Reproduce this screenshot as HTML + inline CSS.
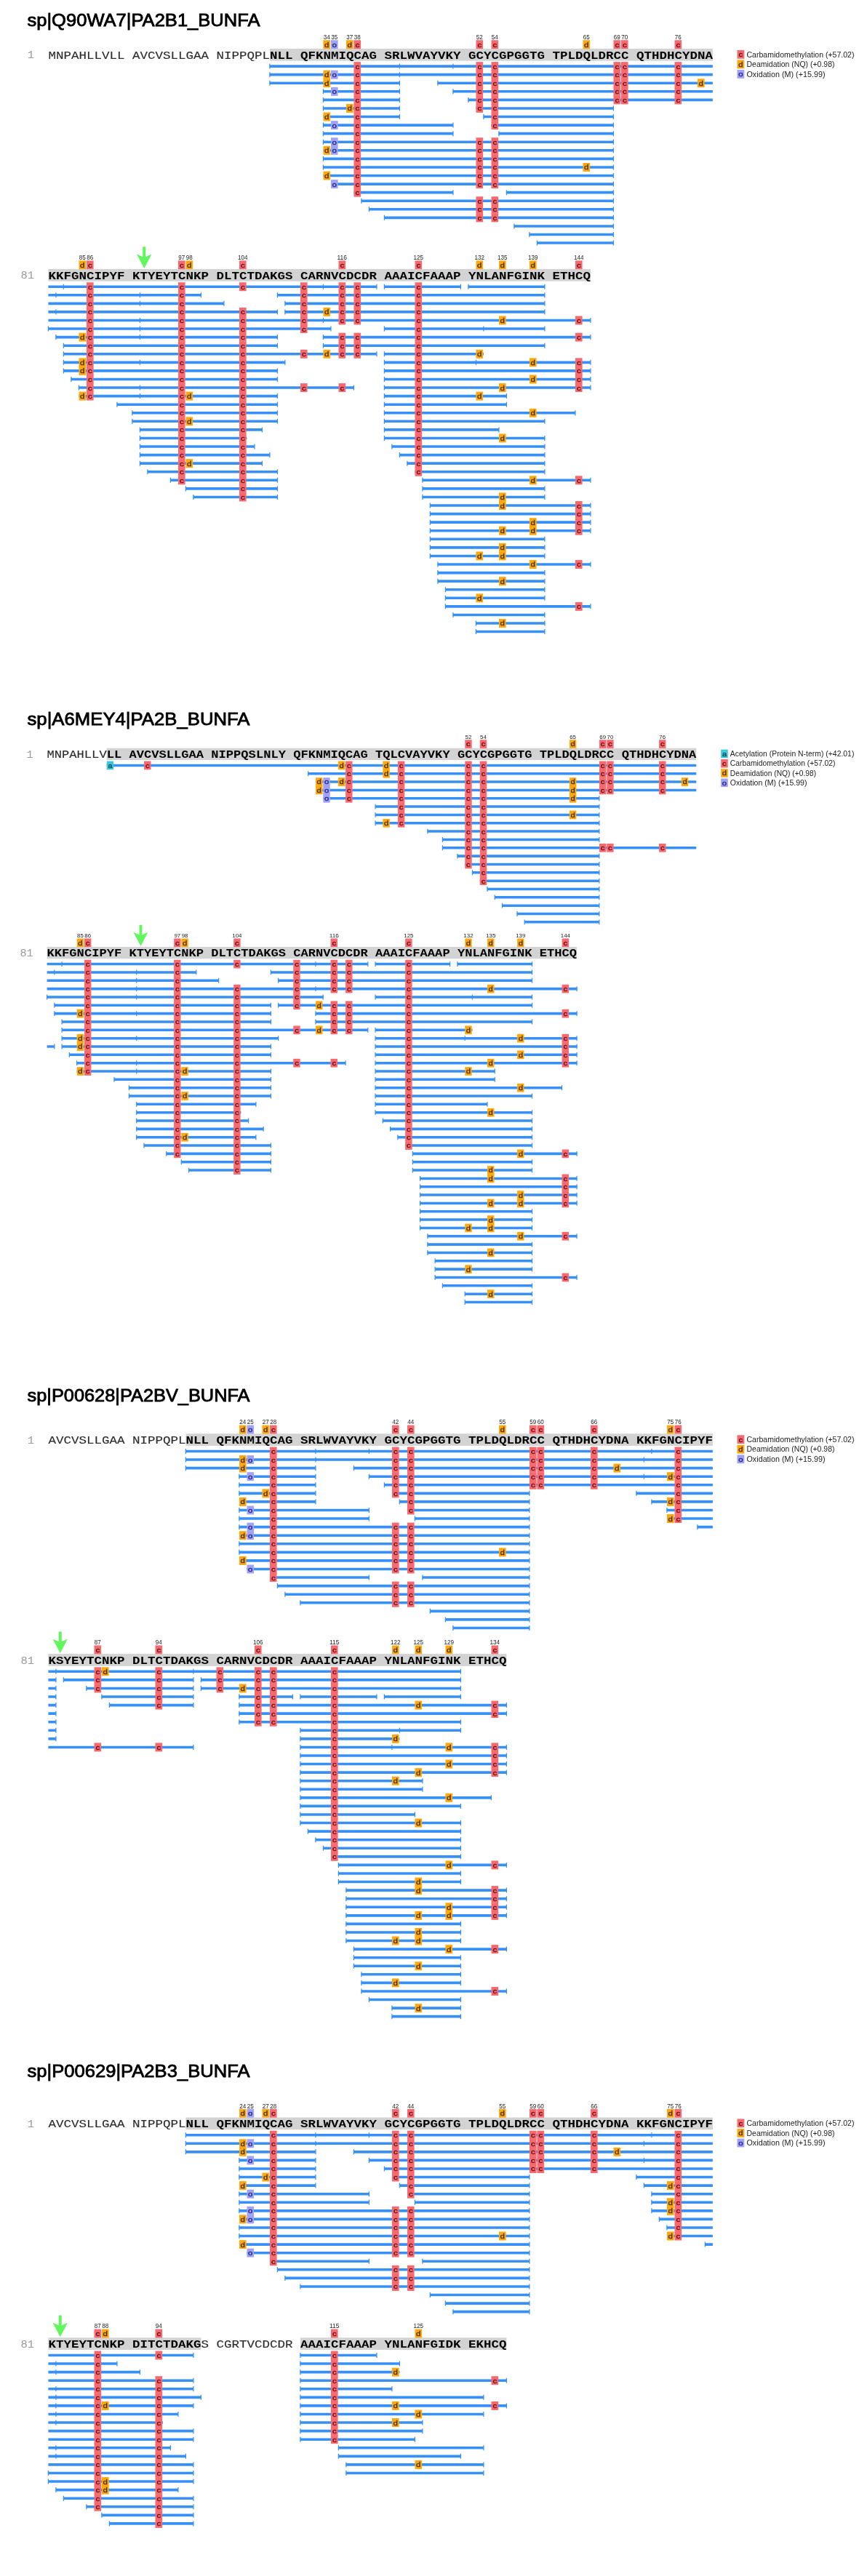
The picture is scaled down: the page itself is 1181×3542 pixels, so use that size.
<!DOCTYPE html>
<html><head><meta charset="utf-8"><title>Peptide coverage</title>
<style>html,body{margin:0;padding:0;background:#fff}svg{display:block;filter:blur(.4px)}text{font-family:"Liberation Sans",sans-serif}.ti{font-size:24.8px;fill:#000;stroke:#000;stroke-width:.85px}.s{font-family:"Liberation Mono",monospace;font-size:14.6px;fill:#2e2e2e;stroke:#2e2e2e;stroke-width:.15px}.sb{font-family:"Liberation Mono",monospace;font-size:14.6px;font-weight:bold;fill:#000}.n{font-family:"Liberation Mono",monospace;font-size:15.5px;fill:#9a9a9a}.m{font-size:9.6px;text-anchor:middle;stroke-width:.3px}.t{font-size:8.2px;text-anchor:middle;fill:#222}.lg{font-size:10.6px;fill:#222}</style></head><body>
<svg width="1181" height="3542" viewBox="0 0 1181 3542">
<rect width="1181" height="3542" fill="#fff"/>
<text x="37.5" y="36" class="ti" textLength="320" lengthAdjust="spacingAndGlyphs">sp|Q90WA7|PA2B1_BUNFA</text>
<g transform="translate(0 76.1)">
<rect x="370.9" y="-9.2" width="609" height="16.7" fill="#d3d3d3"/>
<text x="47" y="4.2" class="n" text-anchor="end">1</text>
<text x="66.4" y="4.4" class="s" textLength="105" lengthAdjust="spacingAndGlyphs">MNPAHLLVLL</text>
<text x="181.9" y="4.4" class="s" textLength="105" lengthAdjust="spacingAndGlyphs">AVCVSLLGAA</text>
<text x="297.4" y="4.4" class="s" textLength="73.5" lengthAdjust="spacingAndGlyphs">NIPPQPL</text>
<text x="370.9" y="4.4" class="sb" textLength="31.5" lengthAdjust="spacingAndGlyphs">NLL</text>
<text x="412.9" y="4.4" class="sb" textLength="105" lengthAdjust="spacingAndGlyphs">QFKNMIQCAG</text>
<text x="528.4" y="4.4" class="sb" textLength="105" lengthAdjust="spacingAndGlyphs">SRLWVAYVKY</text>
<text x="643.9" y="4.4" class="sb" textLength="105" lengthAdjust="spacingAndGlyphs">GCYCGPGGTG</text>
<text x="759.4" y="4.4" class="sb" textLength="105" lengthAdjust="spacingAndGlyphs">TPLDQLDRCC</text>
<text x="874.9" y="4.4" class="sb" textLength="105" lengthAdjust="spacingAndGlyphs">QTHDHCYDNA</text>
<rect x="444.5" y="-20.9" width="9.6" height="11.9" fill="#fda80c"/>
<text x="449.3" y="-11.45" class="m" fill="#4a3000" stroke="#4a3000" textLength="6.4" lengthAdjust="spacingAndGlyphs">d</text>
<text x="449.3" y="-22.2" class="t" textLength="9" lengthAdjust="spacingAndGlyphs">34</text>
<rect x="455" y="-20.9" width="9.6" height="11.9" fill="#a0a2fa"/>
<text x="459.8" y="-11.45" class="m" fill="#23277a" stroke="#23277a" textLength="6.4" lengthAdjust="spacingAndGlyphs">o</text>
<text x="459.8" y="-22.2" class="t" textLength="9" lengthAdjust="spacingAndGlyphs">35</text>
<rect x="476" y="-20.9" width="9.6" height="11.9" fill="#fda80c"/>
<text x="480.8" y="-11.45" class="m" fill="#4a3000" stroke="#4a3000" textLength="6.4" lengthAdjust="spacingAndGlyphs">d</text>
<text x="480.8" y="-22.2" class="t" textLength="9" lengthAdjust="spacingAndGlyphs">37</text>
<rect x="486.5" y="-20.9" width="9.6" height="11.9" fill="#f8696f"/>
<text x="491.3" y="-11.45" class="m" fill="#5c0c10" stroke="#5c0c10" textLength="5.8" lengthAdjust="spacingAndGlyphs">c</text>
<text x="491.3" y="-22.2" class="t" textLength="9" lengthAdjust="spacingAndGlyphs">38</text>
<rect x="654.5" y="-20.9" width="9.6" height="11.9" fill="#f8696f"/>
<text x="659.3" y="-11.45" class="m" fill="#5c0c10" stroke="#5c0c10" textLength="5.8" lengthAdjust="spacingAndGlyphs">c</text>
<text x="659.3" y="-22.2" class="t" textLength="9" lengthAdjust="spacingAndGlyphs">52</text>
<rect x="675.5" y="-20.9" width="9.6" height="11.9" fill="#f8696f"/>
<text x="680.3" y="-11.45" class="m" fill="#5c0c10" stroke="#5c0c10" textLength="5.8" lengthAdjust="spacingAndGlyphs">c</text>
<text x="680.3" y="-22.2" class="t" textLength="9" lengthAdjust="spacingAndGlyphs">54</text>
<rect x="801.5" y="-20.9" width="9.6" height="11.9" fill="#fda80c"/>
<text x="806.3" y="-11.45" class="m" fill="#4a3000" stroke="#4a3000" textLength="6.4" lengthAdjust="spacingAndGlyphs">d</text>
<text x="806.3" y="-22.2" class="t" textLength="9" lengthAdjust="spacingAndGlyphs">65</text>
<rect x="843.5" y="-20.9" width="9.6" height="11.9" fill="#f8696f"/>
<text x="848.3" y="-11.45" class="m" fill="#5c0c10" stroke="#5c0c10" textLength="5.8" lengthAdjust="spacingAndGlyphs">c</text>
<text x="848.3" y="-22.2" class="t" textLength="9" lengthAdjust="spacingAndGlyphs">69</text>
<rect x="854" y="-20.9" width="9.6" height="11.9" fill="#f8696f"/>
<text x="858.8" y="-11.45" class="m" fill="#5c0c10" stroke="#5c0c10" textLength="5.8" lengthAdjust="spacingAndGlyphs">c</text>
<text x="858.8" y="-22.2" class="t" textLength="9" lengthAdjust="spacingAndGlyphs">70</text>
<rect x="927.5" y="-20.9" width="9.6" height="11.9" fill="#f8696f"/>
<text x="932.3" y="-11.45" class="m" fill="#5c0c10" stroke="#5c0c10" textLength="5.8" lengthAdjust="spacingAndGlyphs">c</text>
<text x="932.3" y="-22.2" class="t" textLength="9" lengthAdjust="spacingAndGlyphs">76</text>
<path d="M370.9 15H549.4M549.4 15H622.9M622.9 15H979.9M370.9 26.57H549.4M549.4 26.57H979.9M370.9 38.14H549.4M601.9 38.14H979.9M444.4 49.71H549.4M622.9 49.71H979.9M444.4 61.28H549.4M643.9 61.28H979.9M444.4 72.85H549.4M654.4 72.85H843.4M444.4 84.42H549.4M664.9 84.42H843.4M444.4 95.99H622.9M675.4 95.99H843.4M444.4 107.56H622.9M685.9 107.56H843.4M444.4 119.13H843.4M444.4 130.7H843.4M444.4 142.27H843.4M444.4 153.84H843.4M444.4 165.41H843.4M454.9 176.98H843.4M486.4 188.55H622.9M696.4 188.55H843.4M496.9 200.12H843.4M507.4 211.69H843.4M528.4 223.26H843.4M706.9 234.83H843.4M727.9 246.4H843.4M738.4 257.97H843.4" stroke="#3690f8" stroke-width="3.6" fill="none"/>
<path d="M370.9 11.5v7M549.4 11.5v7M549.4 11.5v7M622.9 11.5v7M622.9 11.5v7M370.9 23.07v7M549.4 23.07v7M549.4 23.07v7M370.9 34.64v7M549.4 34.64v7M601.9 34.64v7M444.4 46.21v7M549.4 46.21v7M622.9 46.21v7M444.4 57.78v7M549.4 57.78v7M643.9 57.78v7M444.4 69.35v7M549.4 69.35v7M843.4 69.35v7M549.4 80.92v7M664.9 80.92v7M843.4 80.92v7M444.4 92.49v7M622.9 92.49v7M843.4 92.49v7M444.4 104.06v7M622.9 104.06v7M685.9 104.06v7M843.4 104.06v7M444.4 115.63v7M843.4 115.63v7M843.4 127.2v7M444.4 138.77v7M843.4 138.77v7M444.4 150.34v7M843.4 150.34v7M843.4 161.91v7M843.4 173.48v7M622.9 185.05v7M696.4 185.05v7M843.4 185.05v7M496.9 196.62v7M843.4 196.62v7M507.4 208.19v7M843.4 208.19v7M528.4 219.76v7M843.4 219.76v7M706.9 231.33v7M843.4 231.33v7M727.9 242.9v7M843.4 242.9v7M738.4 254.47v7M843.4 254.47v7" stroke="#3690f8" stroke-width="1.25" fill="none"/>
<rect x="486.5" y="9.02" width="9.6" height="11.97" fill="#f8696f"/>
<text x="491.3" y="18.5" class="m" fill="#5c0c10" stroke="#5c0c10" textLength="5.8" lengthAdjust="spacingAndGlyphs">c</text>
<rect x="654.5" y="9.02" width="9.6" height="11.97" fill="#f8696f"/>
<text x="659.3" y="18.5" class="m" fill="#5c0c10" stroke="#5c0c10" textLength="5.8" lengthAdjust="spacingAndGlyphs">c</text>
<rect x="675.5" y="9.02" width="9.6" height="11.97" fill="#f8696f"/>
<text x="680.3" y="18.5" class="m" fill="#5c0c10" stroke="#5c0c10" textLength="5.8" lengthAdjust="spacingAndGlyphs">c</text>
<rect x="843.5" y="9.02" width="9.6" height="11.97" fill="#f8696f"/>
<text x="848.3" y="18.5" class="m" fill="#5c0c10" stroke="#5c0c10" textLength="5.8" lengthAdjust="spacingAndGlyphs">c</text>
<rect x="854" y="9.02" width="9.6" height="11.97" fill="#f8696f"/>
<text x="858.8" y="18.5" class="m" fill="#5c0c10" stroke="#5c0c10" textLength="5.8" lengthAdjust="spacingAndGlyphs">c</text>
<rect x="927.5" y="9.02" width="9.6" height="11.97" fill="#f8696f"/>
<text x="932.3" y="18.5" class="m" fill="#5c0c10" stroke="#5c0c10" textLength="5.8" lengthAdjust="spacingAndGlyphs">c</text>
<rect x="444.5" y="20.59" width="9.6" height="11.97" fill="#fda80c"/>
<text x="449.3" y="30.07" class="m" fill="#4a3000" stroke="#4a3000" textLength="6.4" lengthAdjust="spacingAndGlyphs">d</text>
<rect x="455" y="20.59" width="9.6" height="11.97" fill="#a0a2fa"/>
<text x="459.8" y="30.07" class="m" fill="#23277a" stroke="#23277a" textLength="6.4" lengthAdjust="spacingAndGlyphs">o</text>
<rect x="486.5" y="20.59" width="9.6" height="11.97" fill="#f8696f"/>
<text x="491.3" y="30.07" class="m" fill="#5c0c10" stroke="#5c0c10" textLength="5.8" lengthAdjust="spacingAndGlyphs">c</text>
<rect x="654.5" y="20.59" width="9.6" height="11.97" fill="#f8696f"/>
<text x="659.3" y="30.07" class="m" fill="#5c0c10" stroke="#5c0c10" textLength="5.8" lengthAdjust="spacingAndGlyphs">c</text>
<rect x="675.5" y="20.59" width="9.6" height="11.97" fill="#f8696f"/>
<text x="680.3" y="30.07" class="m" fill="#5c0c10" stroke="#5c0c10" textLength="5.8" lengthAdjust="spacingAndGlyphs">c</text>
<rect x="843.5" y="20.59" width="9.6" height="11.97" fill="#f8696f"/>
<text x="848.3" y="30.07" class="m" fill="#5c0c10" stroke="#5c0c10" textLength="5.8" lengthAdjust="spacingAndGlyphs">c</text>
<rect x="854" y="20.59" width="9.6" height="11.97" fill="#f8696f"/>
<text x="858.8" y="30.07" class="m" fill="#5c0c10" stroke="#5c0c10" textLength="5.8" lengthAdjust="spacingAndGlyphs">c</text>
<rect x="927.5" y="20.59" width="9.6" height="11.97" fill="#f8696f"/>
<text x="932.3" y="30.07" class="m" fill="#5c0c10" stroke="#5c0c10" textLength="5.8" lengthAdjust="spacingAndGlyphs">c</text>
<rect x="444.5" y="32.16" width="9.6" height="11.97" fill="#fda80c"/>
<text x="449.3" y="41.64" class="m" fill="#4a3000" stroke="#4a3000" textLength="6.4" lengthAdjust="spacingAndGlyphs">d</text>
<rect x="486.5" y="32.16" width="9.6" height="11.97" fill="#f8696f"/>
<text x="491.3" y="41.64" class="m" fill="#5c0c10" stroke="#5c0c10" textLength="5.8" lengthAdjust="spacingAndGlyphs">c</text>
<rect x="654.5" y="32.16" width="9.6" height="11.97" fill="#f8696f"/>
<text x="659.3" y="41.64" class="m" fill="#5c0c10" stroke="#5c0c10" textLength="5.8" lengthAdjust="spacingAndGlyphs">c</text>
<rect x="675.5" y="32.16" width="9.6" height="11.97" fill="#f8696f"/>
<text x="680.3" y="41.64" class="m" fill="#5c0c10" stroke="#5c0c10" textLength="5.8" lengthAdjust="spacingAndGlyphs">c</text>
<rect x="843.5" y="32.16" width="9.6" height="11.97" fill="#f8696f"/>
<text x="848.3" y="41.64" class="m" fill="#5c0c10" stroke="#5c0c10" textLength="5.8" lengthAdjust="spacingAndGlyphs">c</text>
<rect x="854" y="32.16" width="9.6" height="11.97" fill="#f8696f"/>
<text x="858.8" y="41.64" class="m" fill="#5c0c10" stroke="#5c0c10" textLength="5.8" lengthAdjust="spacingAndGlyphs">c</text>
<rect x="927.5" y="32.16" width="9.6" height="11.97" fill="#f8696f"/>
<text x="932.3" y="41.64" class="m" fill="#5c0c10" stroke="#5c0c10" textLength="5.8" lengthAdjust="spacingAndGlyphs">c</text>
<rect x="959" y="32.16" width="9.6" height="11.97" fill="#fda80c"/>
<text x="963.8" y="41.64" class="m" fill="#4a3000" stroke="#4a3000" textLength="6.4" lengthAdjust="spacingAndGlyphs">d</text>
<rect x="455" y="43.72" width="9.6" height="11.97" fill="#a0a2fa"/>
<text x="459.8" y="53.21" class="m" fill="#23277a" stroke="#23277a" textLength="6.4" lengthAdjust="spacingAndGlyphs">o</text>
<rect x="486.5" y="43.72" width="9.6" height="11.97" fill="#f8696f"/>
<text x="491.3" y="53.21" class="m" fill="#5c0c10" stroke="#5c0c10" textLength="5.8" lengthAdjust="spacingAndGlyphs">c</text>
<rect x="654.5" y="43.72" width="9.6" height="11.97" fill="#f8696f"/>
<text x="659.3" y="53.21" class="m" fill="#5c0c10" stroke="#5c0c10" textLength="5.8" lengthAdjust="spacingAndGlyphs">c</text>
<rect x="675.5" y="43.72" width="9.6" height="11.97" fill="#f8696f"/>
<text x="680.3" y="53.21" class="m" fill="#5c0c10" stroke="#5c0c10" textLength="5.8" lengthAdjust="spacingAndGlyphs">c</text>
<rect x="843.5" y="43.72" width="9.6" height="11.97" fill="#f8696f"/>
<text x="848.3" y="53.21" class="m" fill="#5c0c10" stroke="#5c0c10" textLength="5.8" lengthAdjust="spacingAndGlyphs">c</text>
<rect x="854" y="43.72" width="9.6" height="11.97" fill="#f8696f"/>
<text x="858.8" y="53.21" class="m" fill="#5c0c10" stroke="#5c0c10" textLength="5.8" lengthAdjust="spacingAndGlyphs">c</text>
<rect x="927.5" y="43.72" width="9.6" height="11.97" fill="#f8696f"/>
<text x="932.3" y="53.21" class="m" fill="#5c0c10" stroke="#5c0c10" textLength="5.8" lengthAdjust="spacingAndGlyphs">c</text>
<rect x="486.5" y="55.3" width="9.6" height="11.97" fill="#f8696f"/>
<text x="491.3" y="64.78" class="m" fill="#5c0c10" stroke="#5c0c10" textLength="5.8" lengthAdjust="spacingAndGlyphs">c</text>
<rect x="654.5" y="55.3" width="9.6" height="11.97" fill="#f8696f"/>
<text x="659.3" y="64.78" class="m" fill="#5c0c10" stroke="#5c0c10" textLength="5.8" lengthAdjust="spacingAndGlyphs">c</text>
<rect x="675.5" y="55.3" width="9.6" height="11.97" fill="#f8696f"/>
<text x="680.3" y="64.78" class="m" fill="#5c0c10" stroke="#5c0c10" textLength="5.8" lengthAdjust="spacingAndGlyphs">c</text>
<rect x="843.5" y="55.3" width="9.6" height="11.97" fill="#f8696f"/>
<text x="848.3" y="64.78" class="m" fill="#5c0c10" stroke="#5c0c10" textLength="5.8" lengthAdjust="spacingAndGlyphs">c</text>
<rect x="854" y="55.3" width="9.6" height="11.97" fill="#f8696f"/>
<text x="858.8" y="64.78" class="m" fill="#5c0c10" stroke="#5c0c10" textLength="5.8" lengthAdjust="spacingAndGlyphs">c</text>
<rect x="927.5" y="55.3" width="9.6" height="11.97" fill="#f8696f"/>
<text x="932.3" y="64.78" class="m" fill="#5c0c10" stroke="#5c0c10" textLength="5.8" lengthAdjust="spacingAndGlyphs">c</text>
<rect x="476" y="66.86" width="9.6" height="11.97" fill="#fda80c"/>
<text x="480.8" y="76.35" class="m" fill="#4a3000" stroke="#4a3000" textLength="6.4" lengthAdjust="spacingAndGlyphs">d</text>
<rect x="486.5" y="66.86" width="9.6" height="11.97" fill="#f8696f"/>
<text x="491.3" y="76.35" class="m" fill="#5c0c10" stroke="#5c0c10" textLength="5.8" lengthAdjust="spacingAndGlyphs">c</text>
<rect x="654.5" y="66.86" width="9.6" height="11.97" fill="#f8696f"/>
<text x="659.3" y="76.35" class="m" fill="#5c0c10" stroke="#5c0c10" textLength="5.8" lengthAdjust="spacingAndGlyphs">c</text>
<rect x="675.5" y="66.86" width="9.6" height="11.97" fill="#f8696f"/>
<text x="680.3" y="76.35" class="m" fill="#5c0c10" stroke="#5c0c10" textLength="5.8" lengthAdjust="spacingAndGlyphs">c</text>
<rect x="444.5" y="78.44" width="9.6" height="11.97" fill="#fda80c"/>
<text x="449.3" y="87.92" class="m" fill="#4a3000" stroke="#4a3000" textLength="6.4" lengthAdjust="spacingAndGlyphs">d</text>
<rect x="486.5" y="78.44" width="9.6" height="11.97" fill="#f8696f"/>
<text x="491.3" y="87.92" class="m" fill="#5c0c10" stroke="#5c0c10" textLength="5.8" lengthAdjust="spacingAndGlyphs">c</text>
<rect x="675.5" y="78.44" width="9.6" height="11.97" fill="#f8696f"/>
<text x="680.3" y="87.92" class="m" fill="#5c0c10" stroke="#5c0c10" textLength="5.8" lengthAdjust="spacingAndGlyphs">c</text>
<rect x="455" y="90.01" width="9.6" height="11.97" fill="#a0a2fa"/>
<text x="459.8" y="99.49" class="m" fill="#23277a" stroke="#23277a" textLength="6.4" lengthAdjust="spacingAndGlyphs">o</text>
<rect x="486.5" y="90.01" width="9.6" height="11.97" fill="#f8696f"/>
<text x="491.3" y="99.49" class="m" fill="#5c0c10" stroke="#5c0c10" textLength="5.8" lengthAdjust="spacingAndGlyphs">c</text>
<rect x="675.5" y="90.01" width="9.6" height="11.97" fill="#f8696f"/>
<text x="680.3" y="99.49" class="m" fill="#5c0c10" stroke="#5c0c10" textLength="5.8" lengthAdjust="spacingAndGlyphs">c</text>
<rect x="486.5" y="101.58" width="9.6" height="11.97" fill="#f8696f"/>
<text x="491.3" y="111.06" class="m" fill="#5c0c10" stroke="#5c0c10" textLength="5.8" lengthAdjust="spacingAndGlyphs">c</text>
<rect x="455" y="113.14" width="9.6" height="11.97" fill="#a0a2fa"/>
<text x="459.8" y="122.63" class="m" fill="#23277a" stroke="#23277a" textLength="6.4" lengthAdjust="spacingAndGlyphs">o</text>
<rect x="486.5" y="113.14" width="9.6" height="11.97" fill="#f8696f"/>
<text x="491.3" y="122.63" class="m" fill="#5c0c10" stroke="#5c0c10" textLength="5.8" lengthAdjust="spacingAndGlyphs">c</text>
<rect x="654.5" y="113.14" width="9.6" height="11.97" fill="#f8696f"/>
<text x="659.3" y="122.63" class="m" fill="#5c0c10" stroke="#5c0c10" textLength="5.8" lengthAdjust="spacingAndGlyphs">c</text>
<rect x="675.5" y="113.14" width="9.6" height="11.97" fill="#f8696f"/>
<text x="680.3" y="122.63" class="m" fill="#5c0c10" stroke="#5c0c10" textLength="5.8" lengthAdjust="spacingAndGlyphs">c</text>
<rect x="444.5" y="124.71" width="9.6" height="11.97" fill="#fda80c"/>
<text x="449.3" y="134.2" class="m" fill="#4a3000" stroke="#4a3000" textLength="6.4" lengthAdjust="spacingAndGlyphs">d</text>
<rect x="455" y="124.71" width="9.6" height="11.97" fill="#a0a2fa"/>
<text x="459.8" y="134.2" class="m" fill="#23277a" stroke="#23277a" textLength="6.4" lengthAdjust="spacingAndGlyphs">o</text>
<rect x="486.5" y="124.71" width="9.6" height="11.97" fill="#f8696f"/>
<text x="491.3" y="134.2" class="m" fill="#5c0c10" stroke="#5c0c10" textLength="5.8" lengthAdjust="spacingAndGlyphs">c</text>
<rect x="654.5" y="124.71" width="9.6" height="11.97" fill="#f8696f"/>
<text x="659.3" y="134.2" class="m" fill="#5c0c10" stroke="#5c0c10" textLength="5.8" lengthAdjust="spacingAndGlyphs">c</text>
<rect x="675.5" y="124.71" width="9.6" height="11.97" fill="#f8696f"/>
<text x="680.3" y="134.2" class="m" fill="#5c0c10" stroke="#5c0c10" textLength="5.8" lengthAdjust="spacingAndGlyphs">c</text>
<rect x="486.5" y="136.29" width="9.6" height="11.97" fill="#f8696f"/>
<text x="491.3" y="145.77" class="m" fill="#5c0c10" stroke="#5c0c10" textLength="5.8" lengthAdjust="spacingAndGlyphs">c</text>
<rect x="654.5" y="136.29" width="9.6" height="11.97" fill="#f8696f"/>
<text x="659.3" y="145.77" class="m" fill="#5c0c10" stroke="#5c0c10" textLength="5.8" lengthAdjust="spacingAndGlyphs">c</text>
<rect x="675.5" y="136.29" width="9.6" height="11.97" fill="#f8696f"/>
<text x="680.3" y="145.77" class="m" fill="#5c0c10" stroke="#5c0c10" textLength="5.8" lengthAdjust="spacingAndGlyphs">c</text>
<rect x="486.5" y="147.86" width="9.6" height="11.97" fill="#f8696f"/>
<text x="491.3" y="157.34" class="m" fill="#5c0c10" stroke="#5c0c10" textLength="5.8" lengthAdjust="spacingAndGlyphs">c</text>
<rect x="654.5" y="147.86" width="9.6" height="11.97" fill="#f8696f"/>
<text x="659.3" y="157.34" class="m" fill="#5c0c10" stroke="#5c0c10" textLength="5.8" lengthAdjust="spacingAndGlyphs">c</text>
<rect x="675.5" y="147.86" width="9.6" height="11.97" fill="#f8696f"/>
<text x="680.3" y="157.34" class="m" fill="#5c0c10" stroke="#5c0c10" textLength="5.8" lengthAdjust="spacingAndGlyphs">c</text>
<rect x="801.5" y="147.86" width="9.6" height="11.97" fill="#fda80c"/>
<text x="806.3" y="157.34" class="m" fill="#4a3000" stroke="#4a3000" textLength="6.4" lengthAdjust="spacingAndGlyphs">d</text>
<rect x="444.5" y="159.43" width="9.6" height="11.97" fill="#fda80c"/>
<text x="449.3" y="168.91" class="m" fill="#4a3000" stroke="#4a3000" textLength="6.4" lengthAdjust="spacingAndGlyphs">d</text>
<rect x="486.5" y="159.43" width="9.6" height="11.97" fill="#f8696f"/>
<text x="491.3" y="168.91" class="m" fill="#5c0c10" stroke="#5c0c10" textLength="5.8" lengthAdjust="spacingAndGlyphs">c</text>
<rect x="654.5" y="159.43" width="9.6" height="11.97" fill="#f8696f"/>
<text x="659.3" y="168.91" class="m" fill="#5c0c10" stroke="#5c0c10" textLength="5.8" lengthAdjust="spacingAndGlyphs">c</text>
<rect x="675.5" y="159.43" width="9.6" height="11.97" fill="#f8696f"/>
<text x="680.3" y="168.91" class="m" fill="#5c0c10" stroke="#5c0c10" textLength="5.8" lengthAdjust="spacingAndGlyphs">c</text>
<rect x="455" y="171" width="9.6" height="11.97" fill="#a0a2fa"/>
<text x="459.8" y="180.48" class="m" fill="#23277a" stroke="#23277a" textLength="6.4" lengthAdjust="spacingAndGlyphs">o</text>
<rect x="486.5" y="171" width="9.6" height="11.97" fill="#f8696f"/>
<text x="491.3" y="180.48" class="m" fill="#5c0c10" stroke="#5c0c10" textLength="5.8" lengthAdjust="spacingAndGlyphs">c</text>
<rect x="654.5" y="171" width="9.6" height="11.97" fill="#f8696f"/>
<text x="659.3" y="180.48" class="m" fill="#5c0c10" stroke="#5c0c10" textLength="5.8" lengthAdjust="spacingAndGlyphs">c</text>
<rect x="675.5" y="171" width="9.6" height="11.97" fill="#f8696f"/>
<text x="680.3" y="180.48" class="m" fill="#5c0c10" stroke="#5c0c10" textLength="5.8" lengthAdjust="spacingAndGlyphs">c</text>
<rect x="486.5" y="182.57" width="9.6" height="11.97" fill="#f8696f"/>
<text x="491.3" y="192.05" class="m" fill="#5c0c10" stroke="#5c0c10" textLength="5.8" lengthAdjust="spacingAndGlyphs">c</text>
<rect x="654.5" y="194.14" width="9.6" height="11.97" fill="#f8696f"/>
<text x="659.3" y="203.62" class="m" fill="#5c0c10" stroke="#5c0c10" textLength="5.8" lengthAdjust="spacingAndGlyphs">c</text>
<rect x="675.5" y="194.14" width="9.6" height="11.97" fill="#f8696f"/>
<text x="680.3" y="203.62" class="m" fill="#5c0c10" stroke="#5c0c10" textLength="5.8" lengthAdjust="spacingAndGlyphs">c</text>
<rect x="654.5" y="205.71" width="9.6" height="11.97" fill="#f8696f"/>
<text x="659.3" y="215.19" class="m" fill="#5c0c10" stroke="#5c0c10" textLength="5.8" lengthAdjust="spacingAndGlyphs">c</text>
<rect x="675.5" y="205.71" width="9.6" height="11.97" fill="#f8696f"/>
<text x="680.3" y="215.19" class="m" fill="#5c0c10" stroke="#5c0c10" textLength="5.8" lengthAdjust="spacingAndGlyphs">c</text>
<rect x="654.5" y="217.28" width="9.6" height="11.97" fill="#f8696f"/>
<text x="659.3" y="226.76" class="m" fill="#5c0c10" stroke="#5c0c10" textLength="5.8" lengthAdjust="spacingAndGlyphs">c</text>
<rect x="675.5" y="217.28" width="9.6" height="11.97" fill="#f8696f"/>
<text x="680.3" y="226.76" class="m" fill="#5c0c10" stroke="#5c0c10" textLength="5.8" lengthAdjust="spacingAndGlyphs">c</text>
<rect x="1013.5" y="-7.2" width="9.8" height="11.8" fill="#f8696f"/>
<text x="1018.4" y="2.2" class="m" fill="#5c0c10" stroke="#5c0c10" textLength="5.8" lengthAdjust="spacingAndGlyphs">c</text>
<text x="1026.5" y="2.4" class="lg" textLength="148" lengthAdjust="spacingAndGlyphs">Carbamidomethylation (+57.02)</text>
<rect x="1013.5" y="6.35" width="9.8" height="11.8" fill="#fda80c"/>
<text x="1018.4" y="15.75" class="m" fill="#4a3000" stroke="#4a3000" textLength="6.4" lengthAdjust="spacingAndGlyphs">d</text>
<text x="1026.5" y="15.95" class="lg" textLength="121" lengthAdjust="spacingAndGlyphs">Deamidation (NQ) (+0.98)</text>
<rect x="1013.5" y="19.9" width="9.8" height="11.8" fill="#a0a2fa"/>
<text x="1018.4" y="29.3" class="m" fill="#23277a" stroke="#23277a" textLength="6.4" lengthAdjust="spacingAndGlyphs">o</text>
<text x="1026.5" y="29.5" class="lg" textLength="108" lengthAdjust="spacingAndGlyphs">Oxidation (M) (+15.99)</text>
</g>
<g transform="translate(0 379.2)">
<rect x="66.4" y="-9.2" width="745.5" height="16.7" fill="#d3d3d3"/>
<text x="47" y="4.2" class="n" text-anchor="end">81</text>
<text x="66.4" y="4.4" class="sb" textLength="105" lengthAdjust="spacingAndGlyphs">KKFGNCIPYF</text>
<text x="181.9" y="4.4" class="sb" textLength="105" lengthAdjust="spacingAndGlyphs">KTYEYTCNKP</text>
<text x="297.4" y="4.4" class="sb" textLength="105" lengthAdjust="spacingAndGlyphs">DLTCTDAKGS</text>
<text x="412.9" y="4.4" class="sb" textLength="105" lengthAdjust="spacingAndGlyphs">CARNVCDCDR</text>
<text x="528.4" y="4.4" class="sb" textLength="105" lengthAdjust="spacingAndGlyphs">AAAICFAAAP</text>
<text x="643.9" y="4.4" class="sb" textLength="105" lengthAdjust="spacingAndGlyphs">YNLANFGINK</text>
<text x="759.4" y="4.4" class="sb" textLength="52.5" lengthAdjust="spacingAndGlyphs">ETHCQ</text>
<rect x="108.5" y="-20.9" width="9.6" height="11.9" fill="#fda80c"/>
<text x="113.3" y="-11.45" class="m" fill="#4a3000" stroke="#4a3000" textLength="6.4" lengthAdjust="spacingAndGlyphs">d</text>
<text x="113.3" y="-22.2" class="t" textLength="9" lengthAdjust="spacingAndGlyphs">85</text>
<rect x="119" y="-20.9" width="9.6" height="11.9" fill="#f8696f"/>
<text x="123.8" y="-11.45" class="m" fill="#5c0c10" stroke="#5c0c10" textLength="5.8" lengthAdjust="spacingAndGlyphs">c</text>
<text x="123.8" y="-22.2" class="t" textLength="9" lengthAdjust="spacingAndGlyphs">86</text>
<rect x="245" y="-20.9" width="9.6" height="11.9" fill="#f8696f"/>
<text x="249.8" y="-11.45" class="m" fill="#5c0c10" stroke="#5c0c10" textLength="5.8" lengthAdjust="spacingAndGlyphs">c</text>
<text x="249.8" y="-22.2" class="t" textLength="9" lengthAdjust="spacingAndGlyphs">97</text>
<rect x="255.5" y="-20.9" width="9.6" height="11.9" fill="#fda80c"/>
<text x="260.3" y="-11.45" class="m" fill="#4a3000" stroke="#4a3000" textLength="6.4" lengthAdjust="spacingAndGlyphs">d</text>
<text x="260.3" y="-22.2" class="t" textLength="9" lengthAdjust="spacingAndGlyphs">98</text>
<rect x="329" y="-20.9" width="9.6" height="11.9" fill="#f8696f"/>
<text x="333.8" y="-11.45" class="m" fill="#5c0c10" stroke="#5c0c10" textLength="5.8" lengthAdjust="spacingAndGlyphs">c</text>
<text x="333.8" y="-22.2" class="t" textLength="13.5" lengthAdjust="spacingAndGlyphs">104</text>
<rect x="465.5" y="-20.9" width="9.6" height="11.9" fill="#f8696f"/>
<text x="470.3" y="-11.45" class="m" fill="#5c0c10" stroke="#5c0c10" textLength="5.8" lengthAdjust="spacingAndGlyphs">c</text>
<text x="470.3" y="-22.2" class="t" textLength="13.5" lengthAdjust="spacingAndGlyphs">116</text>
<rect x="570.5" y="-20.9" width="9.6" height="11.9" fill="#f8696f"/>
<text x="575.3" y="-11.45" class="m" fill="#5c0c10" stroke="#5c0c10" textLength="5.8" lengthAdjust="spacingAndGlyphs">c</text>
<text x="575.3" y="-22.2" class="t" textLength="13.5" lengthAdjust="spacingAndGlyphs">125</text>
<rect x="654.5" y="-20.9" width="9.6" height="11.9" fill="#fda80c"/>
<text x="659.3" y="-11.45" class="m" fill="#4a3000" stroke="#4a3000" textLength="6.4" lengthAdjust="spacingAndGlyphs">d</text>
<text x="659.3" y="-22.2" class="t" textLength="13.5" lengthAdjust="spacingAndGlyphs">132</text>
<rect x="686" y="-20.9" width="9.6" height="11.9" fill="#fda80c"/>
<text x="690.8" y="-11.45" class="m" fill="#4a3000" stroke="#4a3000" textLength="6.4" lengthAdjust="spacingAndGlyphs">d</text>
<text x="690.8" y="-22.2" class="t" textLength="13.5" lengthAdjust="spacingAndGlyphs">135</text>
<rect x="728" y="-20.9" width="9.6" height="11.9" fill="#fda80c"/>
<text x="732.8" y="-11.45" class="m" fill="#4a3000" stroke="#4a3000" textLength="6.4" lengthAdjust="spacingAndGlyphs">d</text>
<text x="732.8" y="-22.2" class="t" textLength="13.5" lengthAdjust="spacingAndGlyphs">139</text>
<rect x="791" y="-20.9" width="9.6" height="11.9" fill="#f8696f"/>
<text x="795.8" y="-11.45" class="m" fill="#5c0c10" stroke="#5c0c10" textLength="5.8" lengthAdjust="spacingAndGlyphs">c</text>
<text x="795.8" y="-22.2" class="t" textLength="13.5" lengthAdjust="spacingAndGlyphs">144</text>
<path d="M198.25 -10.3l-10.2 -19.4l8.2 3.7v-13.9h4v13.9l8.2 -3.7z" fill="#5ff75c"/>
<path d="M66.4 15H87.4M87.4 15H444.4M444.4 15H517.9M528.4 15H633.4M643.9 15H748.9M66.4 26.57H76.9M76.9 26.57H192.4M192.4 26.57H276.4M381.4 26.57H748.9M66.4 38.14H192.4M192.4 38.14H307.9M391.9 38.14H748.9M66.4 49.71H76.9M76.9 49.71H381.4M391.9 49.71H748.9M66.4 61.28H192.4M192.4 61.28H444.4M444.4 61.28H811.9M66.4 72.85H192.4M192.4 72.85H454.9M528.4 72.85H664.9M664.9 72.85H748.9M76.9 84.42H192.4M192.4 84.42H381.4M444.4 84.42H811.9M87.4 95.99H381.4M444.4 95.99H748.9M87.4 107.56H517.9M528.4 107.56H664.9M87.4 119.13H192.4M192.4 119.13H391.9M528.4 119.13H654.4M654.4 119.13H811.9M87.4 130.7H381.4M528.4 130.7H811.9M97.9 142.27H381.4M528.4 142.27H811.9M108.4 153.84H192.4M192.4 153.84H486.4M528.4 153.84H811.9M108.4 165.41H192.4M192.4 165.41H381.4M528.4 165.41H696.4M160.9 176.98H381.4M528.4 176.98H696.4M181.9 188.55H381.4M528.4 188.55H790.9M181.9 200.12H381.4M528.4 200.12H748.9M192.4 211.69H360.4M528.4 211.69H685.9M192.4 223.26H339.4M528.4 223.26H748.9M192.4 234.83H349.9M538.9 234.83H748.9M192.4 246.4H370.9M549.4 246.4H748.9M192.4 257.97H360.4M559.9 257.97H748.9M202.9 269.54H381.4M570.4 269.54H748.9M234.4 281.11H381.4M580.9 281.11H811.9M255.4 292.68H381.4M580.9 292.68H748.9M265.9 304.25H381.4M580.9 304.25H748.9M591.4 315.82H811.9M591.4 327.39H811.9M591.4 338.96H811.9M591.4 350.53H811.9M591.4 362.1H748.9M591.4 373.67H748.9M591.4 385.24H748.9M601.9 396.81H811.9M601.9 408.38H748.9M601.9 419.95H748.9M612.4 431.52H748.9M612.4 443.09H748.9M612.4 454.66H811.9M622.9 466.23H748.9M654.4 477.8H748.9M654.4 489.37H748.9" stroke="#3690f8" stroke-width="3.6" fill="none"/>
<path d="M87.4 11.5v7M87.4 11.5v7M444.4 11.5v7M444.4 11.5v7M517.9 11.5v7M528.4 11.5v7M633.4 11.5v7M643.9 11.5v7M748.9 11.5v7M76.9 23.07v7M76.9 23.07v7M192.4 23.07v7M192.4 23.07v7M276.4 23.07v7M381.4 23.07v7M748.9 23.07v7M192.4 34.64v7M192.4 34.64v7M307.9 34.64v7M391.9 34.64v7M748.9 34.64v7M76.9 46.21v7M76.9 46.21v7M381.4 46.21v7M391.9 46.21v7M748.9 46.21v7M192.4 57.78v7M192.4 57.78v7M444.4 57.78v7M444.4 57.78v7M811.9 57.78v7M66.4 69.35v7M192.4 69.35v7M192.4 69.35v7M454.9 69.35v7M528.4 69.35v7M664.9 69.35v7M664.9 69.35v7M748.9 69.35v7M76.9 80.92v7M192.4 80.92v7M192.4 80.92v7M381.4 80.92v7M444.4 80.92v7M811.9 80.92v7M87.4 92.49v7M381.4 92.49v7M444.4 92.49v7M748.9 92.49v7M87.4 104.06v7M517.9 104.06v7M528.4 104.06v7M87.4 115.63v7M192.4 115.63v7M192.4 115.63v7M391.9 115.63v7M528.4 115.63v7M654.4 115.63v7M654.4 115.63v7M811.9 115.63v7M87.4 127.2v7M381.4 127.2v7M528.4 127.2v7M811.9 127.2v7M97.9 138.77v7M381.4 138.77v7M528.4 138.77v7M811.9 138.77v7M108.4 150.34v7M192.4 150.34v7M192.4 150.34v7M486.4 150.34v7M528.4 150.34v7M811.9 150.34v7M192.4 161.91v7M192.4 161.91v7M381.4 161.91v7M528.4 161.91v7M696.4 161.91v7M160.9 173.48v7M381.4 173.48v7M528.4 173.48v7M696.4 173.48v7M181.9 185.05v7M381.4 185.05v7M528.4 185.05v7M790.9 185.05v7M181.9 196.62v7M381.4 196.62v7M528.4 196.62v7M748.9 196.62v7M192.4 208.19v7M360.4 208.19v7M528.4 208.19v7M685.9 208.19v7M192.4 219.76v7M528.4 219.76v7M748.9 219.76v7M192.4 231.33v7M349.9 231.33v7M538.9 231.33v7M748.9 231.33v7M192.4 242.9v7M370.9 242.9v7M549.4 242.9v7M748.9 242.9v7M192.4 254.47v7M360.4 254.47v7M559.9 254.47v7M748.9 254.47v7M202.9 266.04v7M381.4 266.04v7M748.9 266.04v7M234.4 277.61v7M381.4 277.61v7M580.9 277.61v7M811.9 277.61v7M255.4 289.18v7M381.4 289.18v7M580.9 289.18v7M748.9 289.18v7M265.9 300.75v7M381.4 300.75v7M580.9 300.75v7M748.9 300.75v7M591.4 312.32v7M811.9 312.32v7M591.4 323.89v7M811.9 323.89v7M591.4 335.46v7M811.9 335.46v7M591.4 347.03v7M811.9 347.03v7M591.4 358.6v7M748.9 358.6v7M591.4 370.17v7M748.9 370.17v7M591.4 381.74v7M748.9 381.74v7M601.9 393.31v7M811.9 393.31v7M601.9 404.88v7M748.9 404.88v7M601.9 416.45v7M748.9 416.45v7M612.4 428.02v7M748.9 428.02v7M612.4 439.59v7M748.9 439.59v7M612.4 451.16v7M811.9 451.16v7M622.9 462.73v7M748.9 462.73v7M654.4 474.3v7M748.9 474.3v7M654.4 485.87v7M748.9 485.87v7" stroke="#3690f8" stroke-width="1.25" fill="none"/>
<rect x="119" y="9.02" width="9.6" height="11.97" fill="#f8696f"/>
<text x="123.8" y="18.5" class="m" fill="#5c0c10" stroke="#5c0c10" textLength="5.8" lengthAdjust="spacingAndGlyphs">c</text>
<rect x="245" y="9.02" width="9.6" height="11.97" fill="#f8696f"/>
<text x="249.8" y="18.5" class="m" fill="#5c0c10" stroke="#5c0c10" textLength="5.8" lengthAdjust="spacingAndGlyphs">c</text>
<rect x="329" y="9.02" width="9.6" height="11.97" fill="#f8696f"/>
<text x="333.8" y="18.5" class="m" fill="#5c0c10" stroke="#5c0c10" textLength="5.8" lengthAdjust="spacingAndGlyphs">c</text>
<rect x="413" y="9.02" width="9.6" height="11.97" fill="#f8696f"/>
<text x="417.8" y="18.5" class="m" fill="#5c0c10" stroke="#5c0c10" textLength="5.8" lengthAdjust="spacingAndGlyphs">c</text>
<rect x="465.5" y="9.02" width="9.6" height="11.97" fill="#f8696f"/>
<text x="470.3" y="18.5" class="m" fill="#5c0c10" stroke="#5c0c10" textLength="5.8" lengthAdjust="spacingAndGlyphs">c</text>
<rect x="486.5" y="9.02" width="9.6" height="11.97" fill="#f8696f"/>
<text x="491.3" y="18.5" class="m" fill="#5c0c10" stroke="#5c0c10" textLength="5.8" lengthAdjust="spacingAndGlyphs">c</text>
<rect x="570.5" y="9.02" width="9.6" height="11.97" fill="#f8696f"/>
<text x="575.3" y="18.5" class="m" fill="#5c0c10" stroke="#5c0c10" textLength="5.8" lengthAdjust="spacingAndGlyphs">c</text>
<rect x="119" y="20.59" width="9.6" height="11.97" fill="#f8696f"/>
<text x="123.8" y="30.07" class="m" fill="#5c0c10" stroke="#5c0c10" textLength="5.8" lengthAdjust="spacingAndGlyphs">c</text>
<rect x="245" y="20.59" width="9.6" height="11.97" fill="#f8696f"/>
<text x="249.8" y="30.07" class="m" fill="#5c0c10" stroke="#5c0c10" textLength="5.8" lengthAdjust="spacingAndGlyphs">c</text>
<rect x="413" y="20.59" width="9.6" height="11.97" fill="#f8696f"/>
<text x="417.8" y="30.07" class="m" fill="#5c0c10" stroke="#5c0c10" textLength="5.8" lengthAdjust="spacingAndGlyphs">c</text>
<rect x="465.5" y="20.59" width="9.6" height="11.97" fill="#f8696f"/>
<text x="470.3" y="30.07" class="m" fill="#5c0c10" stroke="#5c0c10" textLength="5.8" lengthAdjust="spacingAndGlyphs">c</text>
<rect x="486.5" y="20.59" width="9.6" height="11.97" fill="#f8696f"/>
<text x="491.3" y="30.07" class="m" fill="#5c0c10" stroke="#5c0c10" textLength="5.8" lengthAdjust="spacingAndGlyphs">c</text>
<rect x="570.5" y="20.59" width="9.6" height="11.97" fill="#f8696f"/>
<text x="575.3" y="30.07" class="m" fill="#5c0c10" stroke="#5c0c10" textLength="5.8" lengthAdjust="spacingAndGlyphs">c</text>
<rect x="119" y="32.16" width="9.6" height="11.97" fill="#f8696f"/>
<text x="123.8" y="41.64" class="m" fill="#5c0c10" stroke="#5c0c10" textLength="5.8" lengthAdjust="spacingAndGlyphs">c</text>
<rect x="245" y="32.16" width="9.6" height="11.97" fill="#f8696f"/>
<text x="249.8" y="41.64" class="m" fill="#5c0c10" stroke="#5c0c10" textLength="5.8" lengthAdjust="spacingAndGlyphs">c</text>
<rect x="413" y="32.16" width="9.6" height="11.97" fill="#f8696f"/>
<text x="417.8" y="41.64" class="m" fill="#5c0c10" stroke="#5c0c10" textLength="5.8" lengthAdjust="spacingAndGlyphs">c</text>
<rect x="465.5" y="32.16" width="9.6" height="11.97" fill="#f8696f"/>
<text x="470.3" y="41.64" class="m" fill="#5c0c10" stroke="#5c0c10" textLength="5.8" lengthAdjust="spacingAndGlyphs">c</text>
<rect x="486.5" y="32.16" width="9.6" height="11.97" fill="#f8696f"/>
<text x="491.3" y="41.64" class="m" fill="#5c0c10" stroke="#5c0c10" textLength="5.8" lengthAdjust="spacingAndGlyphs">c</text>
<rect x="570.5" y="32.16" width="9.6" height="11.97" fill="#f8696f"/>
<text x="575.3" y="41.64" class="m" fill="#5c0c10" stroke="#5c0c10" textLength="5.8" lengthAdjust="spacingAndGlyphs">c</text>
<rect x="119" y="43.72" width="9.6" height="11.97" fill="#f8696f"/>
<text x="123.8" y="53.21" class="m" fill="#5c0c10" stroke="#5c0c10" textLength="5.8" lengthAdjust="spacingAndGlyphs">c</text>
<rect x="245" y="43.72" width="9.6" height="11.97" fill="#f8696f"/>
<text x="249.8" y="53.21" class="m" fill="#5c0c10" stroke="#5c0c10" textLength="5.8" lengthAdjust="spacingAndGlyphs">c</text>
<rect x="329" y="43.72" width="9.6" height="11.97" fill="#f8696f"/>
<text x="333.8" y="53.21" class="m" fill="#5c0c10" stroke="#5c0c10" textLength="5.8" lengthAdjust="spacingAndGlyphs">c</text>
<rect x="413" y="43.72" width="9.6" height="11.97" fill="#f8696f"/>
<text x="417.8" y="53.21" class="m" fill="#5c0c10" stroke="#5c0c10" textLength="5.8" lengthAdjust="spacingAndGlyphs">c</text>
<rect x="444.5" y="43.72" width="9.6" height="11.97" fill="#fda80c"/>
<text x="449.3" y="53.21" class="m" fill="#4a3000" stroke="#4a3000" textLength="6.4" lengthAdjust="spacingAndGlyphs">d</text>
<rect x="465.5" y="43.72" width="9.6" height="11.97" fill="#f8696f"/>
<text x="470.3" y="53.21" class="m" fill="#5c0c10" stroke="#5c0c10" textLength="5.8" lengthAdjust="spacingAndGlyphs">c</text>
<rect x="486.5" y="43.72" width="9.6" height="11.97" fill="#f8696f"/>
<text x="491.3" y="53.21" class="m" fill="#5c0c10" stroke="#5c0c10" textLength="5.8" lengthAdjust="spacingAndGlyphs">c</text>
<rect x="570.5" y="43.72" width="9.6" height="11.97" fill="#f8696f"/>
<text x="575.3" y="53.21" class="m" fill="#5c0c10" stroke="#5c0c10" textLength="5.8" lengthAdjust="spacingAndGlyphs">c</text>
<rect x="119" y="55.3" width="9.6" height="11.97" fill="#f8696f"/>
<text x="123.8" y="64.78" class="m" fill="#5c0c10" stroke="#5c0c10" textLength="5.8" lengthAdjust="spacingAndGlyphs">c</text>
<rect x="245" y="55.3" width="9.6" height="11.97" fill="#f8696f"/>
<text x="249.8" y="64.78" class="m" fill="#5c0c10" stroke="#5c0c10" textLength="5.8" lengthAdjust="spacingAndGlyphs">c</text>
<rect x="329" y="55.3" width="9.6" height="11.97" fill="#f8696f"/>
<text x="333.8" y="64.78" class="m" fill="#5c0c10" stroke="#5c0c10" textLength="5.8" lengthAdjust="spacingAndGlyphs">c</text>
<rect x="413" y="55.3" width="9.6" height="11.97" fill="#f8696f"/>
<text x="417.8" y="64.78" class="m" fill="#5c0c10" stroke="#5c0c10" textLength="5.8" lengthAdjust="spacingAndGlyphs">c</text>
<rect x="465.5" y="55.3" width="9.6" height="11.97" fill="#f8696f"/>
<text x="470.3" y="64.78" class="m" fill="#5c0c10" stroke="#5c0c10" textLength="5.8" lengthAdjust="spacingAndGlyphs">c</text>
<rect x="486.5" y="55.3" width="9.6" height="11.97" fill="#f8696f"/>
<text x="491.3" y="64.78" class="m" fill="#5c0c10" stroke="#5c0c10" textLength="5.8" lengthAdjust="spacingAndGlyphs">c</text>
<rect x="570.5" y="55.3" width="9.6" height="11.97" fill="#f8696f"/>
<text x="575.3" y="64.78" class="m" fill="#5c0c10" stroke="#5c0c10" textLength="5.8" lengthAdjust="spacingAndGlyphs">c</text>
<rect x="686" y="55.3" width="9.6" height="11.97" fill="#fda80c"/>
<text x="690.8" y="64.78" class="m" fill="#4a3000" stroke="#4a3000" textLength="6.4" lengthAdjust="spacingAndGlyphs">d</text>
<rect x="791" y="55.3" width="9.6" height="11.97" fill="#f8696f"/>
<text x="795.8" y="64.78" class="m" fill="#5c0c10" stroke="#5c0c10" textLength="5.8" lengthAdjust="spacingAndGlyphs">c</text>
<rect x="119" y="66.86" width="9.6" height="11.97" fill="#f8696f"/>
<text x="123.8" y="76.35" class="m" fill="#5c0c10" stroke="#5c0c10" textLength="5.8" lengthAdjust="spacingAndGlyphs">c</text>
<rect x="245" y="66.86" width="9.6" height="11.97" fill="#f8696f"/>
<text x="249.8" y="76.35" class="m" fill="#5c0c10" stroke="#5c0c10" textLength="5.8" lengthAdjust="spacingAndGlyphs">c</text>
<rect x="329" y="66.86" width="9.6" height="11.97" fill="#f8696f"/>
<text x="333.8" y="76.35" class="m" fill="#5c0c10" stroke="#5c0c10" textLength="5.8" lengthAdjust="spacingAndGlyphs">c</text>
<rect x="413" y="66.86" width="9.6" height="11.97" fill="#f8696f"/>
<text x="417.8" y="76.35" class="m" fill="#5c0c10" stroke="#5c0c10" textLength="5.8" lengthAdjust="spacingAndGlyphs">c</text>
<rect x="570.5" y="66.86" width="9.6" height="11.97" fill="#f8696f"/>
<text x="575.3" y="76.35" class="m" fill="#5c0c10" stroke="#5c0c10" textLength="5.8" lengthAdjust="spacingAndGlyphs">c</text>
<rect x="108.5" y="78.44" width="9.6" height="11.97" fill="#fda80c"/>
<text x="113.3" y="87.92" class="m" fill="#4a3000" stroke="#4a3000" textLength="6.4" lengthAdjust="spacingAndGlyphs">d</text>
<rect x="119" y="78.44" width="9.6" height="11.97" fill="#f8696f"/>
<text x="123.8" y="87.92" class="m" fill="#5c0c10" stroke="#5c0c10" textLength="5.8" lengthAdjust="spacingAndGlyphs">c</text>
<rect x="245" y="78.44" width="9.6" height="11.97" fill="#f8696f"/>
<text x="249.8" y="87.92" class="m" fill="#5c0c10" stroke="#5c0c10" textLength="5.8" lengthAdjust="spacingAndGlyphs">c</text>
<rect x="329" y="78.44" width="9.6" height="11.97" fill="#f8696f"/>
<text x="333.8" y="87.92" class="m" fill="#5c0c10" stroke="#5c0c10" textLength="5.8" lengthAdjust="spacingAndGlyphs">c</text>
<rect x="465.5" y="78.44" width="9.6" height="11.97" fill="#f8696f"/>
<text x="470.3" y="87.92" class="m" fill="#5c0c10" stroke="#5c0c10" textLength="5.8" lengthAdjust="spacingAndGlyphs">c</text>
<rect x="486.5" y="78.44" width="9.6" height="11.97" fill="#f8696f"/>
<text x="491.3" y="87.92" class="m" fill="#5c0c10" stroke="#5c0c10" textLength="5.8" lengthAdjust="spacingAndGlyphs">c</text>
<rect x="570.5" y="78.44" width="9.6" height="11.97" fill="#f8696f"/>
<text x="575.3" y="87.92" class="m" fill="#5c0c10" stroke="#5c0c10" textLength="5.8" lengthAdjust="spacingAndGlyphs">c</text>
<rect x="791" y="78.44" width="9.6" height="11.97" fill="#f8696f"/>
<text x="795.8" y="87.92" class="m" fill="#5c0c10" stroke="#5c0c10" textLength="5.8" lengthAdjust="spacingAndGlyphs">c</text>
<rect x="119" y="90.01" width="9.6" height="11.97" fill="#f8696f"/>
<text x="123.8" y="99.49" class="m" fill="#5c0c10" stroke="#5c0c10" textLength="5.8" lengthAdjust="spacingAndGlyphs">c</text>
<rect x="245" y="90.01" width="9.6" height="11.97" fill="#f8696f"/>
<text x="249.8" y="99.49" class="m" fill="#5c0c10" stroke="#5c0c10" textLength="5.8" lengthAdjust="spacingAndGlyphs">c</text>
<rect x="329" y="90.01" width="9.6" height="11.97" fill="#f8696f"/>
<text x="333.8" y="99.49" class="m" fill="#5c0c10" stroke="#5c0c10" textLength="5.8" lengthAdjust="spacingAndGlyphs">c</text>
<rect x="465.5" y="90.01" width="9.6" height="11.97" fill="#f8696f"/>
<text x="470.3" y="99.49" class="m" fill="#5c0c10" stroke="#5c0c10" textLength="5.8" lengthAdjust="spacingAndGlyphs">c</text>
<rect x="486.5" y="90.01" width="9.6" height="11.97" fill="#f8696f"/>
<text x="491.3" y="99.49" class="m" fill="#5c0c10" stroke="#5c0c10" textLength="5.8" lengthAdjust="spacingAndGlyphs">c</text>
<rect x="570.5" y="90.01" width="9.6" height="11.97" fill="#f8696f"/>
<text x="575.3" y="99.49" class="m" fill="#5c0c10" stroke="#5c0c10" textLength="5.8" lengthAdjust="spacingAndGlyphs">c</text>
<rect x="119" y="101.58" width="9.6" height="11.97" fill="#f8696f"/>
<text x="123.8" y="111.06" class="m" fill="#5c0c10" stroke="#5c0c10" textLength="5.8" lengthAdjust="spacingAndGlyphs">c</text>
<rect x="245" y="101.58" width="9.6" height="11.97" fill="#f8696f"/>
<text x="249.8" y="111.06" class="m" fill="#5c0c10" stroke="#5c0c10" textLength="5.8" lengthAdjust="spacingAndGlyphs">c</text>
<rect x="329" y="101.58" width="9.6" height="11.97" fill="#f8696f"/>
<text x="333.8" y="111.06" class="m" fill="#5c0c10" stroke="#5c0c10" textLength="5.8" lengthAdjust="spacingAndGlyphs">c</text>
<rect x="413" y="101.58" width="9.6" height="11.97" fill="#f8696f"/>
<text x="417.8" y="111.06" class="m" fill="#5c0c10" stroke="#5c0c10" textLength="5.8" lengthAdjust="spacingAndGlyphs">c</text>
<rect x="444.5" y="101.58" width="9.6" height="11.97" fill="#fda80c"/>
<text x="449.3" y="111.06" class="m" fill="#4a3000" stroke="#4a3000" textLength="6.4" lengthAdjust="spacingAndGlyphs">d</text>
<rect x="465.5" y="101.58" width="9.6" height="11.97" fill="#f8696f"/>
<text x="470.3" y="111.06" class="m" fill="#5c0c10" stroke="#5c0c10" textLength="5.8" lengthAdjust="spacingAndGlyphs">c</text>
<rect x="486.5" y="101.58" width="9.6" height="11.97" fill="#f8696f"/>
<text x="491.3" y="111.06" class="m" fill="#5c0c10" stroke="#5c0c10" textLength="5.8" lengthAdjust="spacingAndGlyphs">c</text>
<rect x="570.5" y="101.58" width="9.6" height="11.97" fill="#f8696f"/>
<text x="575.3" y="111.06" class="m" fill="#5c0c10" stroke="#5c0c10" textLength="5.8" lengthAdjust="spacingAndGlyphs">c</text>
<rect x="654.5" y="101.58" width="9.6" height="11.97" fill="#fda80c"/>
<text x="659.3" y="111.06" class="m" fill="#4a3000" stroke="#4a3000" textLength="6.4" lengthAdjust="spacingAndGlyphs">d</text>
<rect x="108.5" y="113.14" width="9.6" height="11.97" fill="#fda80c"/>
<text x="113.3" y="122.63" class="m" fill="#4a3000" stroke="#4a3000" textLength="6.4" lengthAdjust="spacingAndGlyphs">d</text>
<rect x="119" y="113.14" width="9.6" height="11.97" fill="#f8696f"/>
<text x="123.8" y="122.63" class="m" fill="#5c0c10" stroke="#5c0c10" textLength="5.8" lengthAdjust="spacingAndGlyphs">c</text>
<rect x="245" y="113.14" width="9.6" height="11.97" fill="#f8696f"/>
<text x="249.8" y="122.63" class="m" fill="#5c0c10" stroke="#5c0c10" textLength="5.8" lengthAdjust="spacingAndGlyphs">c</text>
<rect x="329" y="113.14" width="9.6" height="11.97" fill="#f8696f"/>
<text x="333.8" y="122.63" class="m" fill="#5c0c10" stroke="#5c0c10" textLength="5.8" lengthAdjust="spacingAndGlyphs">c</text>
<rect x="570.5" y="113.14" width="9.6" height="11.97" fill="#f8696f"/>
<text x="575.3" y="122.63" class="m" fill="#5c0c10" stroke="#5c0c10" textLength="5.8" lengthAdjust="spacingAndGlyphs">c</text>
<rect x="728" y="113.14" width="9.6" height="11.97" fill="#fda80c"/>
<text x="732.8" y="122.63" class="m" fill="#4a3000" stroke="#4a3000" textLength="6.4" lengthAdjust="spacingAndGlyphs">d</text>
<rect x="791" y="113.14" width="9.6" height="11.97" fill="#f8696f"/>
<text x="795.8" y="122.63" class="m" fill="#5c0c10" stroke="#5c0c10" textLength="5.8" lengthAdjust="spacingAndGlyphs">c</text>
<rect x="108.5" y="124.71" width="9.6" height="11.97" fill="#fda80c"/>
<text x="113.3" y="134.2" class="m" fill="#4a3000" stroke="#4a3000" textLength="6.4" lengthAdjust="spacingAndGlyphs">d</text>
<rect x="119" y="124.71" width="9.6" height="11.97" fill="#f8696f"/>
<text x="123.8" y="134.2" class="m" fill="#5c0c10" stroke="#5c0c10" textLength="5.8" lengthAdjust="spacingAndGlyphs">c</text>
<rect x="245" y="124.71" width="9.6" height="11.97" fill="#f8696f"/>
<text x="249.8" y="134.2" class="m" fill="#5c0c10" stroke="#5c0c10" textLength="5.8" lengthAdjust="spacingAndGlyphs">c</text>
<rect x="329" y="124.71" width="9.6" height="11.97" fill="#f8696f"/>
<text x="333.8" y="134.2" class="m" fill="#5c0c10" stroke="#5c0c10" textLength="5.8" lengthAdjust="spacingAndGlyphs">c</text>
<rect x="570.5" y="124.71" width="9.6" height="11.97" fill="#f8696f"/>
<text x="575.3" y="134.2" class="m" fill="#5c0c10" stroke="#5c0c10" textLength="5.8" lengthAdjust="spacingAndGlyphs">c</text>
<rect x="791" y="124.71" width="9.6" height="11.97" fill="#f8696f"/>
<text x="795.8" y="134.2" class="m" fill="#5c0c10" stroke="#5c0c10" textLength="5.8" lengthAdjust="spacingAndGlyphs">c</text>
<rect x="119" y="136.29" width="9.6" height="11.97" fill="#f8696f"/>
<text x="123.8" y="145.77" class="m" fill="#5c0c10" stroke="#5c0c10" textLength="5.8" lengthAdjust="spacingAndGlyphs">c</text>
<rect x="245" y="136.29" width="9.6" height="11.97" fill="#f8696f"/>
<text x="249.8" y="145.77" class="m" fill="#5c0c10" stroke="#5c0c10" textLength="5.8" lengthAdjust="spacingAndGlyphs">c</text>
<rect x="329" y="136.29" width="9.6" height="11.97" fill="#f8696f"/>
<text x="333.8" y="145.77" class="m" fill="#5c0c10" stroke="#5c0c10" textLength="5.8" lengthAdjust="spacingAndGlyphs">c</text>
<rect x="570.5" y="136.29" width="9.6" height="11.97" fill="#f8696f"/>
<text x="575.3" y="145.77" class="m" fill="#5c0c10" stroke="#5c0c10" textLength="5.8" lengthAdjust="spacingAndGlyphs">c</text>
<rect x="728" y="136.29" width="9.6" height="11.97" fill="#fda80c"/>
<text x="732.8" y="145.77" class="m" fill="#4a3000" stroke="#4a3000" textLength="6.4" lengthAdjust="spacingAndGlyphs">d</text>
<rect x="791" y="136.29" width="9.6" height="11.97" fill="#f8696f"/>
<text x="795.8" y="145.77" class="m" fill="#5c0c10" stroke="#5c0c10" textLength="5.8" lengthAdjust="spacingAndGlyphs">c</text>
<rect x="119" y="147.86" width="9.6" height="11.97" fill="#f8696f"/>
<text x="123.8" y="157.34" class="m" fill="#5c0c10" stroke="#5c0c10" textLength="5.8" lengthAdjust="spacingAndGlyphs">c</text>
<rect x="245" y="147.86" width="9.6" height="11.97" fill="#f8696f"/>
<text x="249.8" y="157.34" class="m" fill="#5c0c10" stroke="#5c0c10" textLength="5.8" lengthAdjust="spacingAndGlyphs">c</text>
<rect x="329" y="147.86" width="9.6" height="11.97" fill="#f8696f"/>
<text x="333.8" y="157.34" class="m" fill="#5c0c10" stroke="#5c0c10" textLength="5.8" lengthAdjust="spacingAndGlyphs">c</text>
<rect x="413" y="147.86" width="9.6" height="11.97" fill="#f8696f"/>
<text x="417.8" y="157.34" class="m" fill="#5c0c10" stroke="#5c0c10" textLength="5.8" lengthAdjust="spacingAndGlyphs">c</text>
<rect x="465.5" y="147.86" width="9.6" height="11.97" fill="#f8696f"/>
<text x="470.3" y="157.34" class="m" fill="#5c0c10" stroke="#5c0c10" textLength="5.8" lengthAdjust="spacingAndGlyphs">c</text>
<rect x="570.5" y="147.86" width="9.6" height="11.97" fill="#f8696f"/>
<text x="575.3" y="157.34" class="m" fill="#5c0c10" stroke="#5c0c10" textLength="5.8" lengthAdjust="spacingAndGlyphs">c</text>
<rect x="686" y="147.86" width="9.6" height="11.97" fill="#fda80c"/>
<text x="690.8" y="157.34" class="m" fill="#4a3000" stroke="#4a3000" textLength="6.4" lengthAdjust="spacingAndGlyphs">d</text>
<rect x="791" y="147.86" width="9.6" height="11.97" fill="#f8696f"/>
<text x="795.8" y="157.34" class="m" fill="#5c0c10" stroke="#5c0c10" textLength="5.8" lengthAdjust="spacingAndGlyphs">c</text>
<rect x="108.5" y="159.43" width="9.6" height="11.97" fill="#fda80c"/>
<text x="113.3" y="168.91" class="m" fill="#4a3000" stroke="#4a3000" textLength="6.4" lengthAdjust="spacingAndGlyphs">d</text>
<rect x="119" y="159.43" width="9.6" height="11.97" fill="#f8696f"/>
<text x="123.8" y="168.91" class="m" fill="#5c0c10" stroke="#5c0c10" textLength="5.8" lengthAdjust="spacingAndGlyphs">c</text>
<rect x="245" y="159.43" width="9.6" height="11.97" fill="#f8696f"/>
<text x="249.8" y="168.91" class="m" fill="#5c0c10" stroke="#5c0c10" textLength="5.8" lengthAdjust="spacingAndGlyphs">c</text>
<rect x="255.5" y="159.43" width="9.6" height="11.97" fill="#fda80c"/>
<text x="260.3" y="168.91" class="m" fill="#4a3000" stroke="#4a3000" textLength="6.4" lengthAdjust="spacingAndGlyphs">d</text>
<rect x="329" y="159.43" width="9.6" height="11.97" fill="#f8696f"/>
<text x="333.8" y="168.91" class="m" fill="#5c0c10" stroke="#5c0c10" textLength="5.8" lengthAdjust="spacingAndGlyphs">c</text>
<rect x="570.5" y="159.43" width="9.6" height="11.97" fill="#f8696f"/>
<text x="575.3" y="168.91" class="m" fill="#5c0c10" stroke="#5c0c10" textLength="5.8" lengthAdjust="spacingAndGlyphs">c</text>
<rect x="654.5" y="159.43" width="9.6" height="11.97" fill="#fda80c"/>
<text x="659.3" y="168.91" class="m" fill="#4a3000" stroke="#4a3000" textLength="6.4" lengthAdjust="spacingAndGlyphs">d</text>
<rect x="245" y="171" width="9.6" height="11.97" fill="#f8696f"/>
<text x="249.8" y="180.48" class="m" fill="#5c0c10" stroke="#5c0c10" textLength="5.8" lengthAdjust="spacingAndGlyphs">c</text>
<rect x="329" y="171" width="9.6" height="11.97" fill="#f8696f"/>
<text x="333.8" y="180.48" class="m" fill="#5c0c10" stroke="#5c0c10" textLength="5.8" lengthAdjust="spacingAndGlyphs">c</text>
<rect x="570.5" y="171" width="9.6" height="11.97" fill="#f8696f"/>
<text x="575.3" y="180.48" class="m" fill="#5c0c10" stroke="#5c0c10" textLength="5.8" lengthAdjust="spacingAndGlyphs">c</text>
<rect x="245" y="182.57" width="9.6" height="11.97" fill="#f8696f"/>
<text x="249.8" y="192.05" class="m" fill="#5c0c10" stroke="#5c0c10" textLength="5.8" lengthAdjust="spacingAndGlyphs">c</text>
<rect x="329" y="182.57" width="9.6" height="11.97" fill="#f8696f"/>
<text x="333.8" y="192.05" class="m" fill="#5c0c10" stroke="#5c0c10" textLength="5.8" lengthAdjust="spacingAndGlyphs">c</text>
<rect x="570.5" y="182.57" width="9.6" height="11.97" fill="#f8696f"/>
<text x="575.3" y="192.05" class="m" fill="#5c0c10" stroke="#5c0c10" textLength="5.8" lengthAdjust="spacingAndGlyphs">c</text>
<rect x="728" y="182.57" width="9.6" height="11.97" fill="#fda80c"/>
<text x="732.8" y="192.05" class="m" fill="#4a3000" stroke="#4a3000" textLength="6.4" lengthAdjust="spacingAndGlyphs">d</text>
<rect x="245" y="194.14" width="9.6" height="11.97" fill="#f8696f"/>
<text x="249.8" y="203.62" class="m" fill="#5c0c10" stroke="#5c0c10" textLength="5.8" lengthAdjust="spacingAndGlyphs">c</text>
<rect x="255.5" y="194.14" width="9.6" height="11.97" fill="#fda80c"/>
<text x="260.3" y="203.62" class="m" fill="#4a3000" stroke="#4a3000" textLength="6.4" lengthAdjust="spacingAndGlyphs">d</text>
<rect x="329" y="194.14" width="9.6" height="11.97" fill="#f8696f"/>
<text x="333.8" y="203.62" class="m" fill="#5c0c10" stroke="#5c0c10" textLength="5.8" lengthAdjust="spacingAndGlyphs">c</text>
<rect x="570.5" y="194.14" width="9.6" height="11.97" fill="#f8696f"/>
<text x="575.3" y="203.62" class="m" fill="#5c0c10" stroke="#5c0c10" textLength="5.8" lengthAdjust="spacingAndGlyphs">c</text>
<rect x="245" y="205.71" width="9.6" height="11.97" fill="#f8696f"/>
<text x="249.8" y="215.19" class="m" fill="#5c0c10" stroke="#5c0c10" textLength="5.8" lengthAdjust="spacingAndGlyphs">c</text>
<rect x="329" y="205.71" width="9.6" height="11.97" fill="#f8696f"/>
<text x="333.8" y="215.19" class="m" fill="#5c0c10" stroke="#5c0c10" textLength="5.8" lengthAdjust="spacingAndGlyphs">c</text>
<rect x="570.5" y="205.71" width="9.6" height="11.97" fill="#f8696f"/>
<text x="575.3" y="215.19" class="m" fill="#5c0c10" stroke="#5c0c10" textLength="5.8" lengthAdjust="spacingAndGlyphs">c</text>
<rect x="245" y="217.28" width="9.6" height="11.97" fill="#f8696f"/>
<text x="249.8" y="226.76" class="m" fill="#5c0c10" stroke="#5c0c10" textLength="5.8" lengthAdjust="spacingAndGlyphs">c</text>
<rect x="329" y="217.28" width="9.6" height="11.97" fill="#f8696f"/>
<text x="333.8" y="226.76" class="m" fill="#5c0c10" stroke="#5c0c10" textLength="5.8" lengthAdjust="spacingAndGlyphs">c</text>
<rect x="570.5" y="217.28" width="9.6" height="11.97" fill="#f8696f"/>
<text x="575.3" y="226.76" class="m" fill="#5c0c10" stroke="#5c0c10" textLength="5.8" lengthAdjust="spacingAndGlyphs">c</text>
<rect x="686" y="217.28" width="9.6" height="11.97" fill="#fda80c"/>
<text x="690.8" y="226.76" class="m" fill="#4a3000" stroke="#4a3000" textLength="6.4" lengthAdjust="spacingAndGlyphs">d</text>
<rect x="245" y="228.85" width="9.6" height="11.97" fill="#f8696f"/>
<text x="249.8" y="238.33" class="m" fill="#5c0c10" stroke="#5c0c10" textLength="5.8" lengthAdjust="spacingAndGlyphs">c</text>
<rect x="329" y="228.85" width="9.6" height="11.97" fill="#f8696f"/>
<text x="333.8" y="238.33" class="m" fill="#5c0c10" stroke="#5c0c10" textLength="5.8" lengthAdjust="spacingAndGlyphs">c</text>
<rect x="570.5" y="228.85" width="9.6" height="11.97" fill="#f8696f"/>
<text x="575.3" y="238.33" class="m" fill="#5c0c10" stroke="#5c0c10" textLength="5.8" lengthAdjust="spacingAndGlyphs">c</text>
<rect x="245" y="240.42" width="9.6" height="11.97" fill="#f8696f"/>
<text x="249.8" y="249.9" class="m" fill="#5c0c10" stroke="#5c0c10" textLength="5.8" lengthAdjust="spacingAndGlyphs">c</text>
<rect x="329" y="240.42" width="9.6" height="11.97" fill="#f8696f"/>
<text x="333.8" y="249.9" class="m" fill="#5c0c10" stroke="#5c0c10" textLength="5.8" lengthAdjust="spacingAndGlyphs">c</text>
<rect x="570.5" y="240.42" width="9.6" height="11.97" fill="#f8696f"/>
<text x="575.3" y="249.9" class="m" fill="#5c0c10" stroke="#5c0c10" textLength="5.8" lengthAdjust="spacingAndGlyphs">c</text>
<rect x="245" y="251.99" width="9.6" height="11.97" fill="#f8696f"/>
<text x="249.8" y="261.47" class="m" fill="#5c0c10" stroke="#5c0c10" textLength="5.8" lengthAdjust="spacingAndGlyphs">c</text>
<rect x="255.5" y="251.99" width="9.6" height="11.97" fill="#fda80c"/>
<text x="260.3" y="261.47" class="m" fill="#4a3000" stroke="#4a3000" textLength="6.4" lengthAdjust="spacingAndGlyphs">d</text>
<rect x="329" y="251.99" width="9.6" height="11.97" fill="#f8696f"/>
<text x="333.8" y="261.47" class="m" fill="#5c0c10" stroke="#5c0c10" textLength="5.8" lengthAdjust="spacingAndGlyphs">c</text>
<rect x="570.5" y="251.99" width="9.6" height="11.97" fill="#f8696f"/>
<text x="575.3" y="261.47" class="m" fill="#5c0c10" stroke="#5c0c10" textLength="5.8" lengthAdjust="spacingAndGlyphs">c</text>
<rect x="245" y="263.56" width="9.6" height="11.97" fill="#f8696f"/>
<text x="249.8" y="273.04" class="m" fill="#5c0c10" stroke="#5c0c10" textLength="5.8" lengthAdjust="spacingAndGlyphs">c</text>
<rect x="329" y="263.56" width="9.6" height="11.97" fill="#f8696f"/>
<text x="333.8" y="273.04" class="m" fill="#5c0c10" stroke="#5c0c10" textLength="5.8" lengthAdjust="spacingAndGlyphs">c</text>
<rect x="570.5" y="263.56" width="9.6" height="11.97" fill="#f8696f"/>
<text x="575.3" y="273.04" class="m" fill="#5c0c10" stroke="#5c0c10" textLength="5.8" lengthAdjust="spacingAndGlyphs">c</text>
<rect x="245" y="275.12" width="9.6" height="11.97" fill="#f8696f"/>
<text x="249.8" y="284.61" class="m" fill="#5c0c10" stroke="#5c0c10" textLength="5.8" lengthAdjust="spacingAndGlyphs">c</text>
<rect x="329" y="275.12" width="9.6" height="11.97" fill="#f8696f"/>
<text x="333.8" y="284.61" class="m" fill="#5c0c10" stroke="#5c0c10" textLength="5.8" lengthAdjust="spacingAndGlyphs">c</text>
<rect x="728" y="275.12" width="9.6" height="11.97" fill="#fda80c"/>
<text x="732.8" y="284.61" class="m" fill="#4a3000" stroke="#4a3000" textLength="6.4" lengthAdjust="spacingAndGlyphs">d</text>
<rect x="791" y="275.12" width="9.6" height="11.97" fill="#f8696f"/>
<text x="795.8" y="284.61" class="m" fill="#5c0c10" stroke="#5c0c10" textLength="5.8" lengthAdjust="spacingAndGlyphs">c</text>
<rect x="329" y="286.69" width="9.6" height="11.97" fill="#f8696f"/>
<text x="333.8" y="296.18" class="m" fill="#5c0c10" stroke="#5c0c10" textLength="5.8" lengthAdjust="spacingAndGlyphs">c</text>
<rect x="329" y="298.26" width="9.6" height="11.97" fill="#f8696f"/>
<text x="333.8" y="307.75" class="m" fill="#5c0c10" stroke="#5c0c10" textLength="5.8" lengthAdjust="spacingAndGlyphs">c</text>
<rect x="686" y="298.26" width="9.6" height="11.97" fill="#fda80c"/>
<text x="690.8" y="307.75" class="m" fill="#4a3000" stroke="#4a3000" textLength="6.4" lengthAdjust="spacingAndGlyphs">d</text>
<rect x="686" y="309.83" width="9.6" height="11.97" fill="#fda80c"/>
<text x="690.8" y="319.32" class="m" fill="#4a3000" stroke="#4a3000" textLength="6.4" lengthAdjust="spacingAndGlyphs">d</text>
<rect x="791" y="309.83" width="9.6" height="11.97" fill="#f8696f"/>
<text x="795.8" y="319.32" class="m" fill="#5c0c10" stroke="#5c0c10" textLength="5.8" lengthAdjust="spacingAndGlyphs">c</text>
<rect x="791" y="321.4" width="9.6" height="11.97" fill="#f8696f"/>
<text x="795.8" y="330.89" class="m" fill="#5c0c10" stroke="#5c0c10" textLength="5.8" lengthAdjust="spacingAndGlyphs">c</text>
<rect x="728" y="332.98" width="9.6" height="11.97" fill="#fda80c"/>
<text x="732.8" y="342.46" class="m" fill="#4a3000" stroke="#4a3000" textLength="6.4" lengthAdjust="spacingAndGlyphs">d</text>
<rect x="791" y="332.98" width="9.6" height="11.97" fill="#f8696f"/>
<text x="795.8" y="342.46" class="m" fill="#5c0c10" stroke="#5c0c10" textLength="5.8" lengthAdjust="spacingAndGlyphs">c</text>
<rect x="686" y="344.55" width="9.6" height="11.97" fill="#fda80c"/>
<text x="690.8" y="354.03" class="m" fill="#4a3000" stroke="#4a3000" textLength="6.4" lengthAdjust="spacingAndGlyphs">d</text>
<rect x="728" y="344.55" width="9.6" height="11.97" fill="#fda80c"/>
<text x="732.8" y="354.03" class="m" fill="#4a3000" stroke="#4a3000" textLength="6.4" lengthAdjust="spacingAndGlyphs">d</text>
<rect x="791" y="344.55" width="9.6" height="11.97" fill="#f8696f"/>
<text x="795.8" y="354.03" class="m" fill="#5c0c10" stroke="#5c0c10" textLength="5.8" lengthAdjust="spacingAndGlyphs">c</text>
<rect x="686" y="367.69" width="9.6" height="11.97" fill="#fda80c"/>
<text x="690.8" y="377.17" class="m" fill="#4a3000" stroke="#4a3000" textLength="6.4" lengthAdjust="spacingAndGlyphs">d</text>
<rect x="654.5" y="379.25" width="9.6" height="11.97" fill="#fda80c"/>
<text x="659.3" y="388.74" class="m" fill="#4a3000" stroke="#4a3000" textLength="6.4" lengthAdjust="spacingAndGlyphs">d</text>
<rect x="686" y="379.25" width="9.6" height="11.97" fill="#fda80c"/>
<text x="690.8" y="388.74" class="m" fill="#4a3000" stroke="#4a3000" textLength="6.4" lengthAdjust="spacingAndGlyphs">d</text>
<rect x="728" y="390.82" width="9.6" height="11.97" fill="#fda80c"/>
<text x="732.8" y="400.31" class="m" fill="#4a3000" stroke="#4a3000" textLength="6.4" lengthAdjust="spacingAndGlyphs">d</text>
<rect x="791" y="390.82" width="9.6" height="11.97" fill="#f8696f"/>
<text x="795.8" y="400.31" class="m" fill="#5c0c10" stroke="#5c0c10" textLength="5.8" lengthAdjust="spacingAndGlyphs">c</text>
<rect x="686" y="413.96" width="9.6" height="11.97" fill="#fda80c"/>
<text x="690.8" y="423.45" class="m" fill="#4a3000" stroke="#4a3000" textLength="6.4" lengthAdjust="spacingAndGlyphs">d</text>
<rect x="654.5" y="437.11" width="9.6" height="11.97" fill="#fda80c"/>
<text x="659.3" y="446.59" class="m" fill="#4a3000" stroke="#4a3000" textLength="6.4" lengthAdjust="spacingAndGlyphs">d</text>
<rect x="791" y="448.68" width="9.6" height="11.97" fill="#f8696f"/>
<text x="795.8" y="458.16" class="m" fill="#5c0c10" stroke="#5c0c10" textLength="5.8" lengthAdjust="spacingAndGlyphs">c</text>
<rect x="686" y="471.81" width="9.6" height="11.97" fill="#fda80c"/>
<text x="690.8" y="481.3" class="m" fill="#4a3000" stroke="#4a3000" textLength="6.4" lengthAdjust="spacingAndGlyphs">d</text>
</g>
<text x="37.5" y="996.7" class="ti" textLength="306" lengthAdjust="spacingAndGlyphs">sp|A6MEY4|PA2B_BUNFA</text>
<g transform="translate(-0.3 1037.7) scale(0.9772 0.98)">
<rect x="150.4" y="-9.2" width="829.5" height="16.7" fill="#d3d3d3"/>
<text x="47" y="4.2" class="n" text-anchor="end">1</text>
<text x="66.4" y="4.4" class="s" textLength="84" lengthAdjust="spacingAndGlyphs">MNPAHLLV</text>
<text x="150.4" y="4.4" class="sb" textLength="21" lengthAdjust="spacingAndGlyphs">LL</text>
<text x="181.9" y="4.4" class="sb" textLength="105" lengthAdjust="spacingAndGlyphs">AVCVSLLGAA</text>
<text x="297.4" y="4.4" class="sb" textLength="105" lengthAdjust="spacingAndGlyphs">NIPPQSLNLY</text>
<text x="412.9" y="4.4" class="sb" textLength="105" lengthAdjust="spacingAndGlyphs">QFKNMIQCAG</text>
<text x="528.4" y="4.4" class="sb" textLength="105" lengthAdjust="spacingAndGlyphs">TQLCVAYVKY</text>
<text x="643.9" y="4.4" class="sb" textLength="105" lengthAdjust="spacingAndGlyphs">GCYCGPGGTG</text>
<text x="759.4" y="4.4" class="sb" textLength="105" lengthAdjust="spacingAndGlyphs">TPLDQLDRCC</text>
<text x="874.9" y="4.4" class="sb" textLength="105" lengthAdjust="spacingAndGlyphs">QTHDHCYDNA</text>
<rect x="654.5" y="-20.9" width="9.6" height="11.9" fill="#f8696f"/>
<text x="659.3" y="-11.45" class="m" fill="#5c0c10" stroke="#5c0c10" textLength="5.8" lengthAdjust="spacingAndGlyphs">c</text>
<text x="659.3" y="-22.2" class="t" textLength="9" lengthAdjust="spacingAndGlyphs">52</text>
<rect x="675.5" y="-20.9" width="9.6" height="11.9" fill="#f8696f"/>
<text x="680.3" y="-11.45" class="m" fill="#5c0c10" stroke="#5c0c10" textLength="5.8" lengthAdjust="spacingAndGlyphs">c</text>
<text x="680.3" y="-22.2" class="t" textLength="9" lengthAdjust="spacingAndGlyphs">54</text>
<rect x="801.5" y="-20.9" width="9.6" height="11.9" fill="#fda80c"/>
<text x="806.3" y="-11.45" class="m" fill="#4a3000" stroke="#4a3000" textLength="6.4" lengthAdjust="spacingAndGlyphs">d</text>
<text x="806.3" y="-22.2" class="t" textLength="9" lengthAdjust="spacingAndGlyphs">65</text>
<rect x="843.5" y="-20.9" width="9.6" height="11.9" fill="#f8696f"/>
<text x="848.3" y="-11.45" class="m" fill="#5c0c10" stroke="#5c0c10" textLength="5.8" lengthAdjust="spacingAndGlyphs">c</text>
<text x="848.3" y="-22.2" class="t" textLength="9" lengthAdjust="spacingAndGlyphs">69</text>
<rect x="854" y="-20.9" width="9.6" height="11.9" fill="#f8696f"/>
<text x="858.8" y="-11.45" class="m" fill="#5c0c10" stroke="#5c0c10" textLength="5.8" lengthAdjust="spacingAndGlyphs">c</text>
<text x="858.8" y="-22.2" class="t" textLength="9" lengthAdjust="spacingAndGlyphs">70</text>
<rect x="927.5" y="-20.9" width="9.6" height="11.9" fill="#f8696f"/>
<text x="932.3" y="-11.45" class="m" fill="#5c0c10" stroke="#5c0c10" textLength="5.8" lengthAdjust="spacingAndGlyphs">c</text>
<text x="932.3" y="-22.2" class="t" textLength="9" lengthAdjust="spacingAndGlyphs">76</text>
<path d="M150.4 15H979.9M433.9 26.57H979.9M444.4 38.14H979.9M444.4 49.71H979.9M454.9 61.28H843.4M528.4 72.85H843.4M528.4 84.42H843.4M528.4 95.99H843.4M601.9 107.56H843.4M622.9 119.13H843.4M622.9 130.7H979.9M643.9 142.27H843.4M654.4 153.84H843.4M664.9 165.41H843.4M675.4 176.98H843.4M685.9 188.55H843.4M696.4 200.12H843.4M706.9 211.69H843.4M727.9 223.26H843.4M738.4 234.83H843.4" stroke="#3690f8" stroke-width="3.6" fill="none"/>
<path d="M433.9 23.07v7M843.4 57.78v7M528.4 69.35v7M843.4 69.35v7M528.4 80.92v7M843.4 80.92v7M528.4 92.49v7M843.4 92.49v7M601.9 104.06v7M843.4 104.06v7M622.9 115.63v7M843.4 115.63v7M622.9 127.2v7M643.9 138.77v7M843.4 138.77v7M843.4 150.34v7M664.9 161.91v7M843.4 161.91v7M843.4 173.48v7M685.9 185.05v7M843.4 185.05v7M696.4 196.62v7M843.4 196.62v7M706.9 208.19v7M843.4 208.19v7M727.9 219.76v7M843.4 219.76v7M738.4 231.33v7M843.4 231.33v7" stroke="#3690f8" stroke-width="1.25" fill="none"/>
<rect x="150.5" y="9.02" width="9.6" height="11.97" fill="#3cc8da"/>
<text x="155.3" y="18.5" class="m" fill="#0a4452" stroke="#0a4452" textLength="6.2" lengthAdjust="spacingAndGlyphs">a</text>
<rect x="203" y="9.02" width="9.6" height="11.97" fill="#f8696f"/>
<text x="207.8" y="18.5" class="m" fill="#5c0c10" stroke="#5c0c10" textLength="5.8" lengthAdjust="spacingAndGlyphs">c</text>
<rect x="476" y="9.02" width="9.6" height="11.97" fill="#fda80c"/>
<text x="480.8" y="18.5" class="m" fill="#4a3000" stroke="#4a3000" textLength="6.4" lengthAdjust="spacingAndGlyphs">d</text>
<rect x="486.5" y="9.02" width="9.6" height="11.97" fill="#f8696f"/>
<text x="491.3" y="18.5" class="m" fill="#5c0c10" stroke="#5c0c10" textLength="5.8" lengthAdjust="spacingAndGlyphs">c</text>
<rect x="539" y="9.02" width="9.6" height="11.97" fill="#fda80c"/>
<text x="543.8" y="18.5" class="m" fill="#4a3000" stroke="#4a3000" textLength="6.4" lengthAdjust="spacingAndGlyphs">d</text>
<rect x="560" y="9.02" width="9.6" height="11.97" fill="#f8696f"/>
<text x="564.8" y="18.5" class="m" fill="#5c0c10" stroke="#5c0c10" textLength="5.8" lengthAdjust="spacingAndGlyphs">c</text>
<rect x="654.5" y="9.02" width="9.6" height="11.97" fill="#f8696f"/>
<text x="659.3" y="18.5" class="m" fill="#5c0c10" stroke="#5c0c10" textLength="5.8" lengthAdjust="spacingAndGlyphs">c</text>
<rect x="675.5" y="9.02" width="9.6" height="11.97" fill="#f8696f"/>
<text x="680.3" y="18.5" class="m" fill="#5c0c10" stroke="#5c0c10" textLength="5.8" lengthAdjust="spacingAndGlyphs">c</text>
<rect x="843.5" y="9.02" width="9.6" height="11.97" fill="#f8696f"/>
<text x="848.3" y="18.5" class="m" fill="#5c0c10" stroke="#5c0c10" textLength="5.8" lengthAdjust="spacingAndGlyphs">c</text>
<rect x="854" y="9.02" width="9.6" height="11.97" fill="#f8696f"/>
<text x="858.8" y="18.5" class="m" fill="#5c0c10" stroke="#5c0c10" textLength="5.8" lengthAdjust="spacingAndGlyphs">c</text>
<rect x="927.5" y="9.02" width="9.6" height="11.97" fill="#f8696f"/>
<text x="932.3" y="18.5" class="m" fill="#5c0c10" stroke="#5c0c10" textLength="5.8" lengthAdjust="spacingAndGlyphs">c</text>
<rect x="486.5" y="20.59" width="9.6" height="11.97" fill="#f8696f"/>
<text x="491.3" y="30.07" class="m" fill="#5c0c10" stroke="#5c0c10" textLength="5.8" lengthAdjust="spacingAndGlyphs">c</text>
<rect x="539" y="20.59" width="9.6" height="11.97" fill="#fda80c"/>
<text x="543.8" y="30.07" class="m" fill="#4a3000" stroke="#4a3000" textLength="6.4" lengthAdjust="spacingAndGlyphs">d</text>
<rect x="560" y="20.59" width="9.6" height="11.97" fill="#f8696f"/>
<text x="564.8" y="30.07" class="m" fill="#5c0c10" stroke="#5c0c10" textLength="5.8" lengthAdjust="spacingAndGlyphs">c</text>
<rect x="654.5" y="20.59" width="9.6" height="11.97" fill="#f8696f"/>
<text x="659.3" y="30.07" class="m" fill="#5c0c10" stroke="#5c0c10" textLength="5.8" lengthAdjust="spacingAndGlyphs">c</text>
<rect x="675.5" y="20.59" width="9.6" height="11.97" fill="#f8696f"/>
<text x="680.3" y="30.07" class="m" fill="#5c0c10" stroke="#5c0c10" textLength="5.8" lengthAdjust="spacingAndGlyphs">c</text>
<rect x="843.5" y="20.59" width="9.6" height="11.97" fill="#f8696f"/>
<text x="848.3" y="30.07" class="m" fill="#5c0c10" stroke="#5c0c10" textLength="5.8" lengthAdjust="spacingAndGlyphs">c</text>
<rect x="854" y="20.59" width="9.6" height="11.97" fill="#f8696f"/>
<text x="858.8" y="30.07" class="m" fill="#5c0c10" stroke="#5c0c10" textLength="5.8" lengthAdjust="spacingAndGlyphs">c</text>
<rect x="927.5" y="20.59" width="9.6" height="11.97" fill="#f8696f"/>
<text x="932.3" y="30.07" class="m" fill="#5c0c10" stroke="#5c0c10" textLength="5.8" lengthAdjust="spacingAndGlyphs">c</text>
<rect x="444.5" y="32.16" width="9.6" height="11.97" fill="#fda80c"/>
<text x="449.3" y="41.64" class="m" fill="#4a3000" stroke="#4a3000" textLength="6.4" lengthAdjust="spacingAndGlyphs">d</text>
<rect x="455" y="32.16" width="9.6" height="11.97" fill="#a0a2fa"/>
<text x="459.8" y="41.64" class="m" fill="#23277a" stroke="#23277a" textLength="6.4" lengthAdjust="spacingAndGlyphs">o</text>
<rect x="476" y="32.16" width="9.6" height="11.97" fill="#fda80c"/>
<text x="480.8" y="41.64" class="m" fill="#4a3000" stroke="#4a3000" textLength="6.4" lengthAdjust="spacingAndGlyphs">d</text>
<rect x="486.5" y="32.16" width="9.6" height="11.97" fill="#f8696f"/>
<text x="491.3" y="41.64" class="m" fill="#5c0c10" stroke="#5c0c10" textLength="5.8" lengthAdjust="spacingAndGlyphs">c</text>
<rect x="560" y="32.16" width="9.6" height="11.97" fill="#f8696f"/>
<text x="564.8" y="41.64" class="m" fill="#5c0c10" stroke="#5c0c10" textLength="5.8" lengthAdjust="spacingAndGlyphs">c</text>
<rect x="654.5" y="32.16" width="9.6" height="11.97" fill="#f8696f"/>
<text x="659.3" y="41.64" class="m" fill="#5c0c10" stroke="#5c0c10" textLength="5.8" lengthAdjust="spacingAndGlyphs">c</text>
<rect x="675.5" y="32.16" width="9.6" height="11.97" fill="#f8696f"/>
<text x="680.3" y="41.64" class="m" fill="#5c0c10" stroke="#5c0c10" textLength="5.8" lengthAdjust="spacingAndGlyphs">c</text>
<rect x="801.5" y="32.16" width="9.6" height="11.97" fill="#fda80c"/>
<text x="806.3" y="41.64" class="m" fill="#4a3000" stroke="#4a3000" textLength="6.4" lengthAdjust="spacingAndGlyphs">d</text>
<rect x="843.5" y="32.16" width="9.6" height="11.97" fill="#f8696f"/>
<text x="848.3" y="41.64" class="m" fill="#5c0c10" stroke="#5c0c10" textLength="5.8" lengthAdjust="spacingAndGlyphs">c</text>
<rect x="854" y="32.16" width="9.6" height="11.97" fill="#f8696f"/>
<text x="858.8" y="41.64" class="m" fill="#5c0c10" stroke="#5c0c10" textLength="5.8" lengthAdjust="spacingAndGlyphs">c</text>
<rect x="927.5" y="32.16" width="9.6" height="11.97" fill="#f8696f"/>
<text x="932.3" y="41.64" class="m" fill="#5c0c10" stroke="#5c0c10" textLength="5.8" lengthAdjust="spacingAndGlyphs">c</text>
<rect x="959" y="32.16" width="9.6" height="11.97" fill="#fda80c"/>
<text x="963.8" y="41.64" class="m" fill="#4a3000" stroke="#4a3000" textLength="6.4" lengthAdjust="spacingAndGlyphs">d</text>
<rect x="444.5" y="43.72" width="9.6" height="11.97" fill="#fda80c"/>
<text x="449.3" y="53.21" class="m" fill="#4a3000" stroke="#4a3000" textLength="6.4" lengthAdjust="spacingAndGlyphs">d</text>
<rect x="455" y="43.72" width="9.6" height="11.97" fill="#a0a2fa"/>
<text x="459.8" y="53.21" class="m" fill="#23277a" stroke="#23277a" textLength="6.4" lengthAdjust="spacingAndGlyphs">o</text>
<rect x="486.5" y="43.72" width="9.6" height="11.97" fill="#f8696f"/>
<text x="491.3" y="53.21" class="m" fill="#5c0c10" stroke="#5c0c10" textLength="5.8" lengthAdjust="spacingAndGlyphs">c</text>
<rect x="560" y="43.72" width="9.6" height="11.97" fill="#f8696f"/>
<text x="564.8" y="53.21" class="m" fill="#5c0c10" stroke="#5c0c10" textLength="5.8" lengthAdjust="spacingAndGlyphs">c</text>
<rect x="654.5" y="43.72" width="9.6" height="11.97" fill="#f8696f"/>
<text x="659.3" y="53.21" class="m" fill="#5c0c10" stroke="#5c0c10" textLength="5.8" lengthAdjust="spacingAndGlyphs">c</text>
<rect x="675.5" y="43.72" width="9.6" height="11.97" fill="#f8696f"/>
<text x="680.3" y="53.21" class="m" fill="#5c0c10" stroke="#5c0c10" textLength="5.8" lengthAdjust="spacingAndGlyphs">c</text>
<rect x="801.5" y="43.72" width="9.6" height="11.97" fill="#fda80c"/>
<text x="806.3" y="53.21" class="m" fill="#4a3000" stroke="#4a3000" textLength="6.4" lengthAdjust="spacingAndGlyphs">d</text>
<rect x="843.5" y="43.72" width="9.6" height="11.97" fill="#f8696f"/>
<text x="848.3" y="53.21" class="m" fill="#5c0c10" stroke="#5c0c10" textLength="5.8" lengthAdjust="spacingAndGlyphs">c</text>
<rect x="854" y="43.72" width="9.6" height="11.97" fill="#f8696f"/>
<text x="858.8" y="53.21" class="m" fill="#5c0c10" stroke="#5c0c10" textLength="5.8" lengthAdjust="spacingAndGlyphs">c</text>
<rect x="927.5" y="43.72" width="9.6" height="11.97" fill="#f8696f"/>
<text x="932.3" y="53.21" class="m" fill="#5c0c10" stroke="#5c0c10" textLength="5.8" lengthAdjust="spacingAndGlyphs">c</text>
<rect x="455" y="55.3" width="9.6" height="11.97" fill="#a0a2fa"/>
<text x="459.8" y="64.78" class="m" fill="#23277a" stroke="#23277a" textLength="6.4" lengthAdjust="spacingAndGlyphs">o</text>
<rect x="486.5" y="55.3" width="9.6" height="11.97" fill="#f8696f"/>
<text x="491.3" y="64.78" class="m" fill="#5c0c10" stroke="#5c0c10" textLength="5.8" lengthAdjust="spacingAndGlyphs">c</text>
<rect x="560" y="55.3" width="9.6" height="11.97" fill="#f8696f"/>
<text x="564.8" y="64.78" class="m" fill="#5c0c10" stroke="#5c0c10" textLength="5.8" lengthAdjust="spacingAndGlyphs">c</text>
<rect x="654.5" y="55.3" width="9.6" height="11.97" fill="#f8696f"/>
<text x="659.3" y="64.78" class="m" fill="#5c0c10" stroke="#5c0c10" textLength="5.8" lengthAdjust="spacingAndGlyphs">c</text>
<rect x="675.5" y="55.3" width="9.6" height="11.97" fill="#f8696f"/>
<text x="680.3" y="64.78" class="m" fill="#5c0c10" stroke="#5c0c10" textLength="5.8" lengthAdjust="spacingAndGlyphs">c</text>
<rect x="801.5" y="55.3" width="9.6" height="11.97" fill="#fda80c"/>
<text x="806.3" y="64.78" class="m" fill="#4a3000" stroke="#4a3000" textLength="6.4" lengthAdjust="spacingAndGlyphs">d</text>
<rect x="560" y="66.86" width="9.6" height="11.97" fill="#f8696f"/>
<text x="564.8" y="76.35" class="m" fill="#5c0c10" stroke="#5c0c10" textLength="5.8" lengthAdjust="spacingAndGlyphs">c</text>
<rect x="654.5" y="66.86" width="9.6" height="11.97" fill="#f8696f"/>
<text x="659.3" y="76.35" class="m" fill="#5c0c10" stroke="#5c0c10" textLength="5.8" lengthAdjust="spacingAndGlyphs">c</text>
<rect x="675.5" y="66.86" width="9.6" height="11.97" fill="#f8696f"/>
<text x="680.3" y="76.35" class="m" fill="#5c0c10" stroke="#5c0c10" textLength="5.8" lengthAdjust="spacingAndGlyphs">c</text>
<rect x="560" y="78.44" width="9.6" height="11.97" fill="#f8696f"/>
<text x="564.8" y="87.92" class="m" fill="#5c0c10" stroke="#5c0c10" textLength="5.8" lengthAdjust="spacingAndGlyphs">c</text>
<rect x="654.5" y="78.44" width="9.6" height="11.97" fill="#f8696f"/>
<text x="659.3" y="87.92" class="m" fill="#5c0c10" stroke="#5c0c10" textLength="5.8" lengthAdjust="spacingAndGlyphs">c</text>
<rect x="675.5" y="78.44" width="9.6" height="11.97" fill="#f8696f"/>
<text x="680.3" y="87.92" class="m" fill="#5c0c10" stroke="#5c0c10" textLength="5.8" lengthAdjust="spacingAndGlyphs">c</text>
<rect x="801.5" y="78.44" width="9.6" height="11.97" fill="#fda80c"/>
<text x="806.3" y="87.92" class="m" fill="#4a3000" stroke="#4a3000" textLength="6.4" lengthAdjust="spacingAndGlyphs">d</text>
<rect x="539" y="90.01" width="9.6" height="11.97" fill="#fda80c"/>
<text x="543.8" y="99.49" class="m" fill="#4a3000" stroke="#4a3000" textLength="6.4" lengthAdjust="spacingAndGlyphs">d</text>
<rect x="560" y="90.01" width="9.6" height="11.97" fill="#f8696f"/>
<text x="564.8" y="99.49" class="m" fill="#5c0c10" stroke="#5c0c10" textLength="5.8" lengthAdjust="spacingAndGlyphs">c</text>
<rect x="654.5" y="90.01" width="9.6" height="11.97" fill="#f8696f"/>
<text x="659.3" y="99.49" class="m" fill="#5c0c10" stroke="#5c0c10" textLength="5.8" lengthAdjust="spacingAndGlyphs">c</text>
<rect x="675.5" y="90.01" width="9.6" height="11.97" fill="#f8696f"/>
<text x="680.3" y="99.49" class="m" fill="#5c0c10" stroke="#5c0c10" textLength="5.8" lengthAdjust="spacingAndGlyphs">c</text>
<rect x="654.5" y="101.58" width="9.6" height="11.97" fill="#f8696f"/>
<text x="659.3" y="111.06" class="m" fill="#5c0c10" stroke="#5c0c10" textLength="5.8" lengthAdjust="spacingAndGlyphs">c</text>
<rect x="675.5" y="101.58" width="9.6" height="11.97" fill="#f8696f"/>
<text x="680.3" y="111.06" class="m" fill="#5c0c10" stroke="#5c0c10" textLength="5.8" lengthAdjust="spacingAndGlyphs">c</text>
<rect x="654.5" y="113.14" width="9.6" height="11.97" fill="#f8696f"/>
<text x="659.3" y="122.63" class="m" fill="#5c0c10" stroke="#5c0c10" textLength="5.8" lengthAdjust="spacingAndGlyphs">c</text>
<rect x="675.5" y="113.14" width="9.6" height="11.97" fill="#f8696f"/>
<text x="680.3" y="122.63" class="m" fill="#5c0c10" stroke="#5c0c10" textLength="5.8" lengthAdjust="spacingAndGlyphs">c</text>
<rect x="654.5" y="124.71" width="9.6" height="11.97" fill="#f8696f"/>
<text x="659.3" y="134.2" class="m" fill="#5c0c10" stroke="#5c0c10" textLength="5.8" lengthAdjust="spacingAndGlyphs">c</text>
<rect x="675.5" y="124.71" width="9.6" height="11.97" fill="#f8696f"/>
<text x="680.3" y="134.2" class="m" fill="#5c0c10" stroke="#5c0c10" textLength="5.8" lengthAdjust="spacingAndGlyphs">c</text>
<rect x="843.5" y="124.71" width="9.6" height="11.97" fill="#f8696f"/>
<text x="848.3" y="134.2" class="m" fill="#5c0c10" stroke="#5c0c10" textLength="5.8" lengthAdjust="spacingAndGlyphs">c</text>
<rect x="854" y="124.71" width="9.6" height="11.97" fill="#f8696f"/>
<text x="858.8" y="134.2" class="m" fill="#5c0c10" stroke="#5c0c10" textLength="5.8" lengthAdjust="spacingAndGlyphs">c</text>
<rect x="927.5" y="124.71" width="9.6" height="11.97" fill="#f8696f"/>
<text x="932.3" y="134.2" class="m" fill="#5c0c10" stroke="#5c0c10" textLength="5.8" lengthAdjust="spacingAndGlyphs">c</text>
<rect x="654.5" y="136.29" width="9.6" height="11.97" fill="#f8696f"/>
<text x="659.3" y="145.77" class="m" fill="#5c0c10" stroke="#5c0c10" textLength="5.8" lengthAdjust="spacingAndGlyphs">c</text>
<rect x="675.5" y="136.29" width="9.6" height="11.97" fill="#f8696f"/>
<text x="680.3" y="145.77" class="m" fill="#5c0c10" stroke="#5c0c10" textLength="5.8" lengthAdjust="spacingAndGlyphs">c</text>
<rect x="654.5" y="147.86" width="9.6" height="11.97" fill="#f8696f"/>
<text x="659.3" y="157.34" class="m" fill="#5c0c10" stroke="#5c0c10" textLength="5.8" lengthAdjust="spacingAndGlyphs">c</text>
<rect x="675.5" y="147.86" width="9.6" height="11.97" fill="#f8696f"/>
<text x="680.3" y="157.34" class="m" fill="#5c0c10" stroke="#5c0c10" textLength="5.8" lengthAdjust="spacingAndGlyphs">c</text>
<rect x="675.5" y="159.43" width="9.6" height="11.97" fill="#f8696f"/>
<text x="680.3" y="168.91" class="m" fill="#5c0c10" stroke="#5c0c10" textLength="5.8" lengthAdjust="spacingAndGlyphs">c</text>
<rect x="675.5" y="171" width="9.6" height="11.97" fill="#f8696f"/>
<text x="680.3" y="180.48" class="m" fill="#5c0c10" stroke="#5c0c10" textLength="5.8" lengthAdjust="spacingAndGlyphs">c</text>
<rect x="1014.6" y="-7.2" width="9.8" height="11.8" fill="#3cc8da"/>
<text x="1019.5" y="2.2" class="m" fill="#0a4452" stroke="#0a4452" textLength="6.2" lengthAdjust="spacingAndGlyphs">a</text>
<text x="1027.6" y="2.4" class="lg" textLength="174.5" lengthAdjust="spacingAndGlyphs">Acetylation (Protein N-term) (+42.01)</text>
<rect x="1014.6" y="6.35" width="9.8" height="11.8" fill="#f8696f"/>
<text x="1019.5" y="15.75" class="m" fill="#5c0c10" stroke="#5c0c10" textLength="5.8" lengthAdjust="spacingAndGlyphs">c</text>
<text x="1027.6" y="15.95" class="lg" textLength="148" lengthAdjust="spacingAndGlyphs">Carbamidomethylation (+57.02)</text>
<rect x="1014.6" y="19.9" width="9.8" height="11.8" fill="#fda80c"/>
<text x="1019.5" y="29.3" class="m" fill="#4a3000" stroke="#4a3000" textLength="6.4" lengthAdjust="spacingAndGlyphs">d</text>
<text x="1027.6" y="29.5" class="lg" textLength="121" lengthAdjust="spacingAndGlyphs">Deamidation (NQ) (+0.98)</text>
<rect x="1014.6" y="33.45" width="9.8" height="11.8" fill="#a0a2fa"/>
<text x="1019.5" y="42.85" class="m" fill="#23277a" stroke="#23277a" textLength="6.4" lengthAdjust="spacingAndGlyphs">o</text>
<text x="1027.6" y="43.05" class="lg" textLength="108" lengthAdjust="spacingAndGlyphs">Oxidation (M) (+15.99)</text>
</g>
<g transform="translate(-0.3 1310.9) scale(0.9772 0.98)">
<rect x="66.4" y="-9.2" width="745.5" height="16.7" fill="#d3d3d3"/>
<text x="47" y="4.2" class="n" text-anchor="end">81</text>
<text x="66.4" y="4.4" class="sb" textLength="105" lengthAdjust="spacingAndGlyphs">KKFGNCIPYF</text>
<text x="181.9" y="4.4" class="sb" textLength="105" lengthAdjust="spacingAndGlyphs">KTYEYTCNKP</text>
<text x="297.4" y="4.4" class="sb" textLength="105" lengthAdjust="spacingAndGlyphs">DLTCTDAKGS</text>
<text x="412.9" y="4.4" class="sb" textLength="105" lengthAdjust="spacingAndGlyphs">CARNVCDCDR</text>
<text x="528.4" y="4.4" class="sb" textLength="105" lengthAdjust="spacingAndGlyphs">AAAICFAAAP</text>
<text x="643.9" y="4.4" class="sb" textLength="105" lengthAdjust="spacingAndGlyphs">YNLANFGINK</text>
<text x="759.4" y="4.4" class="sb" textLength="52.5" lengthAdjust="spacingAndGlyphs">ETHCQ</text>
<rect x="108.5" y="-20.9" width="9.6" height="11.9" fill="#fda80c"/>
<text x="113.3" y="-11.45" class="m" fill="#4a3000" stroke="#4a3000" textLength="6.4" lengthAdjust="spacingAndGlyphs">d</text>
<text x="113.3" y="-22.2" class="t" textLength="9" lengthAdjust="spacingAndGlyphs">85</text>
<rect x="119" y="-20.9" width="9.6" height="11.9" fill="#f8696f"/>
<text x="123.8" y="-11.45" class="m" fill="#5c0c10" stroke="#5c0c10" textLength="5.8" lengthAdjust="spacingAndGlyphs">c</text>
<text x="123.8" y="-22.2" class="t" textLength="9" lengthAdjust="spacingAndGlyphs">86</text>
<rect x="245" y="-20.9" width="9.6" height="11.9" fill="#f8696f"/>
<text x="249.8" y="-11.45" class="m" fill="#5c0c10" stroke="#5c0c10" textLength="5.8" lengthAdjust="spacingAndGlyphs">c</text>
<text x="249.8" y="-22.2" class="t" textLength="9" lengthAdjust="spacingAndGlyphs">97</text>
<rect x="255.5" y="-20.9" width="9.6" height="11.9" fill="#fda80c"/>
<text x="260.3" y="-11.45" class="m" fill="#4a3000" stroke="#4a3000" textLength="6.4" lengthAdjust="spacingAndGlyphs">d</text>
<text x="260.3" y="-22.2" class="t" textLength="9" lengthAdjust="spacingAndGlyphs">98</text>
<rect x="329" y="-20.9" width="9.6" height="11.9" fill="#f8696f"/>
<text x="333.8" y="-11.45" class="m" fill="#5c0c10" stroke="#5c0c10" textLength="5.8" lengthAdjust="spacingAndGlyphs">c</text>
<text x="333.8" y="-22.2" class="t" textLength="13.5" lengthAdjust="spacingAndGlyphs">104</text>
<rect x="465.5" y="-20.9" width="9.6" height="11.9" fill="#f8696f"/>
<text x="470.3" y="-11.45" class="m" fill="#5c0c10" stroke="#5c0c10" textLength="5.8" lengthAdjust="spacingAndGlyphs">c</text>
<text x="470.3" y="-22.2" class="t" textLength="13.5" lengthAdjust="spacingAndGlyphs">116</text>
<rect x="570.5" y="-20.9" width="9.6" height="11.9" fill="#f8696f"/>
<text x="575.3" y="-11.45" class="m" fill="#5c0c10" stroke="#5c0c10" textLength="5.8" lengthAdjust="spacingAndGlyphs">c</text>
<text x="575.3" y="-22.2" class="t" textLength="13.5" lengthAdjust="spacingAndGlyphs">125</text>
<rect x="654.5" y="-20.9" width="9.6" height="11.9" fill="#fda80c"/>
<text x="659.3" y="-11.45" class="m" fill="#4a3000" stroke="#4a3000" textLength="6.4" lengthAdjust="spacingAndGlyphs">d</text>
<text x="659.3" y="-22.2" class="t" textLength="13.5" lengthAdjust="spacingAndGlyphs">132</text>
<rect x="686" y="-20.9" width="9.6" height="11.9" fill="#fda80c"/>
<text x="690.8" y="-11.45" class="m" fill="#4a3000" stroke="#4a3000" textLength="6.4" lengthAdjust="spacingAndGlyphs">d</text>
<text x="690.8" y="-22.2" class="t" textLength="13.5" lengthAdjust="spacingAndGlyphs">135</text>
<rect x="728" y="-20.9" width="9.6" height="11.9" fill="#fda80c"/>
<text x="732.8" y="-11.45" class="m" fill="#4a3000" stroke="#4a3000" textLength="6.4" lengthAdjust="spacingAndGlyphs">d</text>
<text x="732.8" y="-22.2" class="t" textLength="13.5" lengthAdjust="spacingAndGlyphs">139</text>
<rect x="791" y="-20.9" width="9.6" height="11.9" fill="#f8696f"/>
<text x="795.8" y="-11.45" class="m" fill="#5c0c10" stroke="#5c0c10" textLength="5.8" lengthAdjust="spacingAndGlyphs">c</text>
<text x="795.8" y="-22.2" class="t" textLength="13.5" lengthAdjust="spacingAndGlyphs">144</text>
<path d="M198.25 -10.3l-10.2 -19.4l8.2 3.7v-13.9h4v13.9l8.2 -3.7z" fill="#5ff75c"/>
<path d="M66.4 15H87.4M87.4 15H444.4M444.4 15H517.9M528.4 15H633.4M643.9 15H748.9M66.4 26.57H76.9M76.9 26.57H192.4M192.4 26.57H276.4M381.4 26.57H748.9M66.4 38.14H192.4M192.4 38.14H307.9M391.9 38.14H748.9M66.4 49.71H192.4M192.4 49.71H444.4M444.4 49.71H811.9M66.4 61.28H192.4M192.4 61.28H454.9M528.4 61.28H664.9M664.9 61.28H748.9M76.9 72.85H381.4M391.9 72.85H748.9M76.9 84.42H192.4M192.4 84.42H381.4M444.4 84.42H811.9M87.4 95.99H381.4M444.4 95.99H748.9M87.4 107.56H517.9M528.4 107.56H664.9M87.4 119.13H192.4M192.4 119.13H391.9M528.4 119.13H654.4M654.4 119.13H811.9M66.4 130.7H76.9M87.4 130.7H381.4M528.4 130.7H811.9M97.9 142.27H381.4M528.4 142.27H811.9M108.4 153.84H192.4M192.4 153.84H486.4M528.4 153.84H811.9M108.4 165.41H192.4M192.4 165.41H381.4M528.4 165.41H696.4M160.9 176.98H381.4M528.4 176.98H696.4M181.9 188.55H381.4M528.4 188.55H790.9M181.9 200.12H381.4M528.4 200.12H748.9M192.4 211.69H360.4M528.4 211.69H685.9M192.4 223.26H339.4M528.4 223.26H748.9M192.4 234.83H349.9M538.9 234.83H748.9M192.4 246.4H370.9M549.4 246.4H748.9M192.4 257.97H360.4M559.9 257.97H748.9M202.9 269.54H381.4M570.4 269.54H748.9M234.4 281.11H381.4M580.9 281.11H811.9M255.4 292.68H381.4M580.9 292.68H748.9M265.9 304.25H381.4M580.9 304.25H748.9M591.4 315.82H811.9M591.4 327.39H811.9M591.4 338.96H811.9M591.4 350.53H811.9M591.4 362.1H748.9M591.4 373.67H748.9M591.4 385.24H748.9M601.9 396.81H811.9M601.9 408.38H748.9M601.9 419.95H748.9M612.4 431.52H748.9M612.4 443.09H748.9M612.4 454.66H811.9M622.9 466.23H748.9M654.4 477.8H748.9M654.4 489.37H748.9" stroke="#3690f8" stroke-width="3.6" fill="none"/>
<path d="M87.4 11.5v7M87.4 11.5v7M444.4 11.5v7M444.4 11.5v7M517.9 11.5v7M528.4 11.5v7M633.4 11.5v7M643.9 11.5v7M748.9 11.5v7M76.9 23.07v7M76.9 23.07v7M192.4 23.07v7M192.4 23.07v7M276.4 23.07v7M381.4 23.07v7M748.9 23.07v7M192.4 34.64v7M192.4 34.64v7M307.9 34.64v7M391.9 34.64v7M748.9 34.64v7M192.4 46.21v7M192.4 46.21v7M444.4 46.21v7M444.4 46.21v7M811.9 46.21v7M66.4 57.78v7M192.4 57.78v7M192.4 57.78v7M454.9 57.78v7M528.4 57.78v7M664.9 57.78v7M664.9 57.78v7M748.9 57.78v7M76.9 69.35v7M381.4 69.35v7M391.9 69.35v7M748.9 69.35v7M76.9 80.92v7M192.4 80.92v7M192.4 80.92v7M381.4 80.92v7M444.4 80.92v7M811.9 80.92v7M87.4 92.49v7M381.4 92.49v7M444.4 92.49v7M748.9 92.49v7M87.4 104.06v7M517.9 104.06v7M528.4 104.06v7M87.4 115.63v7M192.4 115.63v7M192.4 115.63v7M391.9 115.63v7M528.4 115.63v7M654.4 115.63v7M654.4 115.63v7M811.9 115.63v7M76.9 127.2v7M87.4 127.2v7M381.4 127.2v7M528.4 127.2v7M811.9 127.2v7M97.9 138.77v7M381.4 138.77v7M528.4 138.77v7M811.9 138.77v7M108.4 150.34v7M192.4 150.34v7M192.4 150.34v7M486.4 150.34v7M528.4 150.34v7M811.9 150.34v7M192.4 161.91v7M192.4 161.91v7M381.4 161.91v7M528.4 161.91v7M696.4 161.91v7M160.9 173.48v7M381.4 173.48v7M528.4 173.48v7M696.4 173.48v7M181.9 185.05v7M381.4 185.05v7M528.4 185.05v7M790.9 185.05v7M181.9 196.62v7M381.4 196.62v7M528.4 196.62v7M748.9 196.62v7M192.4 208.19v7M360.4 208.19v7M528.4 208.19v7M685.9 208.19v7M192.4 219.76v7M528.4 219.76v7M748.9 219.76v7M192.4 231.33v7M349.9 231.33v7M538.9 231.33v7M748.9 231.33v7M192.4 242.9v7M370.9 242.9v7M549.4 242.9v7M748.9 242.9v7M192.4 254.47v7M360.4 254.47v7M559.9 254.47v7M748.9 254.47v7M202.9 266.04v7M381.4 266.04v7M748.9 266.04v7M234.4 277.61v7M381.4 277.61v7M580.9 277.61v7M811.9 277.61v7M255.4 289.18v7M381.4 289.18v7M580.9 289.18v7M748.9 289.18v7M265.9 300.75v7M381.4 300.75v7M580.9 300.75v7M748.9 300.75v7M591.4 312.32v7M811.9 312.32v7M591.4 323.89v7M811.9 323.89v7M591.4 335.46v7M811.9 335.46v7M591.4 347.03v7M811.9 347.03v7M591.4 358.6v7M748.9 358.6v7M591.4 370.17v7M748.9 370.17v7M591.4 381.74v7M748.9 381.74v7M601.9 393.31v7M811.9 393.31v7M601.9 404.88v7M748.9 404.88v7M601.9 416.45v7M748.9 416.45v7M612.4 428.02v7M748.9 428.02v7M612.4 439.59v7M748.9 439.59v7M612.4 451.16v7M811.9 451.16v7M622.9 462.73v7M748.9 462.73v7M654.4 474.3v7M748.9 474.3v7M654.4 485.87v7M748.9 485.87v7" stroke="#3690f8" stroke-width="1.25" fill="none"/>
<rect x="119" y="9.02" width="9.6" height="11.97" fill="#f8696f"/>
<text x="123.8" y="18.5" class="m" fill="#5c0c10" stroke="#5c0c10" textLength="5.8" lengthAdjust="spacingAndGlyphs">c</text>
<rect x="245" y="9.02" width="9.6" height="11.97" fill="#f8696f"/>
<text x="249.8" y="18.5" class="m" fill="#5c0c10" stroke="#5c0c10" textLength="5.8" lengthAdjust="spacingAndGlyphs">c</text>
<rect x="329" y="9.02" width="9.6" height="11.97" fill="#f8696f"/>
<text x="333.8" y="18.5" class="m" fill="#5c0c10" stroke="#5c0c10" textLength="5.8" lengthAdjust="spacingAndGlyphs">c</text>
<rect x="413" y="9.02" width="9.6" height="11.97" fill="#f8696f"/>
<text x="417.8" y="18.5" class="m" fill="#5c0c10" stroke="#5c0c10" textLength="5.8" lengthAdjust="spacingAndGlyphs">c</text>
<rect x="465.5" y="9.02" width="9.6" height="11.97" fill="#f8696f"/>
<text x="470.3" y="18.5" class="m" fill="#5c0c10" stroke="#5c0c10" textLength="5.8" lengthAdjust="spacingAndGlyphs">c</text>
<rect x="486.5" y="9.02" width="9.6" height="11.97" fill="#f8696f"/>
<text x="491.3" y="18.5" class="m" fill="#5c0c10" stroke="#5c0c10" textLength="5.8" lengthAdjust="spacingAndGlyphs">c</text>
<rect x="570.5" y="9.02" width="9.6" height="11.97" fill="#f8696f"/>
<text x="575.3" y="18.5" class="m" fill="#5c0c10" stroke="#5c0c10" textLength="5.8" lengthAdjust="spacingAndGlyphs">c</text>
<rect x="119" y="20.59" width="9.6" height="11.97" fill="#f8696f"/>
<text x="123.8" y="30.07" class="m" fill="#5c0c10" stroke="#5c0c10" textLength="5.8" lengthAdjust="spacingAndGlyphs">c</text>
<rect x="245" y="20.59" width="9.6" height="11.97" fill="#f8696f"/>
<text x="249.8" y="30.07" class="m" fill="#5c0c10" stroke="#5c0c10" textLength="5.8" lengthAdjust="spacingAndGlyphs">c</text>
<rect x="413" y="20.59" width="9.6" height="11.97" fill="#f8696f"/>
<text x="417.8" y="30.07" class="m" fill="#5c0c10" stroke="#5c0c10" textLength="5.8" lengthAdjust="spacingAndGlyphs">c</text>
<rect x="465.5" y="20.59" width="9.6" height="11.97" fill="#f8696f"/>
<text x="470.3" y="30.07" class="m" fill="#5c0c10" stroke="#5c0c10" textLength="5.8" lengthAdjust="spacingAndGlyphs">c</text>
<rect x="486.5" y="20.59" width="9.6" height="11.97" fill="#f8696f"/>
<text x="491.3" y="30.07" class="m" fill="#5c0c10" stroke="#5c0c10" textLength="5.8" lengthAdjust="spacingAndGlyphs">c</text>
<rect x="570.5" y="20.59" width="9.6" height="11.97" fill="#f8696f"/>
<text x="575.3" y="30.07" class="m" fill="#5c0c10" stroke="#5c0c10" textLength="5.8" lengthAdjust="spacingAndGlyphs">c</text>
<rect x="119" y="32.16" width="9.6" height="11.97" fill="#f8696f"/>
<text x="123.8" y="41.64" class="m" fill="#5c0c10" stroke="#5c0c10" textLength="5.8" lengthAdjust="spacingAndGlyphs">c</text>
<rect x="245" y="32.16" width="9.6" height="11.97" fill="#f8696f"/>
<text x="249.8" y="41.64" class="m" fill="#5c0c10" stroke="#5c0c10" textLength="5.8" lengthAdjust="spacingAndGlyphs">c</text>
<rect x="413" y="32.16" width="9.6" height="11.97" fill="#f8696f"/>
<text x="417.8" y="41.64" class="m" fill="#5c0c10" stroke="#5c0c10" textLength="5.8" lengthAdjust="spacingAndGlyphs">c</text>
<rect x="465.5" y="32.16" width="9.6" height="11.97" fill="#f8696f"/>
<text x="470.3" y="41.64" class="m" fill="#5c0c10" stroke="#5c0c10" textLength="5.8" lengthAdjust="spacingAndGlyphs">c</text>
<rect x="486.5" y="32.16" width="9.6" height="11.97" fill="#f8696f"/>
<text x="491.3" y="41.64" class="m" fill="#5c0c10" stroke="#5c0c10" textLength="5.8" lengthAdjust="spacingAndGlyphs">c</text>
<rect x="570.5" y="32.16" width="9.6" height="11.97" fill="#f8696f"/>
<text x="575.3" y="41.64" class="m" fill="#5c0c10" stroke="#5c0c10" textLength="5.8" lengthAdjust="spacingAndGlyphs">c</text>
<rect x="119" y="43.72" width="9.6" height="11.97" fill="#f8696f"/>
<text x="123.8" y="53.21" class="m" fill="#5c0c10" stroke="#5c0c10" textLength="5.8" lengthAdjust="spacingAndGlyphs">c</text>
<rect x="245" y="43.72" width="9.6" height="11.97" fill="#f8696f"/>
<text x="249.8" y="53.21" class="m" fill="#5c0c10" stroke="#5c0c10" textLength="5.8" lengthAdjust="spacingAndGlyphs">c</text>
<rect x="329" y="43.72" width="9.6" height="11.97" fill="#f8696f"/>
<text x="333.8" y="53.21" class="m" fill="#5c0c10" stroke="#5c0c10" textLength="5.8" lengthAdjust="spacingAndGlyphs">c</text>
<rect x="413" y="43.72" width="9.6" height="11.97" fill="#f8696f"/>
<text x="417.8" y="53.21" class="m" fill="#5c0c10" stroke="#5c0c10" textLength="5.8" lengthAdjust="spacingAndGlyphs">c</text>
<rect x="465.5" y="43.72" width="9.6" height="11.97" fill="#f8696f"/>
<text x="470.3" y="53.21" class="m" fill="#5c0c10" stroke="#5c0c10" textLength="5.8" lengthAdjust="spacingAndGlyphs">c</text>
<rect x="486.5" y="43.72" width="9.6" height="11.97" fill="#f8696f"/>
<text x="491.3" y="53.21" class="m" fill="#5c0c10" stroke="#5c0c10" textLength="5.8" lengthAdjust="spacingAndGlyphs">c</text>
<rect x="570.5" y="43.72" width="9.6" height="11.97" fill="#f8696f"/>
<text x="575.3" y="53.21" class="m" fill="#5c0c10" stroke="#5c0c10" textLength="5.8" lengthAdjust="spacingAndGlyphs">c</text>
<rect x="686" y="43.72" width="9.6" height="11.97" fill="#fda80c"/>
<text x="690.8" y="53.21" class="m" fill="#4a3000" stroke="#4a3000" textLength="6.4" lengthAdjust="spacingAndGlyphs">d</text>
<rect x="791" y="43.72" width="9.6" height="11.97" fill="#f8696f"/>
<text x="795.8" y="53.21" class="m" fill="#5c0c10" stroke="#5c0c10" textLength="5.8" lengthAdjust="spacingAndGlyphs">c</text>
<rect x="119" y="55.3" width="9.6" height="11.97" fill="#f8696f"/>
<text x="123.8" y="64.78" class="m" fill="#5c0c10" stroke="#5c0c10" textLength="5.8" lengthAdjust="spacingAndGlyphs">c</text>
<rect x="245" y="55.3" width="9.6" height="11.97" fill="#f8696f"/>
<text x="249.8" y="64.78" class="m" fill="#5c0c10" stroke="#5c0c10" textLength="5.8" lengthAdjust="spacingAndGlyphs">c</text>
<rect x="329" y="55.3" width="9.6" height="11.97" fill="#f8696f"/>
<text x="333.8" y="64.78" class="m" fill="#5c0c10" stroke="#5c0c10" textLength="5.8" lengthAdjust="spacingAndGlyphs">c</text>
<rect x="413" y="55.3" width="9.6" height="11.97" fill="#f8696f"/>
<text x="417.8" y="64.78" class="m" fill="#5c0c10" stroke="#5c0c10" textLength="5.8" lengthAdjust="spacingAndGlyphs">c</text>
<rect x="570.5" y="55.3" width="9.6" height="11.97" fill="#f8696f"/>
<text x="575.3" y="64.78" class="m" fill="#5c0c10" stroke="#5c0c10" textLength="5.8" lengthAdjust="spacingAndGlyphs">c</text>
<rect x="119" y="66.86" width="9.6" height="11.97" fill="#f8696f"/>
<text x="123.8" y="76.35" class="m" fill="#5c0c10" stroke="#5c0c10" textLength="5.8" lengthAdjust="spacingAndGlyphs">c</text>
<rect x="245" y="66.86" width="9.6" height="11.97" fill="#f8696f"/>
<text x="249.8" y="76.35" class="m" fill="#5c0c10" stroke="#5c0c10" textLength="5.8" lengthAdjust="spacingAndGlyphs">c</text>
<rect x="329" y="66.86" width="9.6" height="11.97" fill="#f8696f"/>
<text x="333.8" y="76.35" class="m" fill="#5c0c10" stroke="#5c0c10" textLength="5.8" lengthAdjust="spacingAndGlyphs">c</text>
<rect x="413" y="66.86" width="9.6" height="11.97" fill="#f8696f"/>
<text x="417.8" y="76.35" class="m" fill="#5c0c10" stroke="#5c0c10" textLength="5.8" lengthAdjust="spacingAndGlyphs">c</text>
<rect x="444.5" y="66.86" width="9.6" height="11.97" fill="#fda80c"/>
<text x="449.3" y="76.35" class="m" fill="#4a3000" stroke="#4a3000" textLength="6.4" lengthAdjust="spacingAndGlyphs">d</text>
<rect x="465.5" y="66.86" width="9.6" height="11.97" fill="#f8696f"/>
<text x="470.3" y="76.35" class="m" fill="#5c0c10" stroke="#5c0c10" textLength="5.8" lengthAdjust="spacingAndGlyphs">c</text>
<rect x="486.5" y="66.86" width="9.6" height="11.97" fill="#f8696f"/>
<text x="491.3" y="76.35" class="m" fill="#5c0c10" stroke="#5c0c10" textLength="5.8" lengthAdjust="spacingAndGlyphs">c</text>
<rect x="570.5" y="66.86" width="9.6" height="11.97" fill="#f8696f"/>
<text x="575.3" y="76.35" class="m" fill="#5c0c10" stroke="#5c0c10" textLength="5.8" lengthAdjust="spacingAndGlyphs">c</text>
<rect x="108.5" y="78.44" width="9.6" height="11.97" fill="#fda80c"/>
<text x="113.3" y="87.92" class="m" fill="#4a3000" stroke="#4a3000" textLength="6.4" lengthAdjust="spacingAndGlyphs">d</text>
<rect x="119" y="78.44" width="9.6" height="11.97" fill="#f8696f"/>
<text x="123.8" y="87.92" class="m" fill="#5c0c10" stroke="#5c0c10" textLength="5.8" lengthAdjust="spacingAndGlyphs">c</text>
<rect x="245" y="78.44" width="9.6" height="11.97" fill="#f8696f"/>
<text x="249.8" y="87.92" class="m" fill="#5c0c10" stroke="#5c0c10" textLength="5.8" lengthAdjust="spacingAndGlyphs">c</text>
<rect x="329" y="78.44" width="9.6" height="11.97" fill="#f8696f"/>
<text x="333.8" y="87.92" class="m" fill="#5c0c10" stroke="#5c0c10" textLength="5.8" lengthAdjust="spacingAndGlyphs">c</text>
<rect x="465.5" y="78.44" width="9.6" height="11.97" fill="#f8696f"/>
<text x="470.3" y="87.92" class="m" fill="#5c0c10" stroke="#5c0c10" textLength="5.8" lengthAdjust="spacingAndGlyphs">c</text>
<rect x="486.5" y="78.44" width="9.6" height="11.97" fill="#f8696f"/>
<text x="491.3" y="87.92" class="m" fill="#5c0c10" stroke="#5c0c10" textLength="5.8" lengthAdjust="spacingAndGlyphs">c</text>
<rect x="570.5" y="78.44" width="9.6" height="11.97" fill="#f8696f"/>
<text x="575.3" y="87.92" class="m" fill="#5c0c10" stroke="#5c0c10" textLength="5.8" lengthAdjust="spacingAndGlyphs">c</text>
<rect x="791" y="78.44" width="9.6" height="11.97" fill="#f8696f"/>
<text x="795.8" y="87.92" class="m" fill="#5c0c10" stroke="#5c0c10" textLength="5.8" lengthAdjust="spacingAndGlyphs">c</text>
<rect x="119" y="90.01" width="9.6" height="11.97" fill="#f8696f"/>
<text x="123.8" y="99.49" class="m" fill="#5c0c10" stroke="#5c0c10" textLength="5.8" lengthAdjust="spacingAndGlyphs">c</text>
<rect x="245" y="90.01" width="9.6" height="11.97" fill="#f8696f"/>
<text x="249.8" y="99.49" class="m" fill="#5c0c10" stroke="#5c0c10" textLength="5.8" lengthAdjust="spacingAndGlyphs">c</text>
<rect x="329" y="90.01" width="9.6" height="11.97" fill="#f8696f"/>
<text x="333.8" y="99.49" class="m" fill="#5c0c10" stroke="#5c0c10" textLength="5.8" lengthAdjust="spacingAndGlyphs">c</text>
<rect x="465.5" y="90.01" width="9.6" height="11.97" fill="#f8696f"/>
<text x="470.3" y="99.49" class="m" fill="#5c0c10" stroke="#5c0c10" textLength="5.8" lengthAdjust="spacingAndGlyphs">c</text>
<rect x="486.5" y="90.01" width="9.6" height="11.97" fill="#f8696f"/>
<text x="491.3" y="99.49" class="m" fill="#5c0c10" stroke="#5c0c10" textLength="5.8" lengthAdjust="spacingAndGlyphs">c</text>
<rect x="570.5" y="90.01" width="9.6" height="11.97" fill="#f8696f"/>
<text x="575.3" y="99.49" class="m" fill="#5c0c10" stroke="#5c0c10" textLength="5.8" lengthAdjust="spacingAndGlyphs">c</text>
<rect x="119" y="101.58" width="9.6" height="11.97" fill="#f8696f"/>
<text x="123.8" y="111.06" class="m" fill="#5c0c10" stroke="#5c0c10" textLength="5.8" lengthAdjust="spacingAndGlyphs">c</text>
<rect x="245" y="101.58" width="9.6" height="11.97" fill="#f8696f"/>
<text x="249.8" y="111.06" class="m" fill="#5c0c10" stroke="#5c0c10" textLength="5.8" lengthAdjust="spacingAndGlyphs">c</text>
<rect x="329" y="101.58" width="9.6" height="11.97" fill="#f8696f"/>
<text x="333.8" y="111.06" class="m" fill="#5c0c10" stroke="#5c0c10" textLength="5.8" lengthAdjust="spacingAndGlyphs">c</text>
<rect x="413" y="101.58" width="9.6" height="11.97" fill="#f8696f"/>
<text x="417.8" y="111.06" class="m" fill="#5c0c10" stroke="#5c0c10" textLength="5.8" lengthAdjust="spacingAndGlyphs">c</text>
<rect x="444.5" y="101.58" width="9.6" height="11.97" fill="#fda80c"/>
<text x="449.3" y="111.06" class="m" fill="#4a3000" stroke="#4a3000" textLength="6.4" lengthAdjust="spacingAndGlyphs">d</text>
<rect x="465.5" y="101.58" width="9.6" height="11.97" fill="#f8696f"/>
<text x="470.3" y="111.06" class="m" fill="#5c0c10" stroke="#5c0c10" textLength="5.8" lengthAdjust="spacingAndGlyphs">c</text>
<rect x="486.5" y="101.58" width="9.6" height="11.97" fill="#f8696f"/>
<text x="491.3" y="111.06" class="m" fill="#5c0c10" stroke="#5c0c10" textLength="5.8" lengthAdjust="spacingAndGlyphs">c</text>
<rect x="570.5" y="101.58" width="9.6" height="11.97" fill="#f8696f"/>
<text x="575.3" y="111.06" class="m" fill="#5c0c10" stroke="#5c0c10" textLength="5.8" lengthAdjust="spacingAndGlyphs">c</text>
<rect x="654.5" y="101.58" width="9.6" height="11.97" fill="#fda80c"/>
<text x="659.3" y="111.06" class="m" fill="#4a3000" stroke="#4a3000" textLength="6.4" lengthAdjust="spacingAndGlyphs">d</text>
<rect x="108.5" y="113.14" width="9.6" height="11.97" fill="#fda80c"/>
<text x="113.3" y="122.63" class="m" fill="#4a3000" stroke="#4a3000" textLength="6.4" lengthAdjust="spacingAndGlyphs">d</text>
<rect x="119" y="113.14" width="9.6" height="11.97" fill="#f8696f"/>
<text x="123.8" y="122.63" class="m" fill="#5c0c10" stroke="#5c0c10" textLength="5.8" lengthAdjust="spacingAndGlyphs">c</text>
<rect x="245" y="113.14" width="9.6" height="11.97" fill="#f8696f"/>
<text x="249.8" y="122.63" class="m" fill="#5c0c10" stroke="#5c0c10" textLength="5.8" lengthAdjust="spacingAndGlyphs">c</text>
<rect x="329" y="113.14" width="9.6" height="11.97" fill="#f8696f"/>
<text x="333.8" y="122.63" class="m" fill="#5c0c10" stroke="#5c0c10" textLength="5.8" lengthAdjust="spacingAndGlyphs">c</text>
<rect x="570.5" y="113.14" width="9.6" height="11.97" fill="#f8696f"/>
<text x="575.3" y="122.63" class="m" fill="#5c0c10" stroke="#5c0c10" textLength="5.8" lengthAdjust="spacingAndGlyphs">c</text>
<rect x="728" y="113.14" width="9.6" height="11.97" fill="#fda80c"/>
<text x="732.8" y="122.63" class="m" fill="#4a3000" stroke="#4a3000" textLength="6.4" lengthAdjust="spacingAndGlyphs">d</text>
<rect x="791" y="113.14" width="9.6" height="11.97" fill="#f8696f"/>
<text x="795.8" y="122.63" class="m" fill="#5c0c10" stroke="#5c0c10" textLength="5.8" lengthAdjust="spacingAndGlyphs">c</text>
<rect x="108.5" y="124.71" width="9.6" height="11.97" fill="#fda80c"/>
<text x="113.3" y="134.2" class="m" fill="#4a3000" stroke="#4a3000" textLength="6.4" lengthAdjust="spacingAndGlyphs">d</text>
<rect x="119" y="124.71" width="9.6" height="11.97" fill="#f8696f"/>
<text x="123.8" y="134.2" class="m" fill="#5c0c10" stroke="#5c0c10" textLength="5.8" lengthAdjust="spacingAndGlyphs">c</text>
<rect x="245" y="124.71" width="9.6" height="11.97" fill="#f8696f"/>
<text x="249.8" y="134.2" class="m" fill="#5c0c10" stroke="#5c0c10" textLength="5.8" lengthAdjust="spacingAndGlyphs">c</text>
<rect x="329" y="124.71" width="9.6" height="11.97" fill="#f8696f"/>
<text x="333.8" y="134.2" class="m" fill="#5c0c10" stroke="#5c0c10" textLength="5.8" lengthAdjust="spacingAndGlyphs">c</text>
<rect x="570.5" y="124.71" width="9.6" height="11.97" fill="#f8696f"/>
<text x="575.3" y="134.2" class="m" fill="#5c0c10" stroke="#5c0c10" textLength="5.8" lengthAdjust="spacingAndGlyphs">c</text>
<rect x="791" y="124.71" width="9.6" height="11.97" fill="#f8696f"/>
<text x="795.8" y="134.2" class="m" fill="#5c0c10" stroke="#5c0c10" textLength="5.8" lengthAdjust="spacingAndGlyphs">c</text>
<rect x="119" y="136.29" width="9.6" height="11.97" fill="#f8696f"/>
<text x="123.8" y="145.77" class="m" fill="#5c0c10" stroke="#5c0c10" textLength="5.8" lengthAdjust="spacingAndGlyphs">c</text>
<rect x="245" y="136.29" width="9.6" height="11.97" fill="#f8696f"/>
<text x="249.8" y="145.77" class="m" fill="#5c0c10" stroke="#5c0c10" textLength="5.8" lengthAdjust="spacingAndGlyphs">c</text>
<rect x="329" y="136.29" width="9.6" height="11.97" fill="#f8696f"/>
<text x="333.8" y="145.77" class="m" fill="#5c0c10" stroke="#5c0c10" textLength="5.8" lengthAdjust="spacingAndGlyphs">c</text>
<rect x="570.5" y="136.29" width="9.6" height="11.97" fill="#f8696f"/>
<text x="575.3" y="145.77" class="m" fill="#5c0c10" stroke="#5c0c10" textLength="5.8" lengthAdjust="spacingAndGlyphs">c</text>
<rect x="728" y="136.29" width="9.6" height="11.97" fill="#fda80c"/>
<text x="732.8" y="145.77" class="m" fill="#4a3000" stroke="#4a3000" textLength="6.4" lengthAdjust="spacingAndGlyphs">d</text>
<rect x="791" y="136.29" width="9.6" height="11.97" fill="#f8696f"/>
<text x="795.8" y="145.77" class="m" fill="#5c0c10" stroke="#5c0c10" textLength="5.8" lengthAdjust="spacingAndGlyphs">c</text>
<rect x="119" y="147.86" width="9.6" height="11.97" fill="#f8696f"/>
<text x="123.8" y="157.34" class="m" fill="#5c0c10" stroke="#5c0c10" textLength="5.8" lengthAdjust="spacingAndGlyphs">c</text>
<rect x="245" y="147.86" width="9.6" height="11.97" fill="#f8696f"/>
<text x="249.8" y="157.34" class="m" fill="#5c0c10" stroke="#5c0c10" textLength="5.8" lengthAdjust="spacingAndGlyphs">c</text>
<rect x="329" y="147.86" width="9.6" height="11.97" fill="#f8696f"/>
<text x="333.8" y="157.34" class="m" fill="#5c0c10" stroke="#5c0c10" textLength="5.8" lengthAdjust="spacingAndGlyphs">c</text>
<rect x="413" y="147.86" width="9.6" height="11.97" fill="#f8696f"/>
<text x="417.8" y="157.34" class="m" fill="#5c0c10" stroke="#5c0c10" textLength="5.8" lengthAdjust="spacingAndGlyphs">c</text>
<rect x="465.5" y="147.86" width="9.6" height="11.97" fill="#f8696f"/>
<text x="470.3" y="157.34" class="m" fill="#5c0c10" stroke="#5c0c10" textLength="5.8" lengthAdjust="spacingAndGlyphs">c</text>
<rect x="570.5" y="147.86" width="9.6" height="11.97" fill="#f8696f"/>
<text x="575.3" y="157.34" class="m" fill="#5c0c10" stroke="#5c0c10" textLength="5.8" lengthAdjust="spacingAndGlyphs">c</text>
<rect x="686" y="147.86" width="9.6" height="11.97" fill="#fda80c"/>
<text x="690.8" y="157.34" class="m" fill="#4a3000" stroke="#4a3000" textLength="6.4" lengthAdjust="spacingAndGlyphs">d</text>
<rect x="791" y="147.86" width="9.6" height="11.97" fill="#f8696f"/>
<text x="795.8" y="157.34" class="m" fill="#5c0c10" stroke="#5c0c10" textLength="5.8" lengthAdjust="spacingAndGlyphs">c</text>
<rect x="108.5" y="159.43" width="9.6" height="11.97" fill="#fda80c"/>
<text x="113.3" y="168.91" class="m" fill="#4a3000" stroke="#4a3000" textLength="6.4" lengthAdjust="spacingAndGlyphs">d</text>
<rect x="119" y="159.43" width="9.6" height="11.97" fill="#f8696f"/>
<text x="123.8" y="168.91" class="m" fill="#5c0c10" stroke="#5c0c10" textLength="5.8" lengthAdjust="spacingAndGlyphs">c</text>
<rect x="245" y="159.43" width="9.6" height="11.97" fill="#f8696f"/>
<text x="249.8" y="168.91" class="m" fill="#5c0c10" stroke="#5c0c10" textLength="5.8" lengthAdjust="spacingAndGlyphs">c</text>
<rect x="255.5" y="159.43" width="9.6" height="11.97" fill="#fda80c"/>
<text x="260.3" y="168.91" class="m" fill="#4a3000" stroke="#4a3000" textLength="6.4" lengthAdjust="spacingAndGlyphs">d</text>
<rect x="329" y="159.43" width="9.6" height="11.97" fill="#f8696f"/>
<text x="333.8" y="168.91" class="m" fill="#5c0c10" stroke="#5c0c10" textLength="5.8" lengthAdjust="spacingAndGlyphs">c</text>
<rect x="570.5" y="159.43" width="9.6" height="11.97" fill="#f8696f"/>
<text x="575.3" y="168.91" class="m" fill="#5c0c10" stroke="#5c0c10" textLength="5.8" lengthAdjust="spacingAndGlyphs">c</text>
<rect x="654.5" y="159.43" width="9.6" height="11.97" fill="#fda80c"/>
<text x="659.3" y="168.91" class="m" fill="#4a3000" stroke="#4a3000" textLength="6.4" lengthAdjust="spacingAndGlyphs">d</text>
<rect x="245" y="171" width="9.6" height="11.97" fill="#f8696f"/>
<text x="249.8" y="180.48" class="m" fill="#5c0c10" stroke="#5c0c10" textLength="5.8" lengthAdjust="spacingAndGlyphs">c</text>
<rect x="329" y="171" width="9.6" height="11.97" fill="#f8696f"/>
<text x="333.8" y="180.48" class="m" fill="#5c0c10" stroke="#5c0c10" textLength="5.8" lengthAdjust="spacingAndGlyphs">c</text>
<rect x="570.5" y="171" width="9.6" height="11.97" fill="#f8696f"/>
<text x="575.3" y="180.48" class="m" fill="#5c0c10" stroke="#5c0c10" textLength="5.8" lengthAdjust="spacingAndGlyphs">c</text>
<rect x="245" y="182.57" width="9.6" height="11.97" fill="#f8696f"/>
<text x="249.8" y="192.05" class="m" fill="#5c0c10" stroke="#5c0c10" textLength="5.8" lengthAdjust="spacingAndGlyphs">c</text>
<rect x="329" y="182.57" width="9.6" height="11.97" fill="#f8696f"/>
<text x="333.8" y="192.05" class="m" fill="#5c0c10" stroke="#5c0c10" textLength="5.8" lengthAdjust="spacingAndGlyphs">c</text>
<rect x="570.5" y="182.57" width="9.6" height="11.97" fill="#f8696f"/>
<text x="575.3" y="192.05" class="m" fill="#5c0c10" stroke="#5c0c10" textLength="5.8" lengthAdjust="spacingAndGlyphs">c</text>
<rect x="728" y="182.57" width="9.6" height="11.97" fill="#fda80c"/>
<text x="732.8" y="192.05" class="m" fill="#4a3000" stroke="#4a3000" textLength="6.4" lengthAdjust="spacingAndGlyphs">d</text>
<rect x="245" y="194.14" width="9.6" height="11.97" fill="#f8696f"/>
<text x="249.8" y="203.62" class="m" fill="#5c0c10" stroke="#5c0c10" textLength="5.8" lengthAdjust="spacingAndGlyphs">c</text>
<rect x="255.5" y="194.14" width="9.6" height="11.97" fill="#fda80c"/>
<text x="260.3" y="203.62" class="m" fill="#4a3000" stroke="#4a3000" textLength="6.4" lengthAdjust="spacingAndGlyphs">d</text>
<rect x="329" y="194.14" width="9.6" height="11.97" fill="#f8696f"/>
<text x="333.8" y="203.62" class="m" fill="#5c0c10" stroke="#5c0c10" textLength="5.8" lengthAdjust="spacingAndGlyphs">c</text>
<rect x="570.5" y="194.14" width="9.6" height="11.97" fill="#f8696f"/>
<text x="575.3" y="203.62" class="m" fill="#5c0c10" stroke="#5c0c10" textLength="5.8" lengthAdjust="spacingAndGlyphs">c</text>
<rect x="245" y="205.71" width="9.6" height="11.97" fill="#f8696f"/>
<text x="249.8" y="215.19" class="m" fill="#5c0c10" stroke="#5c0c10" textLength="5.8" lengthAdjust="spacingAndGlyphs">c</text>
<rect x="329" y="205.71" width="9.6" height="11.97" fill="#f8696f"/>
<text x="333.8" y="215.19" class="m" fill="#5c0c10" stroke="#5c0c10" textLength="5.8" lengthAdjust="spacingAndGlyphs">c</text>
<rect x="570.5" y="205.71" width="9.6" height="11.97" fill="#f8696f"/>
<text x="575.3" y="215.19" class="m" fill="#5c0c10" stroke="#5c0c10" textLength="5.8" lengthAdjust="spacingAndGlyphs">c</text>
<rect x="245" y="217.28" width="9.6" height="11.97" fill="#f8696f"/>
<text x="249.8" y="226.76" class="m" fill="#5c0c10" stroke="#5c0c10" textLength="5.8" lengthAdjust="spacingAndGlyphs">c</text>
<rect x="329" y="217.28" width="9.6" height="11.97" fill="#f8696f"/>
<text x="333.8" y="226.76" class="m" fill="#5c0c10" stroke="#5c0c10" textLength="5.8" lengthAdjust="spacingAndGlyphs">c</text>
<rect x="570.5" y="217.28" width="9.6" height="11.97" fill="#f8696f"/>
<text x="575.3" y="226.76" class="m" fill="#5c0c10" stroke="#5c0c10" textLength="5.8" lengthAdjust="spacingAndGlyphs">c</text>
<rect x="686" y="217.28" width="9.6" height="11.97" fill="#fda80c"/>
<text x="690.8" y="226.76" class="m" fill="#4a3000" stroke="#4a3000" textLength="6.4" lengthAdjust="spacingAndGlyphs">d</text>
<rect x="245" y="228.85" width="9.6" height="11.97" fill="#f8696f"/>
<text x="249.8" y="238.33" class="m" fill="#5c0c10" stroke="#5c0c10" textLength="5.8" lengthAdjust="spacingAndGlyphs">c</text>
<rect x="329" y="228.85" width="9.6" height="11.97" fill="#f8696f"/>
<text x="333.8" y="238.33" class="m" fill="#5c0c10" stroke="#5c0c10" textLength="5.8" lengthAdjust="spacingAndGlyphs">c</text>
<rect x="570.5" y="228.85" width="9.6" height="11.97" fill="#f8696f"/>
<text x="575.3" y="238.33" class="m" fill="#5c0c10" stroke="#5c0c10" textLength="5.8" lengthAdjust="spacingAndGlyphs">c</text>
<rect x="245" y="240.42" width="9.6" height="11.97" fill="#f8696f"/>
<text x="249.8" y="249.9" class="m" fill="#5c0c10" stroke="#5c0c10" textLength="5.8" lengthAdjust="spacingAndGlyphs">c</text>
<rect x="329" y="240.42" width="9.6" height="11.97" fill="#f8696f"/>
<text x="333.8" y="249.9" class="m" fill="#5c0c10" stroke="#5c0c10" textLength="5.8" lengthAdjust="spacingAndGlyphs">c</text>
<rect x="570.5" y="240.42" width="9.6" height="11.97" fill="#f8696f"/>
<text x="575.3" y="249.9" class="m" fill="#5c0c10" stroke="#5c0c10" textLength="5.8" lengthAdjust="spacingAndGlyphs">c</text>
<rect x="245" y="251.99" width="9.6" height="11.97" fill="#f8696f"/>
<text x="249.8" y="261.47" class="m" fill="#5c0c10" stroke="#5c0c10" textLength="5.8" lengthAdjust="spacingAndGlyphs">c</text>
<rect x="255.5" y="251.99" width="9.6" height="11.97" fill="#fda80c"/>
<text x="260.3" y="261.47" class="m" fill="#4a3000" stroke="#4a3000" textLength="6.4" lengthAdjust="spacingAndGlyphs">d</text>
<rect x="329" y="251.99" width="9.6" height="11.97" fill="#f8696f"/>
<text x="333.8" y="261.47" class="m" fill="#5c0c10" stroke="#5c0c10" textLength="5.8" lengthAdjust="spacingAndGlyphs">c</text>
<rect x="570.5" y="251.99" width="9.6" height="11.97" fill="#f8696f"/>
<text x="575.3" y="261.47" class="m" fill="#5c0c10" stroke="#5c0c10" textLength="5.8" lengthAdjust="spacingAndGlyphs">c</text>
<rect x="245" y="263.56" width="9.6" height="11.97" fill="#f8696f"/>
<text x="249.8" y="273.04" class="m" fill="#5c0c10" stroke="#5c0c10" textLength="5.8" lengthAdjust="spacingAndGlyphs">c</text>
<rect x="329" y="263.56" width="9.6" height="11.97" fill="#f8696f"/>
<text x="333.8" y="273.04" class="m" fill="#5c0c10" stroke="#5c0c10" textLength="5.8" lengthAdjust="spacingAndGlyphs">c</text>
<rect x="570.5" y="263.56" width="9.6" height="11.97" fill="#f8696f"/>
<text x="575.3" y="273.04" class="m" fill="#5c0c10" stroke="#5c0c10" textLength="5.8" lengthAdjust="spacingAndGlyphs">c</text>
<rect x="245" y="275.12" width="9.6" height="11.97" fill="#f8696f"/>
<text x="249.8" y="284.61" class="m" fill="#5c0c10" stroke="#5c0c10" textLength="5.8" lengthAdjust="spacingAndGlyphs">c</text>
<rect x="329" y="275.12" width="9.6" height="11.97" fill="#f8696f"/>
<text x="333.8" y="284.61" class="m" fill="#5c0c10" stroke="#5c0c10" textLength="5.8" lengthAdjust="spacingAndGlyphs">c</text>
<rect x="728" y="275.12" width="9.6" height="11.97" fill="#fda80c"/>
<text x="732.8" y="284.61" class="m" fill="#4a3000" stroke="#4a3000" textLength="6.4" lengthAdjust="spacingAndGlyphs">d</text>
<rect x="791" y="275.12" width="9.6" height="11.97" fill="#f8696f"/>
<text x="795.8" y="284.61" class="m" fill="#5c0c10" stroke="#5c0c10" textLength="5.8" lengthAdjust="spacingAndGlyphs">c</text>
<rect x="329" y="286.69" width="9.6" height="11.97" fill="#f8696f"/>
<text x="333.8" y="296.18" class="m" fill="#5c0c10" stroke="#5c0c10" textLength="5.8" lengthAdjust="spacingAndGlyphs">c</text>
<rect x="329" y="298.26" width="9.6" height="11.97" fill="#f8696f"/>
<text x="333.8" y="307.75" class="m" fill="#5c0c10" stroke="#5c0c10" textLength="5.8" lengthAdjust="spacingAndGlyphs">c</text>
<rect x="686" y="298.26" width="9.6" height="11.97" fill="#fda80c"/>
<text x="690.8" y="307.75" class="m" fill="#4a3000" stroke="#4a3000" textLength="6.4" lengthAdjust="spacingAndGlyphs">d</text>
<rect x="686" y="309.83" width="9.6" height="11.97" fill="#fda80c"/>
<text x="690.8" y="319.32" class="m" fill="#4a3000" stroke="#4a3000" textLength="6.4" lengthAdjust="spacingAndGlyphs">d</text>
<rect x="791" y="309.83" width="9.6" height="11.97" fill="#f8696f"/>
<text x="795.8" y="319.32" class="m" fill="#5c0c10" stroke="#5c0c10" textLength="5.8" lengthAdjust="spacingAndGlyphs">c</text>
<rect x="791" y="321.4" width="9.6" height="11.97" fill="#f8696f"/>
<text x="795.8" y="330.89" class="m" fill="#5c0c10" stroke="#5c0c10" textLength="5.8" lengthAdjust="spacingAndGlyphs">c</text>
<rect x="728" y="332.98" width="9.6" height="11.97" fill="#fda80c"/>
<text x="732.8" y="342.46" class="m" fill="#4a3000" stroke="#4a3000" textLength="6.4" lengthAdjust="spacingAndGlyphs">d</text>
<rect x="791" y="332.98" width="9.6" height="11.97" fill="#f8696f"/>
<text x="795.8" y="342.46" class="m" fill="#5c0c10" stroke="#5c0c10" textLength="5.8" lengthAdjust="spacingAndGlyphs">c</text>
<rect x="686" y="344.55" width="9.6" height="11.97" fill="#fda80c"/>
<text x="690.8" y="354.03" class="m" fill="#4a3000" stroke="#4a3000" textLength="6.4" lengthAdjust="spacingAndGlyphs">d</text>
<rect x="728" y="344.55" width="9.6" height="11.97" fill="#fda80c"/>
<text x="732.8" y="354.03" class="m" fill="#4a3000" stroke="#4a3000" textLength="6.4" lengthAdjust="spacingAndGlyphs">d</text>
<rect x="791" y="344.55" width="9.6" height="11.97" fill="#f8696f"/>
<text x="795.8" y="354.03" class="m" fill="#5c0c10" stroke="#5c0c10" textLength="5.8" lengthAdjust="spacingAndGlyphs">c</text>
<rect x="686" y="367.69" width="9.6" height="11.97" fill="#fda80c"/>
<text x="690.8" y="377.17" class="m" fill="#4a3000" stroke="#4a3000" textLength="6.4" lengthAdjust="spacingAndGlyphs">d</text>
<rect x="654.5" y="379.25" width="9.6" height="11.97" fill="#fda80c"/>
<text x="659.3" y="388.74" class="m" fill="#4a3000" stroke="#4a3000" textLength="6.4" lengthAdjust="spacingAndGlyphs">d</text>
<rect x="686" y="379.25" width="9.6" height="11.97" fill="#fda80c"/>
<text x="690.8" y="388.74" class="m" fill="#4a3000" stroke="#4a3000" textLength="6.4" lengthAdjust="spacingAndGlyphs">d</text>
<rect x="728" y="390.82" width="9.6" height="11.97" fill="#fda80c"/>
<text x="732.8" y="400.31" class="m" fill="#4a3000" stroke="#4a3000" textLength="6.4" lengthAdjust="spacingAndGlyphs">d</text>
<rect x="791" y="390.82" width="9.6" height="11.97" fill="#f8696f"/>
<text x="795.8" y="400.31" class="m" fill="#5c0c10" stroke="#5c0c10" textLength="5.8" lengthAdjust="spacingAndGlyphs">c</text>
<rect x="686" y="413.96" width="9.6" height="11.97" fill="#fda80c"/>
<text x="690.8" y="423.45" class="m" fill="#4a3000" stroke="#4a3000" textLength="6.4" lengthAdjust="spacingAndGlyphs">d</text>
<rect x="654.5" y="437.11" width="9.6" height="11.97" fill="#fda80c"/>
<text x="659.3" y="446.59" class="m" fill="#4a3000" stroke="#4a3000" textLength="6.4" lengthAdjust="spacingAndGlyphs">d</text>
<rect x="791" y="448.68" width="9.6" height="11.97" fill="#f8696f"/>
<text x="795.8" y="458.16" class="m" fill="#5c0c10" stroke="#5c0c10" textLength="5.8" lengthAdjust="spacingAndGlyphs">c</text>
<rect x="686" y="471.81" width="9.6" height="11.97" fill="#fda80c"/>
<text x="690.8" y="481.3" class="m" fill="#4a3000" stroke="#4a3000" textLength="6.4" lengthAdjust="spacingAndGlyphs">d</text>
</g>
<text x="37.5" y="1926.7" class="ti" textLength="306" lengthAdjust="spacingAndGlyphs">sp|P00628|PA2BV_BUNFA</text>
<g transform="translate(0 1980.5)">
<rect x="255.4" y="-9.2" width="724.5" height="16.7" fill="#d3d3d3"/>
<text x="47" y="4.2" class="n" text-anchor="end">1</text>
<text x="66.4" y="4.4" class="s" textLength="105" lengthAdjust="spacingAndGlyphs">AVCVSLLGAA</text>
<text x="181.9" y="4.4" class="s" textLength="73.5" lengthAdjust="spacingAndGlyphs">NIPPQPL</text>
<text x="255.4" y="4.4" class="sb" textLength="31.5" lengthAdjust="spacingAndGlyphs">NLL</text>
<text x="297.4" y="4.4" class="sb" textLength="105" lengthAdjust="spacingAndGlyphs">QFKNMIQCAG</text>
<text x="412.9" y="4.4" class="sb" textLength="105" lengthAdjust="spacingAndGlyphs">SRLWVAYVKY</text>
<text x="528.4" y="4.4" class="sb" textLength="105" lengthAdjust="spacingAndGlyphs">GCYCGPGGTG</text>
<text x="643.9" y="4.4" class="sb" textLength="105" lengthAdjust="spacingAndGlyphs">TPLDQLDRCC</text>
<text x="759.4" y="4.4" class="sb" textLength="105" lengthAdjust="spacingAndGlyphs">QTHDHCYDNA</text>
<text x="874.9" y="4.4" class="sb" textLength="105" lengthAdjust="spacingAndGlyphs">KKFGNCIPYF</text>
<rect x="329" y="-20.9" width="9.6" height="11.9" fill="#fda80c"/>
<text x="333.8" y="-11.45" class="m" fill="#4a3000" stroke="#4a3000" textLength="6.4" lengthAdjust="spacingAndGlyphs">d</text>
<text x="333.8" y="-22.2" class="t" textLength="9" lengthAdjust="spacingAndGlyphs">24</text>
<rect x="339.5" y="-20.9" width="9.6" height="11.9" fill="#a0a2fa"/>
<text x="344.3" y="-11.45" class="m" fill="#23277a" stroke="#23277a" textLength="6.4" lengthAdjust="spacingAndGlyphs">o</text>
<text x="344.3" y="-22.2" class="t" textLength="9" lengthAdjust="spacingAndGlyphs">25</text>
<rect x="360.5" y="-20.9" width="9.6" height="11.9" fill="#fda80c"/>
<text x="365.3" y="-11.45" class="m" fill="#4a3000" stroke="#4a3000" textLength="6.4" lengthAdjust="spacingAndGlyphs">d</text>
<text x="365.3" y="-22.2" class="t" textLength="9" lengthAdjust="spacingAndGlyphs">27</text>
<rect x="371" y="-20.9" width="9.6" height="11.9" fill="#f8696f"/>
<text x="375.8" y="-11.45" class="m" fill="#5c0c10" stroke="#5c0c10" textLength="5.8" lengthAdjust="spacingAndGlyphs">c</text>
<text x="375.8" y="-22.2" class="t" textLength="9" lengthAdjust="spacingAndGlyphs">28</text>
<rect x="539" y="-20.9" width="9.6" height="11.9" fill="#f8696f"/>
<text x="543.8" y="-11.45" class="m" fill="#5c0c10" stroke="#5c0c10" textLength="5.8" lengthAdjust="spacingAndGlyphs">c</text>
<text x="543.8" y="-22.2" class="t" textLength="9" lengthAdjust="spacingAndGlyphs">42</text>
<rect x="560" y="-20.9" width="9.6" height="11.9" fill="#f8696f"/>
<text x="564.8" y="-11.45" class="m" fill="#5c0c10" stroke="#5c0c10" textLength="5.8" lengthAdjust="spacingAndGlyphs">c</text>
<text x="564.8" y="-22.2" class="t" textLength="9" lengthAdjust="spacingAndGlyphs">44</text>
<rect x="686" y="-20.9" width="9.6" height="11.9" fill="#fda80c"/>
<text x="690.8" y="-11.45" class="m" fill="#4a3000" stroke="#4a3000" textLength="6.4" lengthAdjust="spacingAndGlyphs">d</text>
<text x="690.8" y="-22.2" class="t" textLength="9" lengthAdjust="spacingAndGlyphs">55</text>
<rect x="728" y="-20.9" width="9.6" height="11.9" fill="#f8696f"/>
<text x="732.8" y="-11.45" class="m" fill="#5c0c10" stroke="#5c0c10" textLength="5.8" lengthAdjust="spacingAndGlyphs">c</text>
<text x="732.8" y="-22.2" class="t" textLength="9" lengthAdjust="spacingAndGlyphs">59</text>
<rect x="738.5" y="-20.9" width="9.6" height="11.9" fill="#f8696f"/>
<text x="743.3" y="-11.45" class="m" fill="#5c0c10" stroke="#5c0c10" textLength="5.8" lengthAdjust="spacingAndGlyphs">c</text>
<text x="743.3" y="-22.2" class="t" textLength="9" lengthAdjust="spacingAndGlyphs">60</text>
<rect x="812" y="-20.9" width="9.6" height="11.9" fill="#f8696f"/>
<text x="816.8" y="-11.45" class="m" fill="#5c0c10" stroke="#5c0c10" textLength="5.8" lengthAdjust="spacingAndGlyphs">c</text>
<text x="816.8" y="-22.2" class="t" textLength="9" lengthAdjust="spacingAndGlyphs">66</text>
<rect x="917" y="-20.9" width="9.6" height="11.9" fill="#fda80c"/>
<text x="921.8" y="-11.45" class="m" fill="#4a3000" stroke="#4a3000" textLength="6.4" lengthAdjust="spacingAndGlyphs">d</text>
<text x="921.8" y="-22.2" class="t" textLength="9" lengthAdjust="spacingAndGlyphs">75</text>
<rect x="927.5" y="-20.9" width="9.6" height="11.9" fill="#f8696f"/>
<text x="932.3" y="-11.45" class="m" fill="#5c0c10" stroke="#5c0c10" textLength="5.8" lengthAdjust="spacingAndGlyphs">c</text>
<text x="932.3" y="-22.2" class="t" textLength="9" lengthAdjust="spacingAndGlyphs">76</text>
<path d="M255.4 15H433.9M433.9 15H507.4M507.4 15H895.9M895.9 15H979.9M255.4 26.57H433.9M433.9 26.57H885.4M885.4 26.57H979.9M255.4 38.14H433.9M486.4 38.14H979.9M328.9 49.71H433.9M507.4 49.71H885.4M885.4 49.71H979.9M328.9 61.28H433.9M528.4 61.28H979.9M328.9 72.85H433.9M538.9 72.85H727.9M874.9 72.85H979.9M328.9 84.42H433.9M549.4 84.42H727.9M895.9 84.42H979.9M328.9 95.99H507.4M559.9 95.99H727.9M916.9 95.99H979.9M328.9 107.56H507.4M570.4 107.56H727.9M916.9 107.56H979.9M328.9 119.13H727.9M958.9 119.13H979.9M328.9 130.7H727.9M328.9 142.27H727.9M328.9 153.84H727.9M328.9 165.41H727.9M339.4 176.98H727.9M370.9 188.55H507.4M580.9 188.55H727.9M381.4 200.12H727.9M391.9 211.69H727.9M412.9 223.26H727.9M591.4 234.83H727.9M612.4 246.4H727.9M622.9 257.97H727.9" stroke="#3690f8" stroke-width="3.6" fill="none"/>
<path d="M255.4 11.5v7M433.9 11.5v7M433.9 11.5v7M507.4 11.5v7M507.4 11.5v7M895.9 11.5v7M895.9 11.5v7M255.4 23.07v7M433.9 23.07v7M433.9 23.07v7M885.4 23.07v7M885.4 23.07v7M255.4 34.64v7M433.9 34.64v7M486.4 34.64v7M328.9 46.21v7M433.9 46.21v7M507.4 46.21v7M885.4 46.21v7M885.4 46.21v7M328.9 57.78v7M433.9 57.78v7M528.4 57.78v7M328.9 69.35v7M433.9 69.35v7M727.9 69.35v7M874.9 69.35v7M433.9 80.92v7M549.4 80.92v7M727.9 80.92v7M895.9 80.92v7M328.9 92.49v7M507.4 92.49v7M727.9 92.49v7M916.9 92.49v7M328.9 104.06v7M507.4 104.06v7M570.4 104.06v7M727.9 104.06v7M328.9 115.63v7M727.9 115.63v7M958.9 115.63v7M727.9 127.2v7M328.9 138.77v7M727.9 138.77v7M328.9 150.34v7M727.9 150.34v7M727.9 161.91v7M727.9 173.48v7M507.4 185.05v7M580.9 185.05v7M727.9 185.05v7M381.4 196.62v7M727.9 196.62v7M391.9 208.19v7M727.9 208.19v7M412.9 219.76v7M727.9 219.76v7M591.4 231.33v7M727.9 231.33v7M612.4 242.9v7M727.9 242.9v7M622.9 254.47v7M727.9 254.47v7" stroke="#3690f8" stroke-width="1.25" fill="none"/>
<rect x="371" y="9.02" width="9.6" height="11.97" fill="#f8696f"/>
<text x="375.8" y="18.5" class="m" fill="#5c0c10" stroke="#5c0c10" textLength="5.8" lengthAdjust="spacingAndGlyphs">c</text>
<rect x="539" y="9.02" width="9.6" height="11.97" fill="#f8696f"/>
<text x="543.8" y="18.5" class="m" fill="#5c0c10" stroke="#5c0c10" textLength="5.8" lengthAdjust="spacingAndGlyphs">c</text>
<rect x="560" y="9.02" width="9.6" height="11.97" fill="#f8696f"/>
<text x="564.8" y="18.5" class="m" fill="#5c0c10" stroke="#5c0c10" textLength="5.8" lengthAdjust="spacingAndGlyphs">c</text>
<rect x="728" y="9.02" width="9.6" height="11.97" fill="#f8696f"/>
<text x="732.8" y="18.5" class="m" fill="#5c0c10" stroke="#5c0c10" textLength="5.8" lengthAdjust="spacingAndGlyphs">c</text>
<rect x="738.5" y="9.02" width="9.6" height="11.97" fill="#f8696f"/>
<text x="743.3" y="18.5" class="m" fill="#5c0c10" stroke="#5c0c10" textLength="5.8" lengthAdjust="spacingAndGlyphs">c</text>
<rect x="812" y="9.02" width="9.6" height="11.97" fill="#f8696f"/>
<text x="816.8" y="18.5" class="m" fill="#5c0c10" stroke="#5c0c10" textLength="5.8" lengthAdjust="spacingAndGlyphs">c</text>
<rect x="927.5" y="9.02" width="9.6" height="11.97" fill="#f8696f"/>
<text x="932.3" y="18.5" class="m" fill="#5c0c10" stroke="#5c0c10" textLength="5.8" lengthAdjust="spacingAndGlyphs">c</text>
<rect x="329" y="20.59" width="9.6" height="11.97" fill="#fda80c"/>
<text x="333.8" y="30.07" class="m" fill="#4a3000" stroke="#4a3000" textLength="6.4" lengthAdjust="spacingAndGlyphs">d</text>
<rect x="339.5" y="20.59" width="9.6" height="11.97" fill="#a0a2fa"/>
<text x="344.3" y="30.07" class="m" fill="#23277a" stroke="#23277a" textLength="6.4" lengthAdjust="spacingAndGlyphs">o</text>
<rect x="371" y="20.59" width="9.6" height="11.97" fill="#f8696f"/>
<text x="375.8" y="30.07" class="m" fill="#5c0c10" stroke="#5c0c10" textLength="5.8" lengthAdjust="spacingAndGlyphs">c</text>
<rect x="539" y="20.59" width="9.6" height="11.97" fill="#f8696f"/>
<text x="543.8" y="30.07" class="m" fill="#5c0c10" stroke="#5c0c10" textLength="5.8" lengthAdjust="spacingAndGlyphs">c</text>
<rect x="560" y="20.59" width="9.6" height="11.97" fill="#f8696f"/>
<text x="564.8" y="30.07" class="m" fill="#5c0c10" stroke="#5c0c10" textLength="5.8" lengthAdjust="spacingAndGlyphs">c</text>
<rect x="728" y="20.59" width="9.6" height="11.97" fill="#f8696f"/>
<text x="732.8" y="30.07" class="m" fill="#5c0c10" stroke="#5c0c10" textLength="5.8" lengthAdjust="spacingAndGlyphs">c</text>
<rect x="738.5" y="20.59" width="9.6" height="11.97" fill="#f8696f"/>
<text x="743.3" y="30.07" class="m" fill="#5c0c10" stroke="#5c0c10" textLength="5.8" lengthAdjust="spacingAndGlyphs">c</text>
<rect x="812" y="20.59" width="9.6" height="11.97" fill="#f8696f"/>
<text x="816.8" y="30.07" class="m" fill="#5c0c10" stroke="#5c0c10" textLength="5.8" lengthAdjust="spacingAndGlyphs">c</text>
<rect x="927.5" y="20.59" width="9.6" height="11.97" fill="#f8696f"/>
<text x="932.3" y="30.07" class="m" fill="#5c0c10" stroke="#5c0c10" textLength="5.8" lengthAdjust="spacingAndGlyphs">c</text>
<rect x="329" y="32.16" width="9.6" height="11.97" fill="#fda80c"/>
<text x="333.8" y="41.64" class="m" fill="#4a3000" stroke="#4a3000" textLength="6.4" lengthAdjust="spacingAndGlyphs">d</text>
<rect x="371" y="32.16" width="9.6" height="11.97" fill="#f8696f"/>
<text x="375.8" y="41.64" class="m" fill="#5c0c10" stroke="#5c0c10" textLength="5.8" lengthAdjust="spacingAndGlyphs">c</text>
<rect x="539" y="32.16" width="9.6" height="11.97" fill="#f8696f"/>
<text x="543.8" y="41.64" class="m" fill="#5c0c10" stroke="#5c0c10" textLength="5.8" lengthAdjust="spacingAndGlyphs">c</text>
<rect x="560" y="32.16" width="9.6" height="11.97" fill="#f8696f"/>
<text x="564.8" y="41.64" class="m" fill="#5c0c10" stroke="#5c0c10" textLength="5.8" lengthAdjust="spacingAndGlyphs">c</text>
<rect x="728" y="32.16" width="9.6" height="11.97" fill="#f8696f"/>
<text x="732.8" y="41.64" class="m" fill="#5c0c10" stroke="#5c0c10" textLength="5.8" lengthAdjust="spacingAndGlyphs">c</text>
<rect x="738.5" y="32.16" width="9.6" height="11.97" fill="#f8696f"/>
<text x="743.3" y="41.64" class="m" fill="#5c0c10" stroke="#5c0c10" textLength="5.8" lengthAdjust="spacingAndGlyphs">c</text>
<rect x="812" y="32.16" width="9.6" height="11.97" fill="#f8696f"/>
<text x="816.8" y="41.64" class="m" fill="#5c0c10" stroke="#5c0c10" textLength="5.8" lengthAdjust="spacingAndGlyphs">c</text>
<rect x="843.5" y="32.16" width="9.6" height="11.97" fill="#fda80c"/>
<text x="848.3" y="41.64" class="m" fill="#4a3000" stroke="#4a3000" textLength="6.4" lengthAdjust="spacingAndGlyphs">d</text>
<rect x="927.5" y="32.16" width="9.6" height="11.97" fill="#f8696f"/>
<text x="932.3" y="41.64" class="m" fill="#5c0c10" stroke="#5c0c10" textLength="5.8" lengthAdjust="spacingAndGlyphs">c</text>
<rect x="339.5" y="43.72" width="9.6" height="11.97" fill="#a0a2fa"/>
<text x="344.3" y="53.21" class="m" fill="#23277a" stroke="#23277a" textLength="6.4" lengthAdjust="spacingAndGlyphs">o</text>
<rect x="371" y="43.72" width="9.6" height="11.97" fill="#f8696f"/>
<text x="375.8" y="53.21" class="m" fill="#5c0c10" stroke="#5c0c10" textLength="5.8" lengthAdjust="spacingAndGlyphs">c</text>
<rect x="539" y="43.72" width="9.6" height="11.97" fill="#f8696f"/>
<text x="543.8" y="53.21" class="m" fill="#5c0c10" stroke="#5c0c10" textLength="5.8" lengthAdjust="spacingAndGlyphs">c</text>
<rect x="560" y="43.72" width="9.6" height="11.97" fill="#f8696f"/>
<text x="564.8" y="53.21" class="m" fill="#5c0c10" stroke="#5c0c10" textLength="5.8" lengthAdjust="spacingAndGlyphs">c</text>
<rect x="728" y="43.72" width="9.6" height="11.97" fill="#f8696f"/>
<text x="732.8" y="53.21" class="m" fill="#5c0c10" stroke="#5c0c10" textLength="5.8" lengthAdjust="spacingAndGlyphs">c</text>
<rect x="738.5" y="43.72" width="9.6" height="11.97" fill="#f8696f"/>
<text x="743.3" y="53.21" class="m" fill="#5c0c10" stroke="#5c0c10" textLength="5.8" lengthAdjust="spacingAndGlyphs">c</text>
<rect x="812" y="43.72" width="9.6" height="11.97" fill="#f8696f"/>
<text x="816.8" y="53.21" class="m" fill="#5c0c10" stroke="#5c0c10" textLength="5.8" lengthAdjust="spacingAndGlyphs">c</text>
<rect x="917" y="43.72" width="9.6" height="11.97" fill="#fda80c"/>
<text x="921.8" y="53.21" class="m" fill="#4a3000" stroke="#4a3000" textLength="6.4" lengthAdjust="spacingAndGlyphs">d</text>
<rect x="927.5" y="43.72" width="9.6" height="11.97" fill="#f8696f"/>
<text x="932.3" y="53.21" class="m" fill="#5c0c10" stroke="#5c0c10" textLength="5.8" lengthAdjust="spacingAndGlyphs">c</text>
<rect x="371" y="55.3" width="9.6" height="11.97" fill="#f8696f"/>
<text x="375.8" y="64.78" class="m" fill="#5c0c10" stroke="#5c0c10" textLength="5.8" lengthAdjust="spacingAndGlyphs">c</text>
<rect x="539" y="55.3" width="9.6" height="11.97" fill="#f8696f"/>
<text x="543.8" y="64.78" class="m" fill="#5c0c10" stroke="#5c0c10" textLength="5.8" lengthAdjust="spacingAndGlyphs">c</text>
<rect x="560" y="55.3" width="9.6" height="11.97" fill="#f8696f"/>
<text x="564.8" y="64.78" class="m" fill="#5c0c10" stroke="#5c0c10" textLength="5.8" lengthAdjust="spacingAndGlyphs">c</text>
<rect x="728" y="55.3" width="9.6" height="11.97" fill="#f8696f"/>
<text x="732.8" y="64.78" class="m" fill="#5c0c10" stroke="#5c0c10" textLength="5.8" lengthAdjust="spacingAndGlyphs">c</text>
<rect x="738.5" y="55.3" width="9.6" height="11.97" fill="#f8696f"/>
<text x="743.3" y="64.78" class="m" fill="#5c0c10" stroke="#5c0c10" textLength="5.8" lengthAdjust="spacingAndGlyphs">c</text>
<rect x="812" y="55.3" width="9.6" height="11.97" fill="#f8696f"/>
<text x="816.8" y="64.78" class="m" fill="#5c0c10" stroke="#5c0c10" textLength="5.8" lengthAdjust="spacingAndGlyphs">c</text>
<rect x="927.5" y="55.3" width="9.6" height="11.97" fill="#f8696f"/>
<text x="932.3" y="64.78" class="m" fill="#5c0c10" stroke="#5c0c10" textLength="5.8" lengthAdjust="spacingAndGlyphs">c</text>
<rect x="360.5" y="66.86" width="9.6" height="11.97" fill="#fda80c"/>
<text x="365.3" y="76.35" class="m" fill="#4a3000" stroke="#4a3000" textLength="6.4" lengthAdjust="spacingAndGlyphs">d</text>
<rect x="371" y="66.86" width="9.6" height="11.97" fill="#f8696f"/>
<text x="375.8" y="76.35" class="m" fill="#5c0c10" stroke="#5c0c10" textLength="5.8" lengthAdjust="spacingAndGlyphs">c</text>
<rect x="539" y="66.86" width="9.6" height="11.97" fill="#f8696f"/>
<text x="543.8" y="76.35" class="m" fill="#5c0c10" stroke="#5c0c10" textLength="5.8" lengthAdjust="spacingAndGlyphs">c</text>
<rect x="560" y="66.86" width="9.6" height="11.97" fill="#f8696f"/>
<text x="564.8" y="76.35" class="m" fill="#5c0c10" stroke="#5c0c10" textLength="5.8" lengthAdjust="spacingAndGlyphs">c</text>
<rect x="927.5" y="66.86" width="9.6" height="11.97" fill="#f8696f"/>
<text x="932.3" y="76.35" class="m" fill="#5c0c10" stroke="#5c0c10" textLength="5.8" lengthAdjust="spacingAndGlyphs">c</text>
<rect x="329" y="78.44" width="9.6" height="11.97" fill="#fda80c"/>
<text x="333.8" y="87.92" class="m" fill="#4a3000" stroke="#4a3000" textLength="6.4" lengthAdjust="spacingAndGlyphs">d</text>
<rect x="371" y="78.44" width="9.6" height="11.97" fill="#f8696f"/>
<text x="375.8" y="87.92" class="m" fill="#5c0c10" stroke="#5c0c10" textLength="5.8" lengthAdjust="spacingAndGlyphs">c</text>
<rect x="560" y="78.44" width="9.6" height="11.97" fill="#f8696f"/>
<text x="564.8" y="87.92" class="m" fill="#5c0c10" stroke="#5c0c10" textLength="5.8" lengthAdjust="spacingAndGlyphs">c</text>
<rect x="917" y="78.44" width="9.6" height="11.97" fill="#fda80c"/>
<text x="921.8" y="87.92" class="m" fill="#4a3000" stroke="#4a3000" textLength="6.4" lengthAdjust="spacingAndGlyphs">d</text>
<rect x="927.5" y="78.44" width="9.6" height="11.97" fill="#f8696f"/>
<text x="932.3" y="87.92" class="m" fill="#5c0c10" stroke="#5c0c10" textLength="5.8" lengthAdjust="spacingAndGlyphs">c</text>
<rect x="339.5" y="90.01" width="9.6" height="11.97" fill="#a0a2fa"/>
<text x="344.3" y="99.49" class="m" fill="#23277a" stroke="#23277a" textLength="6.4" lengthAdjust="spacingAndGlyphs">o</text>
<rect x="371" y="90.01" width="9.6" height="11.97" fill="#f8696f"/>
<text x="375.8" y="99.49" class="m" fill="#5c0c10" stroke="#5c0c10" textLength="5.8" lengthAdjust="spacingAndGlyphs">c</text>
<rect x="560" y="90.01" width="9.6" height="11.97" fill="#f8696f"/>
<text x="564.8" y="99.49" class="m" fill="#5c0c10" stroke="#5c0c10" textLength="5.8" lengthAdjust="spacingAndGlyphs">c</text>
<rect x="927.5" y="90.01" width="9.6" height="11.97" fill="#f8696f"/>
<text x="932.3" y="99.49" class="m" fill="#5c0c10" stroke="#5c0c10" textLength="5.8" lengthAdjust="spacingAndGlyphs">c</text>
<rect x="371" y="101.58" width="9.6" height="11.97" fill="#f8696f"/>
<text x="375.8" y="111.06" class="m" fill="#5c0c10" stroke="#5c0c10" textLength="5.8" lengthAdjust="spacingAndGlyphs">c</text>
<rect x="917" y="101.58" width="9.6" height="11.97" fill="#fda80c"/>
<text x="921.8" y="111.06" class="m" fill="#4a3000" stroke="#4a3000" textLength="6.4" lengthAdjust="spacingAndGlyphs">d</text>
<rect x="927.5" y="101.58" width="9.6" height="11.97" fill="#f8696f"/>
<text x="932.3" y="111.06" class="m" fill="#5c0c10" stroke="#5c0c10" textLength="5.8" lengthAdjust="spacingAndGlyphs">c</text>
<rect x="339.5" y="113.14" width="9.6" height="11.97" fill="#a0a2fa"/>
<text x="344.3" y="122.63" class="m" fill="#23277a" stroke="#23277a" textLength="6.4" lengthAdjust="spacingAndGlyphs">o</text>
<rect x="371" y="113.14" width="9.6" height="11.97" fill="#f8696f"/>
<text x="375.8" y="122.63" class="m" fill="#5c0c10" stroke="#5c0c10" textLength="5.8" lengthAdjust="spacingAndGlyphs">c</text>
<rect x="539" y="113.14" width="9.6" height="11.97" fill="#f8696f"/>
<text x="543.8" y="122.63" class="m" fill="#5c0c10" stroke="#5c0c10" textLength="5.8" lengthAdjust="spacingAndGlyphs">c</text>
<rect x="560" y="113.14" width="9.6" height="11.97" fill="#f8696f"/>
<text x="564.8" y="122.63" class="m" fill="#5c0c10" stroke="#5c0c10" textLength="5.8" lengthAdjust="spacingAndGlyphs">c</text>
<rect x="329" y="124.71" width="9.6" height="11.97" fill="#fda80c"/>
<text x="333.8" y="134.2" class="m" fill="#4a3000" stroke="#4a3000" textLength="6.4" lengthAdjust="spacingAndGlyphs">d</text>
<rect x="339.5" y="124.71" width="9.6" height="11.97" fill="#a0a2fa"/>
<text x="344.3" y="134.2" class="m" fill="#23277a" stroke="#23277a" textLength="6.4" lengthAdjust="spacingAndGlyphs">o</text>
<rect x="371" y="124.71" width="9.6" height="11.97" fill="#f8696f"/>
<text x="375.8" y="134.2" class="m" fill="#5c0c10" stroke="#5c0c10" textLength="5.8" lengthAdjust="spacingAndGlyphs">c</text>
<rect x="539" y="124.71" width="9.6" height="11.97" fill="#f8696f"/>
<text x="543.8" y="134.2" class="m" fill="#5c0c10" stroke="#5c0c10" textLength="5.8" lengthAdjust="spacingAndGlyphs">c</text>
<rect x="560" y="124.71" width="9.6" height="11.97" fill="#f8696f"/>
<text x="564.8" y="134.2" class="m" fill="#5c0c10" stroke="#5c0c10" textLength="5.8" lengthAdjust="spacingAndGlyphs">c</text>
<rect x="371" y="136.29" width="9.6" height="11.97" fill="#f8696f"/>
<text x="375.8" y="145.77" class="m" fill="#5c0c10" stroke="#5c0c10" textLength="5.8" lengthAdjust="spacingAndGlyphs">c</text>
<rect x="539" y="136.29" width="9.6" height="11.97" fill="#f8696f"/>
<text x="543.8" y="145.77" class="m" fill="#5c0c10" stroke="#5c0c10" textLength="5.8" lengthAdjust="spacingAndGlyphs">c</text>
<rect x="560" y="136.29" width="9.6" height="11.97" fill="#f8696f"/>
<text x="564.8" y="145.77" class="m" fill="#5c0c10" stroke="#5c0c10" textLength="5.8" lengthAdjust="spacingAndGlyphs">c</text>
<rect x="371" y="147.86" width="9.6" height="11.97" fill="#f8696f"/>
<text x="375.8" y="157.34" class="m" fill="#5c0c10" stroke="#5c0c10" textLength="5.8" lengthAdjust="spacingAndGlyphs">c</text>
<rect x="539" y="147.86" width="9.6" height="11.97" fill="#f8696f"/>
<text x="543.8" y="157.34" class="m" fill="#5c0c10" stroke="#5c0c10" textLength="5.8" lengthAdjust="spacingAndGlyphs">c</text>
<rect x="560" y="147.86" width="9.6" height="11.97" fill="#f8696f"/>
<text x="564.8" y="157.34" class="m" fill="#5c0c10" stroke="#5c0c10" textLength="5.8" lengthAdjust="spacingAndGlyphs">c</text>
<rect x="686" y="147.86" width="9.6" height="11.97" fill="#fda80c"/>
<text x="690.8" y="157.34" class="m" fill="#4a3000" stroke="#4a3000" textLength="6.4" lengthAdjust="spacingAndGlyphs">d</text>
<rect x="329" y="159.43" width="9.6" height="11.97" fill="#fda80c"/>
<text x="333.8" y="168.91" class="m" fill="#4a3000" stroke="#4a3000" textLength="6.4" lengthAdjust="spacingAndGlyphs">d</text>
<rect x="371" y="159.43" width="9.6" height="11.97" fill="#f8696f"/>
<text x="375.8" y="168.91" class="m" fill="#5c0c10" stroke="#5c0c10" textLength="5.8" lengthAdjust="spacingAndGlyphs">c</text>
<rect x="539" y="159.43" width="9.6" height="11.97" fill="#f8696f"/>
<text x="543.8" y="168.91" class="m" fill="#5c0c10" stroke="#5c0c10" textLength="5.8" lengthAdjust="spacingAndGlyphs">c</text>
<rect x="560" y="159.43" width="9.6" height="11.97" fill="#f8696f"/>
<text x="564.8" y="168.91" class="m" fill="#5c0c10" stroke="#5c0c10" textLength="5.8" lengthAdjust="spacingAndGlyphs">c</text>
<rect x="339.5" y="171" width="9.6" height="11.97" fill="#a0a2fa"/>
<text x="344.3" y="180.48" class="m" fill="#23277a" stroke="#23277a" textLength="6.4" lengthAdjust="spacingAndGlyphs">o</text>
<rect x="371" y="171" width="9.6" height="11.97" fill="#f8696f"/>
<text x="375.8" y="180.48" class="m" fill="#5c0c10" stroke="#5c0c10" textLength="5.8" lengthAdjust="spacingAndGlyphs">c</text>
<rect x="539" y="171" width="9.6" height="11.97" fill="#f8696f"/>
<text x="543.8" y="180.48" class="m" fill="#5c0c10" stroke="#5c0c10" textLength="5.8" lengthAdjust="spacingAndGlyphs">c</text>
<rect x="560" y="171" width="9.6" height="11.97" fill="#f8696f"/>
<text x="564.8" y="180.48" class="m" fill="#5c0c10" stroke="#5c0c10" textLength="5.8" lengthAdjust="spacingAndGlyphs">c</text>
<rect x="371" y="182.57" width="9.6" height="11.97" fill="#f8696f"/>
<text x="375.8" y="192.05" class="m" fill="#5c0c10" stroke="#5c0c10" textLength="5.8" lengthAdjust="spacingAndGlyphs">c</text>
<rect x="539" y="194.14" width="9.6" height="11.97" fill="#f8696f"/>
<text x="543.8" y="203.62" class="m" fill="#5c0c10" stroke="#5c0c10" textLength="5.8" lengthAdjust="spacingAndGlyphs">c</text>
<rect x="560" y="194.14" width="9.6" height="11.97" fill="#f8696f"/>
<text x="564.8" y="203.62" class="m" fill="#5c0c10" stroke="#5c0c10" textLength="5.8" lengthAdjust="spacingAndGlyphs">c</text>
<rect x="539" y="205.71" width="9.6" height="11.97" fill="#f8696f"/>
<text x="543.8" y="215.19" class="m" fill="#5c0c10" stroke="#5c0c10" textLength="5.8" lengthAdjust="spacingAndGlyphs">c</text>
<rect x="560" y="205.71" width="9.6" height="11.97" fill="#f8696f"/>
<text x="564.8" y="215.19" class="m" fill="#5c0c10" stroke="#5c0c10" textLength="5.8" lengthAdjust="spacingAndGlyphs">c</text>
<rect x="539" y="217.28" width="9.6" height="11.97" fill="#f8696f"/>
<text x="543.8" y="226.76" class="m" fill="#5c0c10" stroke="#5c0c10" textLength="5.8" lengthAdjust="spacingAndGlyphs">c</text>
<rect x="560" y="217.28" width="9.6" height="11.97" fill="#f8696f"/>
<text x="564.8" y="226.76" class="m" fill="#5c0c10" stroke="#5c0c10" textLength="5.8" lengthAdjust="spacingAndGlyphs">c</text>
<rect x="1013.5" y="-7.2" width="9.8" height="11.8" fill="#f8696f"/>
<text x="1018.4" y="2.2" class="m" fill="#5c0c10" stroke="#5c0c10" textLength="5.8" lengthAdjust="spacingAndGlyphs">c</text>
<text x="1026.5" y="2.4" class="lg" textLength="148" lengthAdjust="spacingAndGlyphs">Carbamidomethylation (+57.02)</text>
<rect x="1013.5" y="6.35" width="9.8" height="11.8" fill="#fda80c"/>
<text x="1018.4" y="15.75" class="m" fill="#4a3000" stroke="#4a3000" textLength="6.4" lengthAdjust="spacingAndGlyphs">d</text>
<text x="1026.5" y="15.95" class="lg" textLength="121" lengthAdjust="spacingAndGlyphs">Deamidation (NQ) (+0.98)</text>
<rect x="1013.5" y="19.9" width="9.8" height="11.8" fill="#a0a2fa"/>
<text x="1018.4" y="29.3" class="m" fill="#23277a" stroke="#23277a" textLength="6.4" lengthAdjust="spacingAndGlyphs">o</text>
<text x="1026.5" y="29.5" class="lg" textLength="108" lengthAdjust="spacingAndGlyphs">Oxidation (M) (+15.99)</text>
</g>
<g transform="translate(0 2283.3)">
<rect x="66.4" y="-9.2" width="630" height="16.7" fill="#d3d3d3"/>
<text x="47" y="4.2" class="n" text-anchor="end">81</text>
<text x="66.4" y="4.4" class="sb" textLength="105" lengthAdjust="spacingAndGlyphs">KSYEYTCNKP</text>
<text x="181.9" y="4.4" class="sb" textLength="105" lengthAdjust="spacingAndGlyphs">DLTCTDAKGS</text>
<text x="297.4" y="4.4" class="sb" textLength="105" lengthAdjust="spacingAndGlyphs">CARNVCDCDR</text>
<text x="412.9" y="4.4" class="sb" textLength="105" lengthAdjust="spacingAndGlyphs">AAAICFAAAP</text>
<text x="528.4" y="4.4" class="sb" textLength="105" lengthAdjust="spacingAndGlyphs">YNLANFGINK</text>
<text x="643.9" y="4.4" class="sb" textLength="52.5" lengthAdjust="spacingAndGlyphs">ETHCQ</text>
<rect x="129.5" y="-20.9" width="9.6" height="11.9" fill="#f8696f"/>
<text x="134.3" y="-11.45" class="m" fill="#5c0c10" stroke="#5c0c10" textLength="5.8" lengthAdjust="spacingAndGlyphs">c</text>
<text x="134.3" y="-22.2" class="t" textLength="9" lengthAdjust="spacingAndGlyphs">87</text>
<rect x="213.5" y="-20.9" width="9.6" height="11.9" fill="#f8696f"/>
<text x="218.3" y="-11.45" class="m" fill="#5c0c10" stroke="#5c0c10" textLength="5.8" lengthAdjust="spacingAndGlyphs">c</text>
<text x="218.3" y="-22.2" class="t" textLength="9" lengthAdjust="spacingAndGlyphs">94</text>
<rect x="350" y="-20.9" width="9.6" height="11.9" fill="#f8696f"/>
<text x="354.8" y="-11.45" class="m" fill="#5c0c10" stroke="#5c0c10" textLength="5.8" lengthAdjust="spacingAndGlyphs">c</text>
<text x="354.8" y="-22.2" class="t" textLength="13.5" lengthAdjust="spacingAndGlyphs">106</text>
<rect x="455" y="-20.9" width="9.6" height="11.9" fill="#f8696f"/>
<text x="459.8" y="-11.45" class="m" fill="#5c0c10" stroke="#5c0c10" textLength="5.8" lengthAdjust="spacingAndGlyphs">c</text>
<text x="459.8" y="-22.2" class="t" textLength="13.5" lengthAdjust="spacingAndGlyphs">115</text>
<rect x="539" y="-20.9" width="9.6" height="11.9" fill="#fda80c"/>
<text x="543.8" y="-11.45" class="m" fill="#4a3000" stroke="#4a3000" textLength="6.4" lengthAdjust="spacingAndGlyphs">d</text>
<text x="543.8" y="-22.2" class="t" textLength="13.5" lengthAdjust="spacingAndGlyphs">122</text>
<rect x="570.5" y="-20.9" width="9.6" height="11.9" fill="#fda80c"/>
<text x="575.3" y="-11.45" class="m" fill="#4a3000" stroke="#4a3000" textLength="6.4" lengthAdjust="spacingAndGlyphs">d</text>
<text x="575.3" y="-22.2" class="t" textLength="13.5" lengthAdjust="spacingAndGlyphs">125</text>
<rect x="612.5" y="-20.9" width="9.6" height="11.9" fill="#fda80c"/>
<text x="617.3" y="-11.45" class="m" fill="#4a3000" stroke="#4a3000" textLength="6.4" lengthAdjust="spacingAndGlyphs">d</text>
<text x="617.3" y="-22.2" class="t" textLength="13.5" lengthAdjust="spacingAndGlyphs">129</text>
<rect x="675.5" y="-20.9" width="9.6" height="11.9" fill="#f8696f"/>
<text x="680.3" y="-11.45" class="m" fill="#5c0c10" stroke="#5c0c10" textLength="5.8" lengthAdjust="spacingAndGlyphs">c</text>
<text x="680.3" y="-22.2" class="t" textLength="13.5" lengthAdjust="spacingAndGlyphs">134</text>
<path d="M82.75 -10.3l-10.2 -19.4l8.2 3.7v-13.9h4v13.9l8.2 -3.7z" fill="#5ff75c"/>
<path d="M66.4 15H76.9M76.9 15H265.9M265.9 15H633.4M66.4 26.57H76.9M87.4 26.57H265.9M276.4 26.57H633.4M66.4 38.14H76.9M118.9 38.14H265.9M276.4 38.14H633.4M66.4 49.71H76.9M139.9 49.71H265.9M328.9 49.71H402.4M412.9 49.71H517.9M528.4 49.71H633.4M66.4 61.28H76.9M150.4 61.28H265.9M328.9 61.28H696.4M66.4 72.85H76.9M328.9 72.85H696.4M66.4 84.42H76.9M328.9 84.42H633.4M66.4 95.99H76.9M412.9 95.99H549.4M549.4 95.99H633.4M66.4 107.56H76.9M412.9 107.56H549.4M66.4 119.13H265.9M412.9 119.13H538.9M538.9 119.13H696.4M412.9 130.7H696.4M412.9 142.27H696.4M412.9 153.84H696.4M412.9 165.41H580.9M412.9 176.98H580.9M412.9 188.55H675.4M412.9 200.12H633.4M412.9 211.69H570.4M412.9 223.26H633.4M423.4 234.83H633.4M433.9 246.4H633.4M444.4 257.97H633.4M454.9 269.54H633.4M465.4 281.11H696.4M465.4 292.68H633.4M465.4 304.25H633.4M475.9 315.82H696.4M475.9 327.39H696.4M475.9 338.96H696.4M475.9 350.53H696.4M475.9 362.1H633.4M475.9 373.67H633.4M475.9 385.24H633.4M486.4 396.81H696.4M486.4 408.38H633.4M486.4 419.95H633.4M496.9 431.52H633.4M496.9 443.09H633.4M496.9 454.66H696.4M507.4 466.23H633.4M538.9 477.8H633.4M538.9 489.37H633.4" stroke="#3690f8" stroke-width="3.6" fill="none"/>
<path d="M76.9 11.5v7M76.9 11.5v7M265.9 11.5v7M265.9 11.5v7M633.4 11.5v7M76.9 23.07v7M87.4 23.07v7M265.9 23.07v7M276.4 23.07v7M633.4 23.07v7M76.9 34.64v7M118.9 34.64v7M265.9 34.64v7M276.4 34.64v7M633.4 34.64v7M76.9 46.21v7M139.9 46.21v7M265.9 46.21v7M328.9 46.21v7M402.4 46.21v7M412.9 46.21v7M517.9 46.21v7M528.4 46.21v7M633.4 46.21v7M76.9 57.78v7M150.4 57.78v7M265.9 57.78v7M328.9 57.78v7M696.4 57.78v7M76.9 69.35v7M328.9 69.35v7M696.4 69.35v7M76.9 80.92v7M328.9 80.92v7M633.4 80.92v7M76.9 92.49v7M412.9 92.49v7M549.4 92.49v7M549.4 92.49v7M633.4 92.49v7M76.9 104.06v7M412.9 104.06v7M265.9 115.63v7M412.9 115.63v7M538.9 115.63v7M538.9 115.63v7M696.4 115.63v7M412.9 127.2v7M696.4 127.2v7M412.9 138.77v7M696.4 138.77v7M412.9 150.34v7M696.4 150.34v7M412.9 161.91v7M580.9 161.91v7M412.9 173.48v7M580.9 173.48v7M412.9 185.05v7M675.4 185.05v7M412.9 196.62v7M633.4 196.62v7M412.9 208.19v7M570.4 208.19v7M412.9 219.76v7M633.4 219.76v7M423.4 231.33v7M633.4 231.33v7M433.9 242.9v7M633.4 242.9v7M444.4 254.47v7M633.4 254.47v7M633.4 266.04v7M465.4 277.61v7M696.4 277.61v7M465.4 289.18v7M633.4 289.18v7M465.4 300.75v7M633.4 300.75v7M475.9 312.32v7M696.4 312.32v7M475.9 323.89v7M696.4 323.89v7M475.9 335.46v7M696.4 335.46v7M475.9 347.03v7M696.4 347.03v7M475.9 358.6v7M633.4 358.6v7M475.9 370.17v7M633.4 370.17v7M475.9 381.74v7M633.4 381.74v7M486.4 393.31v7M696.4 393.31v7M486.4 404.88v7M633.4 404.88v7M486.4 416.45v7M633.4 416.45v7M496.9 428.02v7M633.4 428.02v7M496.9 439.59v7M633.4 439.59v7M496.9 451.16v7M696.4 451.16v7M507.4 462.73v7M633.4 462.73v7M538.9 474.3v7M633.4 474.3v7M538.9 485.87v7M633.4 485.87v7" stroke="#3690f8" stroke-width="1.25" fill="none"/>
<rect x="129.5" y="9.02" width="9.6" height="11.97" fill="#f8696f"/>
<text x="134.3" y="18.5" class="m" fill="#5c0c10" stroke="#5c0c10" textLength="5.8" lengthAdjust="spacingAndGlyphs">c</text>
<rect x="140" y="9.02" width="9.6" height="11.97" fill="#fda80c"/>
<text x="144.8" y="18.5" class="m" fill="#4a3000" stroke="#4a3000" textLength="6.4" lengthAdjust="spacingAndGlyphs">d</text>
<rect x="213.5" y="9.02" width="9.6" height="11.97" fill="#f8696f"/>
<text x="218.3" y="18.5" class="m" fill="#5c0c10" stroke="#5c0c10" textLength="5.8" lengthAdjust="spacingAndGlyphs">c</text>
<rect x="297.5" y="9.02" width="9.6" height="11.97" fill="#f8696f"/>
<text x="302.3" y="18.5" class="m" fill="#5c0c10" stroke="#5c0c10" textLength="5.8" lengthAdjust="spacingAndGlyphs">c</text>
<rect x="350" y="9.02" width="9.6" height="11.97" fill="#f8696f"/>
<text x="354.8" y="18.5" class="m" fill="#5c0c10" stroke="#5c0c10" textLength="5.8" lengthAdjust="spacingAndGlyphs">c</text>
<rect x="371" y="9.02" width="9.6" height="11.97" fill="#f8696f"/>
<text x="375.8" y="18.5" class="m" fill="#5c0c10" stroke="#5c0c10" textLength="5.8" lengthAdjust="spacingAndGlyphs">c</text>
<rect x="455" y="9.02" width="9.6" height="11.97" fill="#f8696f"/>
<text x="459.8" y="18.5" class="m" fill="#5c0c10" stroke="#5c0c10" textLength="5.8" lengthAdjust="spacingAndGlyphs">c</text>
<rect x="129.5" y="20.59" width="9.6" height="11.97" fill="#f8696f"/>
<text x="134.3" y="30.07" class="m" fill="#5c0c10" stroke="#5c0c10" textLength="5.8" lengthAdjust="spacingAndGlyphs">c</text>
<rect x="213.5" y="20.59" width="9.6" height="11.97" fill="#f8696f"/>
<text x="218.3" y="30.07" class="m" fill="#5c0c10" stroke="#5c0c10" textLength="5.8" lengthAdjust="spacingAndGlyphs">c</text>
<rect x="297.5" y="20.59" width="9.6" height="11.97" fill="#f8696f"/>
<text x="302.3" y="30.07" class="m" fill="#5c0c10" stroke="#5c0c10" textLength="5.8" lengthAdjust="spacingAndGlyphs">c</text>
<rect x="350" y="20.59" width="9.6" height="11.97" fill="#f8696f"/>
<text x="354.8" y="30.07" class="m" fill="#5c0c10" stroke="#5c0c10" textLength="5.8" lengthAdjust="spacingAndGlyphs">c</text>
<rect x="371" y="20.59" width="9.6" height="11.97" fill="#f8696f"/>
<text x="375.8" y="30.07" class="m" fill="#5c0c10" stroke="#5c0c10" textLength="5.8" lengthAdjust="spacingAndGlyphs">c</text>
<rect x="455" y="20.59" width="9.6" height="11.97" fill="#f8696f"/>
<text x="459.8" y="30.07" class="m" fill="#5c0c10" stroke="#5c0c10" textLength="5.8" lengthAdjust="spacingAndGlyphs">c</text>
<rect x="129.5" y="32.16" width="9.6" height="11.97" fill="#f8696f"/>
<text x="134.3" y="41.64" class="m" fill="#5c0c10" stroke="#5c0c10" textLength="5.8" lengthAdjust="spacingAndGlyphs">c</text>
<rect x="213.5" y="32.16" width="9.6" height="11.97" fill="#f8696f"/>
<text x="218.3" y="41.64" class="m" fill="#5c0c10" stroke="#5c0c10" textLength="5.8" lengthAdjust="spacingAndGlyphs">c</text>
<rect x="297.5" y="32.16" width="9.6" height="11.97" fill="#f8696f"/>
<text x="302.3" y="41.64" class="m" fill="#5c0c10" stroke="#5c0c10" textLength="5.8" lengthAdjust="spacingAndGlyphs">c</text>
<rect x="329" y="32.16" width="9.6" height="11.97" fill="#fda80c"/>
<text x="333.8" y="41.64" class="m" fill="#4a3000" stroke="#4a3000" textLength="6.4" lengthAdjust="spacingAndGlyphs">d</text>
<rect x="350" y="32.16" width="9.6" height="11.97" fill="#f8696f"/>
<text x="354.8" y="41.64" class="m" fill="#5c0c10" stroke="#5c0c10" textLength="5.8" lengthAdjust="spacingAndGlyphs">c</text>
<rect x="371" y="32.16" width="9.6" height="11.97" fill="#f8696f"/>
<text x="375.8" y="41.64" class="m" fill="#5c0c10" stroke="#5c0c10" textLength="5.8" lengthAdjust="spacingAndGlyphs">c</text>
<rect x="455" y="32.16" width="9.6" height="11.97" fill="#f8696f"/>
<text x="459.8" y="41.64" class="m" fill="#5c0c10" stroke="#5c0c10" textLength="5.8" lengthAdjust="spacingAndGlyphs">c</text>
<rect x="213.5" y="43.72" width="9.6" height="11.97" fill="#f8696f"/>
<text x="218.3" y="53.21" class="m" fill="#5c0c10" stroke="#5c0c10" textLength="5.8" lengthAdjust="spacingAndGlyphs">c</text>
<rect x="350" y="43.72" width="9.6" height="11.97" fill="#f8696f"/>
<text x="354.8" y="53.21" class="m" fill="#5c0c10" stroke="#5c0c10" textLength="5.8" lengthAdjust="spacingAndGlyphs">c</text>
<rect x="371" y="43.72" width="9.6" height="11.97" fill="#f8696f"/>
<text x="375.8" y="53.21" class="m" fill="#5c0c10" stroke="#5c0c10" textLength="5.8" lengthAdjust="spacingAndGlyphs">c</text>
<rect x="455" y="43.72" width="9.6" height="11.97" fill="#f8696f"/>
<text x="459.8" y="53.21" class="m" fill="#5c0c10" stroke="#5c0c10" textLength="5.8" lengthAdjust="spacingAndGlyphs">c</text>
<rect x="213.5" y="55.3" width="9.6" height="11.97" fill="#f8696f"/>
<text x="218.3" y="64.78" class="m" fill="#5c0c10" stroke="#5c0c10" textLength="5.8" lengthAdjust="spacingAndGlyphs">c</text>
<rect x="350" y="55.3" width="9.6" height="11.97" fill="#f8696f"/>
<text x="354.8" y="64.78" class="m" fill="#5c0c10" stroke="#5c0c10" textLength="5.8" lengthAdjust="spacingAndGlyphs">c</text>
<rect x="371" y="55.3" width="9.6" height="11.97" fill="#f8696f"/>
<text x="375.8" y="64.78" class="m" fill="#5c0c10" stroke="#5c0c10" textLength="5.8" lengthAdjust="spacingAndGlyphs">c</text>
<rect x="455" y="55.3" width="9.6" height="11.97" fill="#f8696f"/>
<text x="459.8" y="64.78" class="m" fill="#5c0c10" stroke="#5c0c10" textLength="5.8" lengthAdjust="spacingAndGlyphs">c</text>
<rect x="570.5" y="55.3" width="9.6" height="11.97" fill="#fda80c"/>
<text x="575.3" y="64.78" class="m" fill="#4a3000" stroke="#4a3000" textLength="6.4" lengthAdjust="spacingAndGlyphs">d</text>
<rect x="675.5" y="55.3" width="9.6" height="11.97" fill="#f8696f"/>
<text x="680.3" y="64.78" class="m" fill="#5c0c10" stroke="#5c0c10" textLength="5.8" lengthAdjust="spacingAndGlyphs">c</text>
<rect x="350" y="66.86" width="9.6" height="11.97" fill="#f8696f"/>
<text x="354.8" y="76.35" class="m" fill="#5c0c10" stroke="#5c0c10" textLength="5.8" lengthAdjust="spacingAndGlyphs">c</text>
<rect x="371" y="66.86" width="9.6" height="11.97" fill="#f8696f"/>
<text x="375.8" y="76.35" class="m" fill="#5c0c10" stroke="#5c0c10" textLength="5.8" lengthAdjust="spacingAndGlyphs">c</text>
<rect x="455" y="66.86" width="9.6" height="11.97" fill="#f8696f"/>
<text x="459.8" y="76.35" class="m" fill="#5c0c10" stroke="#5c0c10" textLength="5.8" lengthAdjust="spacingAndGlyphs">c</text>
<rect x="675.5" y="66.86" width="9.6" height="11.97" fill="#f8696f"/>
<text x="680.3" y="76.35" class="m" fill="#5c0c10" stroke="#5c0c10" textLength="5.8" lengthAdjust="spacingAndGlyphs">c</text>
<rect x="350" y="78.44" width="9.6" height="11.97" fill="#f8696f"/>
<text x="354.8" y="87.92" class="m" fill="#5c0c10" stroke="#5c0c10" textLength="5.8" lengthAdjust="spacingAndGlyphs">c</text>
<rect x="371" y="78.44" width="9.6" height="11.97" fill="#f8696f"/>
<text x="375.8" y="87.92" class="m" fill="#5c0c10" stroke="#5c0c10" textLength="5.8" lengthAdjust="spacingAndGlyphs">c</text>
<rect x="455" y="78.44" width="9.6" height="11.97" fill="#f8696f"/>
<text x="459.8" y="87.92" class="m" fill="#5c0c10" stroke="#5c0c10" textLength="5.8" lengthAdjust="spacingAndGlyphs">c</text>
<rect x="455" y="90.01" width="9.6" height="11.97" fill="#f8696f"/>
<text x="459.8" y="99.49" class="m" fill="#5c0c10" stroke="#5c0c10" textLength="5.8" lengthAdjust="spacingAndGlyphs">c</text>
<rect x="455" y="101.58" width="9.6" height="11.97" fill="#f8696f"/>
<text x="459.8" y="111.06" class="m" fill="#5c0c10" stroke="#5c0c10" textLength="5.8" lengthAdjust="spacingAndGlyphs">c</text>
<rect x="539" y="101.58" width="9.6" height="11.97" fill="#fda80c"/>
<text x="543.8" y="111.06" class="m" fill="#4a3000" stroke="#4a3000" textLength="6.4" lengthAdjust="spacingAndGlyphs">d</text>
<rect x="129.5" y="113.14" width="9.6" height="11.97" fill="#f8696f"/>
<text x="134.3" y="122.63" class="m" fill="#5c0c10" stroke="#5c0c10" textLength="5.8" lengthAdjust="spacingAndGlyphs">c</text>
<rect x="213.5" y="113.14" width="9.6" height="11.97" fill="#f8696f"/>
<text x="218.3" y="122.63" class="m" fill="#5c0c10" stroke="#5c0c10" textLength="5.8" lengthAdjust="spacingAndGlyphs">c</text>
<rect x="455" y="113.14" width="9.6" height="11.97" fill="#f8696f"/>
<text x="459.8" y="122.63" class="m" fill="#5c0c10" stroke="#5c0c10" textLength="5.8" lengthAdjust="spacingAndGlyphs">c</text>
<rect x="612.5" y="113.14" width="9.6" height="11.97" fill="#fda80c"/>
<text x="617.3" y="122.63" class="m" fill="#4a3000" stroke="#4a3000" textLength="6.4" lengthAdjust="spacingAndGlyphs">d</text>
<rect x="675.5" y="113.14" width="9.6" height="11.97" fill="#f8696f"/>
<text x="680.3" y="122.63" class="m" fill="#5c0c10" stroke="#5c0c10" textLength="5.8" lengthAdjust="spacingAndGlyphs">c</text>
<rect x="455" y="124.71" width="9.6" height="11.97" fill="#f8696f"/>
<text x="459.8" y="134.2" class="m" fill="#5c0c10" stroke="#5c0c10" textLength="5.8" lengthAdjust="spacingAndGlyphs">c</text>
<rect x="675.5" y="124.71" width="9.6" height="11.97" fill="#f8696f"/>
<text x="680.3" y="134.2" class="m" fill="#5c0c10" stroke="#5c0c10" textLength="5.8" lengthAdjust="spacingAndGlyphs">c</text>
<rect x="455" y="136.29" width="9.6" height="11.97" fill="#f8696f"/>
<text x="459.8" y="145.77" class="m" fill="#5c0c10" stroke="#5c0c10" textLength="5.8" lengthAdjust="spacingAndGlyphs">c</text>
<rect x="612.5" y="136.29" width="9.6" height="11.97" fill="#fda80c"/>
<text x="617.3" y="145.77" class="m" fill="#4a3000" stroke="#4a3000" textLength="6.4" lengthAdjust="spacingAndGlyphs">d</text>
<rect x="675.5" y="136.29" width="9.6" height="11.97" fill="#f8696f"/>
<text x="680.3" y="145.77" class="m" fill="#5c0c10" stroke="#5c0c10" textLength="5.8" lengthAdjust="spacingAndGlyphs">c</text>
<rect x="455" y="147.86" width="9.6" height="11.97" fill="#f8696f"/>
<text x="459.8" y="157.34" class="m" fill="#5c0c10" stroke="#5c0c10" textLength="5.8" lengthAdjust="spacingAndGlyphs">c</text>
<rect x="570.5" y="147.86" width="9.6" height="11.97" fill="#fda80c"/>
<text x="575.3" y="157.34" class="m" fill="#4a3000" stroke="#4a3000" textLength="6.4" lengthAdjust="spacingAndGlyphs">d</text>
<rect x="675.5" y="147.86" width="9.6" height="11.97" fill="#f8696f"/>
<text x="680.3" y="157.34" class="m" fill="#5c0c10" stroke="#5c0c10" textLength="5.8" lengthAdjust="spacingAndGlyphs">c</text>
<rect x="455" y="159.43" width="9.6" height="11.97" fill="#f8696f"/>
<text x="459.8" y="168.91" class="m" fill="#5c0c10" stroke="#5c0c10" textLength="5.8" lengthAdjust="spacingAndGlyphs">c</text>
<rect x="539" y="159.43" width="9.6" height="11.97" fill="#fda80c"/>
<text x="543.8" y="168.91" class="m" fill="#4a3000" stroke="#4a3000" textLength="6.4" lengthAdjust="spacingAndGlyphs">d</text>
<rect x="455" y="171" width="9.6" height="11.97" fill="#f8696f"/>
<text x="459.8" y="180.48" class="m" fill="#5c0c10" stroke="#5c0c10" textLength="5.8" lengthAdjust="spacingAndGlyphs">c</text>
<rect x="455" y="182.57" width="9.6" height="11.97" fill="#f8696f"/>
<text x="459.8" y="192.05" class="m" fill="#5c0c10" stroke="#5c0c10" textLength="5.8" lengthAdjust="spacingAndGlyphs">c</text>
<rect x="612.5" y="182.57" width="9.6" height="11.97" fill="#fda80c"/>
<text x="617.3" y="192.05" class="m" fill="#4a3000" stroke="#4a3000" textLength="6.4" lengthAdjust="spacingAndGlyphs">d</text>
<rect x="455" y="194.14" width="9.6" height="11.97" fill="#f8696f"/>
<text x="459.8" y="203.62" class="m" fill="#5c0c10" stroke="#5c0c10" textLength="5.8" lengthAdjust="spacingAndGlyphs">c</text>
<rect x="455" y="205.71" width="9.6" height="11.97" fill="#f8696f"/>
<text x="459.8" y="215.19" class="m" fill="#5c0c10" stroke="#5c0c10" textLength="5.8" lengthAdjust="spacingAndGlyphs">c</text>
<rect x="455" y="217.28" width="9.6" height="11.97" fill="#f8696f"/>
<text x="459.8" y="226.76" class="m" fill="#5c0c10" stroke="#5c0c10" textLength="5.8" lengthAdjust="spacingAndGlyphs">c</text>
<rect x="570.5" y="217.28" width="9.6" height="11.97" fill="#fda80c"/>
<text x="575.3" y="226.76" class="m" fill="#4a3000" stroke="#4a3000" textLength="6.4" lengthAdjust="spacingAndGlyphs">d</text>
<rect x="455" y="228.85" width="9.6" height="11.97" fill="#f8696f"/>
<text x="459.8" y="238.33" class="m" fill="#5c0c10" stroke="#5c0c10" textLength="5.8" lengthAdjust="spacingAndGlyphs">c</text>
<rect x="455" y="240.42" width="9.6" height="11.97" fill="#f8696f"/>
<text x="459.8" y="249.9" class="m" fill="#5c0c10" stroke="#5c0c10" textLength="5.8" lengthAdjust="spacingAndGlyphs">c</text>
<rect x="455" y="251.99" width="9.6" height="11.97" fill="#f8696f"/>
<text x="459.8" y="261.47" class="m" fill="#5c0c10" stroke="#5c0c10" textLength="5.8" lengthAdjust="spacingAndGlyphs">c</text>
<rect x="455" y="263.56" width="9.6" height="11.97" fill="#f8696f"/>
<text x="459.8" y="273.04" class="m" fill="#5c0c10" stroke="#5c0c10" textLength="5.8" lengthAdjust="spacingAndGlyphs">c</text>
<rect x="612.5" y="275.12" width="9.6" height="11.97" fill="#fda80c"/>
<text x="617.3" y="284.61" class="m" fill="#4a3000" stroke="#4a3000" textLength="6.4" lengthAdjust="spacingAndGlyphs">d</text>
<rect x="675.5" y="275.12" width="9.6" height="11.97" fill="#f8696f"/>
<text x="680.3" y="284.61" class="m" fill="#5c0c10" stroke="#5c0c10" textLength="5.8" lengthAdjust="spacingAndGlyphs">c</text>
<rect x="570.5" y="298.26" width="9.6" height="11.97" fill="#fda80c"/>
<text x="575.3" y="307.75" class="m" fill="#4a3000" stroke="#4a3000" textLength="6.4" lengthAdjust="spacingAndGlyphs">d</text>
<rect x="570.5" y="309.83" width="9.6" height="11.97" fill="#fda80c"/>
<text x="575.3" y="319.32" class="m" fill="#4a3000" stroke="#4a3000" textLength="6.4" lengthAdjust="spacingAndGlyphs">d</text>
<rect x="675.5" y="309.83" width="9.6" height="11.97" fill="#f8696f"/>
<text x="680.3" y="319.32" class="m" fill="#5c0c10" stroke="#5c0c10" textLength="5.8" lengthAdjust="spacingAndGlyphs">c</text>
<rect x="675.5" y="321.4" width="9.6" height="11.97" fill="#f8696f"/>
<text x="680.3" y="330.89" class="m" fill="#5c0c10" stroke="#5c0c10" textLength="5.8" lengthAdjust="spacingAndGlyphs">c</text>
<rect x="612.5" y="332.98" width="9.6" height="11.97" fill="#fda80c"/>
<text x="617.3" y="342.46" class="m" fill="#4a3000" stroke="#4a3000" textLength="6.4" lengthAdjust="spacingAndGlyphs">d</text>
<rect x="675.5" y="332.98" width="9.6" height="11.97" fill="#f8696f"/>
<text x="680.3" y="342.46" class="m" fill="#5c0c10" stroke="#5c0c10" textLength="5.8" lengthAdjust="spacingAndGlyphs">c</text>
<rect x="570.5" y="344.55" width="9.6" height="11.97" fill="#fda80c"/>
<text x="575.3" y="354.03" class="m" fill="#4a3000" stroke="#4a3000" textLength="6.4" lengthAdjust="spacingAndGlyphs">d</text>
<rect x="612.5" y="344.55" width="9.6" height="11.97" fill="#fda80c"/>
<text x="617.3" y="354.03" class="m" fill="#4a3000" stroke="#4a3000" textLength="6.4" lengthAdjust="spacingAndGlyphs">d</text>
<rect x="675.5" y="344.55" width="9.6" height="11.97" fill="#f8696f"/>
<text x="680.3" y="354.03" class="m" fill="#5c0c10" stroke="#5c0c10" textLength="5.8" lengthAdjust="spacingAndGlyphs">c</text>
<rect x="570.5" y="367.69" width="9.6" height="11.97" fill="#fda80c"/>
<text x="575.3" y="377.17" class="m" fill="#4a3000" stroke="#4a3000" textLength="6.4" lengthAdjust="spacingAndGlyphs">d</text>
<rect x="539" y="379.25" width="9.6" height="11.97" fill="#fda80c"/>
<text x="543.8" y="388.74" class="m" fill="#4a3000" stroke="#4a3000" textLength="6.4" lengthAdjust="spacingAndGlyphs">d</text>
<rect x="570.5" y="379.25" width="9.6" height="11.97" fill="#fda80c"/>
<text x="575.3" y="388.74" class="m" fill="#4a3000" stroke="#4a3000" textLength="6.4" lengthAdjust="spacingAndGlyphs">d</text>
<rect x="612.5" y="390.82" width="9.6" height="11.97" fill="#fda80c"/>
<text x="617.3" y="400.31" class="m" fill="#4a3000" stroke="#4a3000" textLength="6.4" lengthAdjust="spacingAndGlyphs">d</text>
<rect x="675.5" y="390.82" width="9.6" height="11.97" fill="#f8696f"/>
<text x="680.3" y="400.31" class="m" fill="#5c0c10" stroke="#5c0c10" textLength="5.8" lengthAdjust="spacingAndGlyphs">c</text>
<rect x="570.5" y="413.96" width="9.6" height="11.97" fill="#fda80c"/>
<text x="575.3" y="423.45" class="m" fill="#4a3000" stroke="#4a3000" textLength="6.4" lengthAdjust="spacingAndGlyphs">d</text>
<rect x="539" y="437.11" width="9.6" height="11.97" fill="#fda80c"/>
<text x="543.8" y="446.59" class="m" fill="#4a3000" stroke="#4a3000" textLength="6.4" lengthAdjust="spacingAndGlyphs">d</text>
<rect x="675.5" y="448.68" width="9.6" height="11.97" fill="#f8696f"/>
<text x="680.3" y="458.16" class="m" fill="#5c0c10" stroke="#5c0c10" textLength="5.8" lengthAdjust="spacingAndGlyphs">c</text>
<rect x="570.5" y="471.81" width="9.6" height="11.97" fill="#fda80c"/>
<text x="575.3" y="481.3" class="m" fill="#4a3000" stroke="#4a3000" textLength="6.4" lengthAdjust="spacingAndGlyphs">d</text>
</g>
<text x="37.5" y="2855.7" class="ti" textLength="306" lengthAdjust="spacingAndGlyphs">sp|P00629|PA2B3_BUNFA</text>
<g transform="translate(0 2920.7)">
<rect x="255.4" y="-9.2" width="724.5" height="16.7" fill="#d3d3d3"/>
<text x="47" y="4.2" class="n" text-anchor="end">1</text>
<text x="66.4" y="4.4" class="s" textLength="105" lengthAdjust="spacingAndGlyphs">AVCVSLLGAA</text>
<text x="181.9" y="4.4" class="s" textLength="73.5" lengthAdjust="spacingAndGlyphs">NIPPQPL</text>
<text x="255.4" y="4.4" class="sb" textLength="31.5" lengthAdjust="spacingAndGlyphs">NLL</text>
<text x="297.4" y="4.4" class="sb" textLength="105" lengthAdjust="spacingAndGlyphs">QFKNMIQCAG</text>
<text x="412.9" y="4.4" class="sb" textLength="105" lengthAdjust="spacingAndGlyphs">SRLWVAYVKY</text>
<text x="528.4" y="4.4" class="sb" textLength="105" lengthAdjust="spacingAndGlyphs">GCYCGPGGTG</text>
<text x="643.9" y="4.4" class="sb" textLength="105" lengthAdjust="spacingAndGlyphs">TPLDQLDRCC</text>
<text x="759.4" y="4.4" class="sb" textLength="105" lengthAdjust="spacingAndGlyphs">QTHDHCYDNA</text>
<text x="874.9" y="4.4" class="sb" textLength="105" lengthAdjust="spacingAndGlyphs">KKFGNCIPYF</text>
<rect x="329" y="-20.9" width="9.6" height="11.9" fill="#fda80c"/>
<text x="333.8" y="-11.45" class="m" fill="#4a3000" stroke="#4a3000" textLength="6.4" lengthAdjust="spacingAndGlyphs">d</text>
<text x="333.8" y="-22.2" class="t" textLength="9" lengthAdjust="spacingAndGlyphs">24</text>
<rect x="339.5" y="-20.9" width="9.6" height="11.9" fill="#a0a2fa"/>
<text x="344.3" y="-11.45" class="m" fill="#23277a" stroke="#23277a" textLength="6.4" lengthAdjust="spacingAndGlyphs">o</text>
<text x="344.3" y="-22.2" class="t" textLength="9" lengthAdjust="spacingAndGlyphs">25</text>
<rect x="360.5" y="-20.9" width="9.6" height="11.9" fill="#fda80c"/>
<text x="365.3" y="-11.45" class="m" fill="#4a3000" stroke="#4a3000" textLength="6.4" lengthAdjust="spacingAndGlyphs">d</text>
<text x="365.3" y="-22.2" class="t" textLength="9" lengthAdjust="spacingAndGlyphs">27</text>
<rect x="371" y="-20.9" width="9.6" height="11.9" fill="#f8696f"/>
<text x="375.8" y="-11.45" class="m" fill="#5c0c10" stroke="#5c0c10" textLength="5.8" lengthAdjust="spacingAndGlyphs">c</text>
<text x="375.8" y="-22.2" class="t" textLength="9" lengthAdjust="spacingAndGlyphs">28</text>
<rect x="539" y="-20.9" width="9.6" height="11.9" fill="#f8696f"/>
<text x="543.8" y="-11.45" class="m" fill="#5c0c10" stroke="#5c0c10" textLength="5.8" lengthAdjust="spacingAndGlyphs">c</text>
<text x="543.8" y="-22.2" class="t" textLength="9" lengthAdjust="spacingAndGlyphs">42</text>
<rect x="560" y="-20.9" width="9.6" height="11.9" fill="#f8696f"/>
<text x="564.8" y="-11.45" class="m" fill="#5c0c10" stroke="#5c0c10" textLength="5.8" lengthAdjust="spacingAndGlyphs">c</text>
<text x="564.8" y="-22.2" class="t" textLength="9" lengthAdjust="spacingAndGlyphs">44</text>
<rect x="686" y="-20.9" width="9.6" height="11.9" fill="#fda80c"/>
<text x="690.8" y="-11.45" class="m" fill="#4a3000" stroke="#4a3000" textLength="6.4" lengthAdjust="spacingAndGlyphs">d</text>
<text x="690.8" y="-22.2" class="t" textLength="9" lengthAdjust="spacingAndGlyphs">55</text>
<rect x="728" y="-20.9" width="9.6" height="11.9" fill="#f8696f"/>
<text x="732.8" y="-11.45" class="m" fill="#5c0c10" stroke="#5c0c10" textLength="5.8" lengthAdjust="spacingAndGlyphs">c</text>
<text x="732.8" y="-22.2" class="t" textLength="9" lengthAdjust="spacingAndGlyphs">59</text>
<rect x="738.5" y="-20.9" width="9.6" height="11.9" fill="#f8696f"/>
<text x="743.3" y="-11.45" class="m" fill="#5c0c10" stroke="#5c0c10" textLength="5.8" lengthAdjust="spacingAndGlyphs">c</text>
<text x="743.3" y="-22.2" class="t" textLength="9" lengthAdjust="spacingAndGlyphs">60</text>
<rect x="812" y="-20.9" width="9.6" height="11.9" fill="#f8696f"/>
<text x="816.8" y="-11.45" class="m" fill="#5c0c10" stroke="#5c0c10" textLength="5.8" lengthAdjust="spacingAndGlyphs">c</text>
<text x="816.8" y="-22.2" class="t" textLength="9" lengthAdjust="spacingAndGlyphs">66</text>
<rect x="917" y="-20.9" width="9.6" height="11.9" fill="#fda80c"/>
<text x="921.8" y="-11.45" class="m" fill="#4a3000" stroke="#4a3000" textLength="6.4" lengthAdjust="spacingAndGlyphs">d</text>
<text x="921.8" y="-22.2" class="t" textLength="9" lengthAdjust="spacingAndGlyphs">75</text>
<rect x="927.5" y="-20.9" width="9.6" height="11.9" fill="#f8696f"/>
<text x="932.3" y="-11.45" class="m" fill="#5c0c10" stroke="#5c0c10" textLength="5.8" lengthAdjust="spacingAndGlyphs">c</text>
<text x="932.3" y="-22.2" class="t" textLength="9" lengthAdjust="spacingAndGlyphs">76</text>
<path d="M255.4 15H433.9M433.9 15H507.4M507.4 15H895.9M895.9 15H979.9M255.4 26.57H433.9M433.9 26.57H885.4M885.4 26.57H979.9M255.4 38.14H433.9M486.4 38.14H979.9M328.9 49.71H433.9M507.4 49.71H885.4M885.4 49.71H979.9M328.9 61.28H433.9M528.4 61.28H979.9M328.9 72.85H433.9M538.9 72.85H727.9M874.9 72.85H979.9M328.9 84.42H433.9M549.4 84.42H727.9M885.4 84.42H979.9M328.9 95.99H507.4M559.9 95.99H727.9M895.9 95.99H979.9M328.9 107.56H507.4M570.4 107.56H727.9M895.9 107.56H979.9M328.9 119.13H727.9M895.9 119.13H979.9M328.9 130.7H727.9M906.4 130.7H979.9M328.9 142.27H727.9M916.9 142.27H979.9M328.9 153.84H727.9M916.9 153.84H979.9M328.9 165.41H727.9M969.4 165.41H979.9M339.4 176.98H727.9M370.9 188.55H507.4M580.9 188.55H727.9M381.4 200.12H727.9M391.9 211.69H727.9M412.9 223.26H727.9M591.4 234.83H727.9M612.4 246.4H727.9M622.9 257.97H727.9" stroke="#3690f8" stroke-width="3.6" fill="none"/>
<path d="M255.4 11.5v7M433.9 11.5v7M433.9 11.5v7M507.4 11.5v7M507.4 11.5v7M895.9 11.5v7M895.9 11.5v7M255.4 23.07v7M433.9 23.07v7M433.9 23.07v7M885.4 23.07v7M885.4 23.07v7M255.4 34.64v7M433.9 34.64v7M486.4 34.64v7M328.9 46.21v7M433.9 46.21v7M507.4 46.21v7M885.4 46.21v7M885.4 46.21v7M328.9 57.78v7M433.9 57.78v7M528.4 57.78v7M328.9 69.35v7M433.9 69.35v7M727.9 69.35v7M874.9 69.35v7M433.9 80.92v7M549.4 80.92v7M727.9 80.92v7M885.4 80.92v7M328.9 92.49v7M507.4 92.49v7M727.9 92.49v7M895.9 92.49v7M328.9 104.06v7M507.4 104.06v7M570.4 104.06v7M727.9 104.06v7M895.9 104.06v7M328.9 115.63v7M727.9 115.63v7M895.9 115.63v7M727.9 127.2v7M906.4 127.2v7M328.9 138.77v7M727.9 138.77v7M916.9 138.77v7M328.9 150.34v7M727.9 150.34v7M727.9 161.91v7M969.4 161.91v7M727.9 173.48v7M507.4 185.05v7M580.9 185.05v7M727.9 185.05v7M381.4 196.62v7M727.9 196.62v7M391.9 208.19v7M727.9 208.19v7M412.9 219.76v7M727.9 219.76v7M591.4 231.33v7M727.9 231.33v7M612.4 242.9v7M727.9 242.9v7M622.9 254.47v7M727.9 254.47v7" stroke="#3690f8" stroke-width="1.25" fill="none"/>
<rect x="371" y="9.02" width="9.6" height="11.97" fill="#f8696f"/>
<text x="375.8" y="18.5" class="m" fill="#5c0c10" stroke="#5c0c10" textLength="5.8" lengthAdjust="spacingAndGlyphs">c</text>
<rect x="539" y="9.02" width="9.6" height="11.97" fill="#f8696f"/>
<text x="543.8" y="18.5" class="m" fill="#5c0c10" stroke="#5c0c10" textLength="5.8" lengthAdjust="spacingAndGlyphs">c</text>
<rect x="560" y="9.02" width="9.6" height="11.97" fill="#f8696f"/>
<text x="564.8" y="18.5" class="m" fill="#5c0c10" stroke="#5c0c10" textLength="5.8" lengthAdjust="spacingAndGlyphs">c</text>
<rect x="728" y="9.02" width="9.6" height="11.97" fill="#f8696f"/>
<text x="732.8" y="18.5" class="m" fill="#5c0c10" stroke="#5c0c10" textLength="5.8" lengthAdjust="spacingAndGlyphs">c</text>
<rect x="738.5" y="9.02" width="9.6" height="11.97" fill="#f8696f"/>
<text x="743.3" y="18.5" class="m" fill="#5c0c10" stroke="#5c0c10" textLength="5.8" lengthAdjust="spacingAndGlyphs">c</text>
<rect x="812" y="9.02" width="9.6" height="11.97" fill="#f8696f"/>
<text x="816.8" y="18.5" class="m" fill="#5c0c10" stroke="#5c0c10" textLength="5.8" lengthAdjust="spacingAndGlyphs">c</text>
<rect x="927.5" y="9.02" width="9.6" height="11.97" fill="#f8696f"/>
<text x="932.3" y="18.5" class="m" fill="#5c0c10" stroke="#5c0c10" textLength="5.8" lengthAdjust="spacingAndGlyphs">c</text>
<rect x="329" y="20.59" width="9.6" height="11.97" fill="#fda80c"/>
<text x="333.8" y="30.07" class="m" fill="#4a3000" stroke="#4a3000" textLength="6.4" lengthAdjust="spacingAndGlyphs">d</text>
<rect x="339.5" y="20.59" width="9.6" height="11.97" fill="#a0a2fa"/>
<text x="344.3" y="30.07" class="m" fill="#23277a" stroke="#23277a" textLength="6.4" lengthAdjust="spacingAndGlyphs">o</text>
<rect x="371" y="20.59" width="9.6" height="11.97" fill="#f8696f"/>
<text x="375.8" y="30.07" class="m" fill="#5c0c10" stroke="#5c0c10" textLength="5.8" lengthAdjust="spacingAndGlyphs">c</text>
<rect x="539" y="20.59" width="9.6" height="11.97" fill="#f8696f"/>
<text x="543.8" y="30.07" class="m" fill="#5c0c10" stroke="#5c0c10" textLength="5.8" lengthAdjust="spacingAndGlyphs">c</text>
<rect x="560" y="20.59" width="9.6" height="11.97" fill="#f8696f"/>
<text x="564.8" y="30.07" class="m" fill="#5c0c10" stroke="#5c0c10" textLength="5.8" lengthAdjust="spacingAndGlyphs">c</text>
<rect x="728" y="20.59" width="9.6" height="11.97" fill="#f8696f"/>
<text x="732.8" y="30.07" class="m" fill="#5c0c10" stroke="#5c0c10" textLength="5.8" lengthAdjust="spacingAndGlyphs">c</text>
<rect x="738.5" y="20.59" width="9.6" height="11.97" fill="#f8696f"/>
<text x="743.3" y="30.07" class="m" fill="#5c0c10" stroke="#5c0c10" textLength="5.8" lengthAdjust="spacingAndGlyphs">c</text>
<rect x="812" y="20.59" width="9.6" height="11.97" fill="#f8696f"/>
<text x="816.8" y="30.07" class="m" fill="#5c0c10" stroke="#5c0c10" textLength="5.8" lengthAdjust="spacingAndGlyphs">c</text>
<rect x="927.5" y="20.59" width="9.6" height="11.97" fill="#f8696f"/>
<text x="932.3" y="30.07" class="m" fill="#5c0c10" stroke="#5c0c10" textLength="5.8" lengthAdjust="spacingAndGlyphs">c</text>
<rect x="329" y="32.16" width="9.6" height="11.97" fill="#fda80c"/>
<text x="333.8" y="41.64" class="m" fill="#4a3000" stroke="#4a3000" textLength="6.4" lengthAdjust="spacingAndGlyphs">d</text>
<rect x="371" y="32.16" width="9.6" height="11.97" fill="#f8696f"/>
<text x="375.8" y="41.64" class="m" fill="#5c0c10" stroke="#5c0c10" textLength="5.8" lengthAdjust="spacingAndGlyphs">c</text>
<rect x="539" y="32.16" width="9.6" height="11.97" fill="#f8696f"/>
<text x="543.8" y="41.64" class="m" fill="#5c0c10" stroke="#5c0c10" textLength="5.8" lengthAdjust="spacingAndGlyphs">c</text>
<rect x="560" y="32.16" width="9.6" height="11.97" fill="#f8696f"/>
<text x="564.8" y="41.64" class="m" fill="#5c0c10" stroke="#5c0c10" textLength="5.8" lengthAdjust="spacingAndGlyphs">c</text>
<rect x="728" y="32.16" width="9.6" height="11.97" fill="#f8696f"/>
<text x="732.8" y="41.64" class="m" fill="#5c0c10" stroke="#5c0c10" textLength="5.8" lengthAdjust="spacingAndGlyphs">c</text>
<rect x="738.5" y="32.16" width="9.6" height="11.97" fill="#f8696f"/>
<text x="743.3" y="41.64" class="m" fill="#5c0c10" stroke="#5c0c10" textLength="5.8" lengthAdjust="spacingAndGlyphs">c</text>
<rect x="812" y="32.16" width="9.6" height="11.97" fill="#f8696f"/>
<text x="816.8" y="41.64" class="m" fill="#5c0c10" stroke="#5c0c10" textLength="5.8" lengthAdjust="spacingAndGlyphs">c</text>
<rect x="843.5" y="32.16" width="9.6" height="11.97" fill="#fda80c"/>
<text x="848.3" y="41.64" class="m" fill="#4a3000" stroke="#4a3000" textLength="6.4" lengthAdjust="spacingAndGlyphs">d</text>
<rect x="927.5" y="32.16" width="9.6" height="11.97" fill="#f8696f"/>
<text x="932.3" y="41.64" class="m" fill="#5c0c10" stroke="#5c0c10" textLength="5.8" lengthAdjust="spacingAndGlyphs">c</text>
<rect x="339.5" y="43.72" width="9.6" height="11.97" fill="#a0a2fa"/>
<text x="344.3" y="53.21" class="m" fill="#23277a" stroke="#23277a" textLength="6.4" lengthAdjust="spacingAndGlyphs">o</text>
<rect x="371" y="43.72" width="9.6" height="11.97" fill="#f8696f"/>
<text x="375.8" y="53.21" class="m" fill="#5c0c10" stroke="#5c0c10" textLength="5.8" lengthAdjust="spacingAndGlyphs">c</text>
<rect x="539" y="43.72" width="9.6" height="11.97" fill="#f8696f"/>
<text x="543.8" y="53.21" class="m" fill="#5c0c10" stroke="#5c0c10" textLength="5.8" lengthAdjust="spacingAndGlyphs">c</text>
<rect x="560" y="43.72" width="9.6" height="11.97" fill="#f8696f"/>
<text x="564.8" y="53.21" class="m" fill="#5c0c10" stroke="#5c0c10" textLength="5.8" lengthAdjust="spacingAndGlyphs">c</text>
<rect x="728" y="43.72" width="9.6" height="11.97" fill="#f8696f"/>
<text x="732.8" y="53.21" class="m" fill="#5c0c10" stroke="#5c0c10" textLength="5.8" lengthAdjust="spacingAndGlyphs">c</text>
<rect x="738.5" y="43.72" width="9.6" height="11.97" fill="#f8696f"/>
<text x="743.3" y="53.21" class="m" fill="#5c0c10" stroke="#5c0c10" textLength="5.8" lengthAdjust="spacingAndGlyphs">c</text>
<rect x="812" y="43.72" width="9.6" height="11.97" fill="#f8696f"/>
<text x="816.8" y="53.21" class="m" fill="#5c0c10" stroke="#5c0c10" textLength="5.8" lengthAdjust="spacingAndGlyphs">c</text>
<rect x="927.5" y="43.72" width="9.6" height="11.97" fill="#f8696f"/>
<text x="932.3" y="53.21" class="m" fill="#5c0c10" stroke="#5c0c10" textLength="5.8" lengthAdjust="spacingAndGlyphs">c</text>
<rect x="371" y="55.3" width="9.6" height="11.97" fill="#f8696f"/>
<text x="375.8" y="64.78" class="m" fill="#5c0c10" stroke="#5c0c10" textLength="5.8" lengthAdjust="spacingAndGlyphs">c</text>
<rect x="539" y="55.3" width="9.6" height="11.97" fill="#f8696f"/>
<text x="543.8" y="64.78" class="m" fill="#5c0c10" stroke="#5c0c10" textLength="5.8" lengthAdjust="spacingAndGlyphs">c</text>
<rect x="560" y="55.3" width="9.6" height="11.97" fill="#f8696f"/>
<text x="564.8" y="64.78" class="m" fill="#5c0c10" stroke="#5c0c10" textLength="5.8" lengthAdjust="spacingAndGlyphs">c</text>
<rect x="728" y="55.3" width="9.6" height="11.97" fill="#f8696f"/>
<text x="732.8" y="64.78" class="m" fill="#5c0c10" stroke="#5c0c10" textLength="5.8" lengthAdjust="spacingAndGlyphs">c</text>
<rect x="738.5" y="55.3" width="9.6" height="11.97" fill="#f8696f"/>
<text x="743.3" y="64.78" class="m" fill="#5c0c10" stroke="#5c0c10" textLength="5.8" lengthAdjust="spacingAndGlyphs">c</text>
<rect x="812" y="55.3" width="9.6" height="11.97" fill="#f8696f"/>
<text x="816.8" y="64.78" class="m" fill="#5c0c10" stroke="#5c0c10" textLength="5.8" lengthAdjust="spacingAndGlyphs">c</text>
<rect x="927.5" y="55.3" width="9.6" height="11.97" fill="#f8696f"/>
<text x="932.3" y="64.78" class="m" fill="#5c0c10" stroke="#5c0c10" textLength="5.8" lengthAdjust="spacingAndGlyphs">c</text>
<rect x="360.5" y="66.86" width="9.6" height="11.97" fill="#fda80c"/>
<text x="365.3" y="76.35" class="m" fill="#4a3000" stroke="#4a3000" textLength="6.4" lengthAdjust="spacingAndGlyphs">d</text>
<rect x="371" y="66.86" width="9.6" height="11.97" fill="#f8696f"/>
<text x="375.8" y="76.35" class="m" fill="#5c0c10" stroke="#5c0c10" textLength="5.8" lengthAdjust="spacingAndGlyphs">c</text>
<rect x="539" y="66.86" width="9.6" height="11.97" fill="#f8696f"/>
<text x="543.8" y="76.35" class="m" fill="#5c0c10" stroke="#5c0c10" textLength="5.8" lengthAdjust="spacingAndGlyphs">c</text>
<rect x="560" y="66.86" width="9.6" height="11.97" fill="#f8696f"/>
<text x="564.8" y="76.35" class="m" fill="#5c0c10" stroke="#5c0c10" textLength="5.8" lengthAdjust="spacingAndGlyphs">c</text>
<rect x="927.5" y="66.86" width="9.6" height="11.97" fill="#f8696f"/>
<text x="932.3" y="76.35" class="m" fill="#5c0c10" stroke="#5c0c10" textLength="5.8" lengthAdjust="spacingAndGlyphs">c</text>
<rect x="329" y="78.44" width="9.6" height="11.97" fill="#fda80c"/>
<text x="333.8" y="87.92" class="m" fill="#4a3000" stroke="#4a3000" textLength="6.4" lengthAdjust="spacingAndGlyphs">d</text>
<rect x="371" y="78.44" width="9.6" height="11.97" fill="#f8696f"/>
<text x="375.8" y="87.92" class="m" fill="#5c0c10" stroke="#5c0c10" textLength="5.8" lengthAdjust="spacingAndGlyphs">c</text>
<rect x="560" y="78.44" width="9.6" height="11.97" fill="#f8696f"/>
<text x="564.8" y="87.92" class="m" fill="#5c0c10" stroke="#5c0c10" textLength="5.8" lengthAdjust="spacingAndGlyphs">c</text>
<rect x="917" y="78.44" width="9.6" height="11.97" fill="#fda80c"/>
<text x="921.8" y="87.92" class="m" fill="#4a3000" stroke="#4a3000" textLength="6.4" lengthAdjust="spacingAndGlyphs">d</text>
<rect x="927.5" y="78.44" width="9.6" height="11.97" fill="#f8696f"/>
<text x="932.3" y="87.92" class="m" fill="#5c0c10" stroke="#5c0c10" textLength="5.8" lengthAdjust="spacingAndGlyphs">c</text>
<rect x="339.5" y="90.01" width="9.6" height="11.97" fill="#a0a2fa"/>
<text x="344.3" y="99.49" class="m" fill="#23277a" stroke="#23277a" textLength="6.4" lengthAdjust="spacingAndGlyphs">o</text>
<rect x="371" y="90.01" width="9.6" height="11.97" fill="#f8696f"/>
<text x="375.8" y="99.49" class="m" fill="#5c0c10" stroke="#5c0c10" textLength="5.8" lengthAdjust="spacingAndGlyphs">c</text>
<rect x="560" y="90.01" width="9.6" height="11.97" fill="#f8696f"/>
<text x="564.8" y="99.49" class="m" fill="#5c0c10" stroke="#5c0c10" textLength="5.8" lengthAdjust="spacingAndGlyphs">c</text>
<rect x="927.5" y="90.01" width="9.6" height="11.97" fill="#f8696f"/>
<text x="932.3" y="99.49" class="m" fill="#5c0c10" stroke="#5c0c10" textLength="5.8" lengthAdjust="spacingAndGlyphs">c</text>
<rect x="371" y="101.58" width="9.6" height="11.97" fill="#f8696f"/>
<text x="375.8" y="111.06" class="m" fill="#5c0c10" stroke="#5c0c10" textLength="5.8" lengthAdjust="spacingAndGlyphs">c</text>
<rect x="917" y="101.58" width="9.6" height="11.97" fill="#fda80c"/>
<text x="921.8" y="111.06" class="m" fill="#4a3000" stroke="#4a3000" textLength="6.4" lengthAdjust="spacingAndGlyphs">d</text>
<rect x="927.5" y="101.58" width="9.6" height="11.97" fill="#f8696f"/>
<text x="932.3" y="111.06" class="m" fill="#5c0c10" stroke="#5c0c10" textLength="5.8" lengthAdjust="spacingAndGlyphs">c</text>
<rect x="339.5" y="113.14" width="9.6" height="11.97" fill="#a0a2fa"/>
<text x="344.3" y="122.63" class="m" fill="#23277a" stroke="#23277a" textLength="6.4" lengthAdjust="spacingAndGlyphs">o</text>
<rect x="371" y="113.14" width="9.6" height="11.97" fill="#f8696f"/>
<text x="375.8" y="122.63" class="m" fill="#5c0c10" stroke="#5c0c10" textLength="5.8" lengthAdjust="spacingAndGlyphs">c</text>
<rect x="539" y="113.14" width="9.6" height="11.97" fill="#f8696f"/>
<text x="543.8" y="122.63" class="m" fill="#5c0c10" stroke="#5c0c10" textLength="5.8" lengthAdjust="spacingAndGlyphs">c</text>
<rect x="560" y="113.14" width="9.6" height="11.97" fill="#f8696f"/>
<text x="564.8" y="122.63" class="m" fill="#5c0c10" stroke="#5c0c10" textLength="5.8" lengthAdjust="spacingAndGlyphs">c</text>
<rect x="917" y="113.14" width="9.6" height="11.97" fill="#fda80c"/>
<text x="921.8" y="122.63" class="m" fill="#4a3000" stroke="#4a3000" textLength="6.4" lengthAdjust="spacingAndGlyphs">d</text>
<rect x="927.5" y="113.14" width="9.6" height="11.97" fill="#f8696f"/>
<text x="932.3" y="122.63" class="m" fill="#5c0c10" stroke="#5c0c10" textLength="5.8" lengthAdjust="spacingAndGlyphs">c</text>
<rect x="329" y="124.71" width="9.6" height="11.97" fill="#fda80c"/>
<text x="333.8" y="134.2" class="m" fill="#4a3000" stroke="#4a3000" textLength="6.4" lengthAdjust="spacingAndGlyphs">d</text>
<rect x="339.5" y="124.71" width="9.6" height="11.97" fill="#a0a2fa"/>
<text x="344.3" y="134.2" class="m" fill="#23277a" stroke="#23277a" textLength="6.4" lengthAdjust="spacingAndGlyphs">o</text>
<rect x="371" y="124.71" width="9.6" height="11.97" fill="#f8696f"/>
<text x="375.8" y="134.2" class="m" fill="#5c0c10" stroke="#5c0c10" textLength="5.8" lengthAdjust="spacingAndGlyphs">c</text>
<rect x="539" y="124.71" width="9.6" height="11.97" fill="#f8696f"/>
<text x="543.8" y="134.2" class="m" fill="#5c0c10" stroke="#5c0c10" textLength="5.8" lengthAdjust="spacingAndGlyphs">c</text>
<rect x="560" y="124.71" width="9.6" height="11.97" fill="#f8696f"/>
<text x="564.8" y="134.2" class="m" fill="#5c0c10" stroke="#5c0c10" textLength="5.8" lengthAdjust="spacingAndGlyphs">c</text>
<rect x="927.5" y="124.71" width="9.6" height="11.97" fill="#f8696f"/>
<text x="932.3" y="134.2" class="m" fill="#5c0c10" stroke="#5c0c10" textLength="5.8" lengthAdjust="spacingAndGlyphs">c</text>
<rect x="371" y="136.29" width="9.6" height="11.97" fill="#f8696f"/>
<text x="375.8" y="145.77" class="m" fill="#5c0c10" stroke="#5c0c10" textLength="5.8" lengthAdjust="spacingAndGlyphs">c</text>
<rect x="539" y="136.29" width="9.6" height="11.97" fill="#f8696f"/>
<text x="543.8" y="145.77" class="m" fill="#5c0c10" stroke="#5c0c10" textLength="5.8" lengthAdjust="spacingAndGlyphs">c</text>
<rect x="560" y="136.29" width="9.6" height="11.97" fill="#f8696f"/>
<text x="564.8" y="145.77" class="m" fill="#5c0c10" stroke="#5c0c10" textLength="5.8" lengthAdjust="spacingAndGlyphs">c</text>
<rect x="927.5" y="136.29" width="9.6" height="11.97" fill="#f8696f"/>
<text x="932.3" y="145.77" class="m" fill="#5c0c10" stroke="#5c0c10" textLength="5.8" lengthAdjust="spacingAndGlyphs">c</text>
<rect x="371" y="147.86" width="9.6" height="11.97" fill="#f8696f"/>
<text x="375.8" y="157.34" class="m" fill="#5c0c10" stroke="#5c0c10" textLength="5.8" lengthAdjust="spacingAndGlyphs">c</text>
<rect x="539" y="147.86" width="9.6" height="11.97" fill="#f8696f"/>
<text x="543.8" y="157.34" class="m" fill="#5c0c10" stroke="#5c0c10" textLength="5.8" lengthAdjust="spacingAndGlyphs">c</text>
<rect x="560" y="147.86" width="9.6" height="11.97" fill="#f8696f"/>
<text x="564.8" y="157.34" class="m" fill="#5c0c10" stroke="#5c0c10" textLength="5.8" lengthAdjust="spacingAndGlyphs">c</text>
<rect x="686" y="147.86" width="9.6" height="11.97" fill="#fda80c"/>
<text x="690.8" y="157.34" class="m" fill="#4a3000" stroke="#4a3000" textLength="6.4" lengthAdjust="spacingAndGlyphs">d</text>
<rect x="917" y="147.86" width="9.6" height="11.97" fill="#fda80c"/>
<text x="921.8" y="157.34" class="m" fill="#4a3000" stroke="#4a3000" textLength="6.4" lengthAdjust="spacingAndGlyphs">d</text>
<rect x="927.5" y="147.86" width="9.6" height="11.97" fill="#f8696f"/>
<text x="932.3" y="157.34" class="m" fill="#5c0c10" stroke="#5c0c10" textLength="5.8" lengthAdjust="spacingAndGlyphs">c</text>
<rect x="329" y="159.43" width="9.6" height="11.97" fill="#fda80c"/>
<text x="333.8" y="168.91" class="m" fill="#4a3000" stroke="#4a3000" textLength="6.4" lengthAdjust="spacingAndGlyphs">d</text>
<rect x="371" y="159.43" width="9.6" height="11.97" fill="#f8696f"/>
<text x="375.8" y="168.91" class="m" fill="#5c0c10" stroke="#5c0c10" textLength="5.8" lengthAdjust="spacingAndGlyphs">c</text>
<rect x="539" y="159.43" width="9.6" height="11.97" fill="#f8696f"/>
<text x="543.8" y="168.91" class="m" fill="#5c0c10" stroke="#5c0c10" textLength="5.8" lengthAdjust="spacingAndGlyphs">c</text>
<rect x="560" y="159.43" width="9.6" height="11.97" fill="#f8696f"/>
<text x="564.8" y="168.91" class="m" fill="#5c0c10" stroke="#5c0c10" textLength="5.8" lengthAdjust="spacingAndGlyphs">c</text>
<rect x="339.5" y="171" width="9.6" height="11.97" fill="#a0a2fa"/>
<text x="344.3" y="180.48" class="m" fill="#23277a" stroke="#23277a" textLength="6.4" lengthAdjust="spacingAndGlyphs">o</text>
<rect x="371" y="171" width="9.6" height="11.97" fill="#f8696f"/>
<text x="375.8" y="180.48" class="m" fill="#5c0c10" stroke="#5c0c10" textLength="5.8" lengthAdjust="spacingAndGlyphs">c</text>
<rect x="539" y="171" width="9.6" height="11.97" fill="#f8696f"/>
<text x="543.8" y="180.48" class="m" fill="#5c0c10" stroke="#5c0c10" textLength="5.8" lengthAdjust="spacingAndGlyphs">c</text>
<rect x="560" y="171" width="9.6" height="11.97" fill="#f8696f"/>
<text x="564.8" y="180.48" class="m" fill="#5c0c10" stroke="#5c0c10" textLength="5.8" lengthAdjust="spacingAndGlyphs">c</text>
<rect x="371" y="182.57" width="9.6" height="11.97" fill="#f8696f"/>
<text x="375.8" y="192.05" class="m" fill="#5c0c10" stroke="#5c0c10" textLength="5.8" lengthAdjust="spacingAndGlyphs">c</text>
<rect x="539" y="194.14" width="9.6" height="11.97" fill="#f8696f"/>
<text x="543.8" y="203.62" class="m" fill="#5c0c10" stroke="#5c0c10" textLength="5.8" lengthAdjust="spacingAndGlyphs">c</text>
<rect x="560" y="194.14" width="9.6" height="11.97" fill="#f8696f"/>
<text x="564.8" y="203.62" class="m" fill="#5c0c10" stroke="#5c0c10" textLength="5.8" lengthAdjust="spacingAndGlyphs">c</text>
<rect x="539" y="205.71" width="9.6" height="11.97" fill="#f8696f"/>
<text x="543.8" y="215.19" class="m" fill="#5c0c10" stroke="#5c0c10" textLength="5.8" lengthAdjust="spacingAndGlyphs">c</text>
<rect x="560" y="205.71" width="9.6" height="11.97" fill="#f8696f"/>
<text x="564.8" y="215.19" class="m" fill="#5c0c10" stroke="#5c0c10" textLength="5.8" lengthAdjust="spacingAndGlyphs">c</text>
<rect x="539" y="217.28" width="9.6" height="11.97" fill="#f8696f"/>
<text x="543.8" y="226.76" class="m" fill="#5c0c10" stroke="#5c0c10" textLength="5.8" lengthAdjust="spacingAndGlyphs">c</text>
<rect x="560" y="217.28" width="9.6" height="11.97" fill="#f8696f"/>
<text x="564.8" y="226.76" class="m" fill="#5c0c10" stroke="#5c0c10" textLength="5.8" lengthAdjust="spacingAndGlyphs">c</text>
<rect x="1013.5" y="-7.2" width="9.8" height="11.8" fill="#f8696f"/>
<text x="1018.4" y="2.2" class="m" fill="#5c0c10" stroke="#5c0c10" textLength="5.8" lengthAdjust="spacingAndGlyphs">c</text>
<text x="1026.5" y="2.4" class="lg" textLength="148" lengthAdjust="spacingAndGlyphs">Carbamidomethylation (+57.02)</text>
<rect x="1013.5" y="6.35" width="9.8" height="11.8" fill="#fda80c"/>
<text x="1018.4" y="15.75" class="m" fill="#4a3000" stroke="#4a3000" textLength="6.4" lengthAdjust="spacingAndGlyphs">d</text>
<text x="1026.5" y="15.95" class="lg" textLength="121" lengthAdjust="spacingAndGlyphs">Deamidation (NQ) (+0.98)</text>
<rect x="1013.5" y="19.9" width="9.8" height="11.8" fill="#a0a2fa"/>
<text x="1018.4" y="29.3" class="m" fill="#23277a" stroke="#23277a" textLength="6.4" lengthAdjust="spacingAndGlyphs">o</text>
<text x="1026.5" y="29.5" class="lg" textLength="108" lengthAdjust="spacingAndGlyphs">Oxidation (M) (+15.99)</text>
</g>
<g transform="translate(0 3223.5)">
<rect x="66.4" y="-9.2" width="210" height="16.7" fill="#d3d3d3"/>
<rect x="412.9" y="-9.2" width="283.5" height="16.7" fill="#d3d3d3"/>
<text x="47" y="4.2" class="n" text-anchor="end">81</text>
<text x="66.4" y="4.4" class="sb" textLength="105" lengthAdjust="spacingAndGlyphs">KTYEYTCNKP</text>
<text x="181.9" y="4.4" class="sb" textLength="94.5" lengthAdjust="spacingAndGlyphs">DITCTDAKG</text>
<text x="276.4" y="4.4" class="s" textLength="10.5" lengthAdjust="spacingAndGlyphs">S</text>
<text x="297.4" y="4.4" class="s" textLength="105" lengthAdjust="spacingAndGlyphs">CGRTVCDCDR</text>
<text x="412.9" y="4.4" class="sb" textLength="105" lengthAdjust="spacingAndGlyphs">AAAICFAAAP</text>
<text x="528.4" y="4.4" class="sb" textLength="105" lengthAdjust="spacingAndGlyphs">YNLANFGIDK</text>
<text x="643.9" y="4.4" class="sb" textLength="52.5" lengthAdjust="spacingAndGlyphs">EKHCQ</text>
<rect x="129.5" y="-20.9" width="9.6" height="11.9" fill="#f8696f"/>
<text x="134.3" y="-11.45" class="m" fill="#5c0c10" stroke="#5c0c10" textLength="5.8" lengthAdjust="spacingAndGlyphs">c</text>
<text x="134.3" y="-22.2" class="t" textLength="9" lengthAdjust="spacingAndGlyphs">87</text>
<rect x="140" y="-20.9" width="9.6" height="11.9" fill="#fda80c"/>
<text x="144.8" y="-11.45" class="m" fill="#4a3000" stroke="#4a3000" textLength="6.4" lengthAdjust="spacingAndGlyphs">d</text>
<text x="144.8" y="-22.2" class="t" textLength="9" lengthAdjust="spacingAndGlyphs">88</text>
<rect x="213.5" y="-20.9" width="9.6" height="11.9" fill="#f8696f"/>
<text x="218.3" y="-11.45" class="m" fill="#5c0c10" stroke="#5c0c10" textLength="5.8" lengthAdjust="spacingAndGlyphs">c</text>
<text x="218.3" y="-22.2" class="t" textLength="9" lengthAdjust="spacingAndGlyphs">94</text>
<rect x="455" y="-20.9" width="9.6" height="11.9" fill="#f8696f"/>
<text x="459.8" y="-11.45" class="m" fill="#5c0c10" stroke="#5c0c10" textLength="5.8" lengthAdjust="spacingAndGlyphs">c</text>
<text x="459.8" y="-22.2" class="t" textLength="13.5" lengthAdjust="spacingAndGlyphs">115</text>
<rect x="570.5" y="-20.9" width="9.6" height="11.9" fill="#fda80c"/>
<text x="575.3" y="-11.45" class="m" fill="#4a3000" stroke="#4a3000" textLength="6.4" lengthAdjust="spacingAndGlyphs">d</text>
<text x="575.3" y="-22.2" class="t" textLength="13.5" lengthAdjust="spacingAndGlyphs">125</text>
<path d="M82.75 -10.3l-10.2 -19.4l8.2 3.7v-13.9h4v13.9l8.2 -3.7z" fill="#5ff75c"/>
<path d="M66.4 15H265.9M412.9 15H517.9M66.4 26.57H76.9M76.9 26.57H160.9M412.9 26.57H549.4M66.4 38.14H76.9M76.9 38.14H192.4M412.9 38.14H549.4M66.4 49.71H265.9M412.9 49.71H696.4M66.4 61.28H76.9M76.9 61.28H265.9M412.9 61.28H538.9M66.4 72.85H76.9M76.9 72.85H276.4M412.9 72.85H664.9M66.4 84.42H76.9M76.9 84.42H265.9M412.9 84.42H696.4M66.4 95.99H76.9M76.9 95.99H244.9M412.9 95.99H664.9M66.4 107.56H76.9M76.9 107.56H223.9M412.9 107.56H580.9M66.4 119.13H265.9M412.9 119.13H580.9M66.4 130.7H265.9M412.9 130.7H570.4M66.4 142.27H76.9M76.9 142.27H234.4M465.4 142.27H664.9M66.4 153.84H76.9M76.9 153.84H255.4M465.4 153.84H633.4M66.4 165.41H265.9M475.9 165.41H664.9M66.4 176.98H265.9M475.9 176.98H664.9M66.4 188.55H265.9M76.9 200.12H244.9M87.4 211.69H265.9M118.9 223.26H265.9M139.9 234.83H265.9M150.4 246.4H265.9" stroke="#3690f8" stroke-width="3.6" fill="none"/>
<path d="M265.9 11.5v7M412.9 11.5v7M517.9 11.5v7M76.9 23.07v7M76.9 23.07v7M160.9 23.07v7M412.9 23.07v7M549.4 23.07v7M76.9 34.64v7M76.9 34.64v7M192.4 34.64v7M412.9 34.64v7M265.9 46.21v7M412.9 46.21v7M696.4 46.21v7M76.9 57.78v7M76.9 57.78v7M265.9 57.78v7M412.9 57.78v7M538.9 57.78v7M76.9 69.35v7M76.9 69.35v7M276.4 69.35v7M412.9 69.35v7M664.9 69.35v7M76.9 80.92v7M76.9 80.92v7M265.9 80.92v7M412.9 80.92v7M696.4 80.92v7M76.9 92.49v7M76.9 92.49v7M244.9 92.49v7M412.9 92.49v7M664.9 92.49v7M76.9 104.06v7M76.9 104.06v7M412.9 104.06v7M580.9 104.06v7M265.9 115.63v7M412.9 115.63v7M580.9 115.63v7M265.9 127.2v7M412.9 127.2v7M570.4 127.2v7M76.9 138.77v7M76.9 138.77v7M234.4 138.77v7M465.4 138.77v7M664.9 138.77v7M76.9 150.34v7M76.9 150.34v7M255.4 150.34v7M465.4 150.34v7M633.4 150.34v7M265.9 161.91v7M475.9 161.91v7M664.9 161.91v7M66.4 173.48v7M265.9 173.48v7M475.9 173.48v7M664.9 173.48v7M66.4 185.05v7M265.9 185.05v7M76.9 196.62v7M244.9 196.62v7M87.4 208.19v7M265.9 208.19v7M118.9 219.76v7M265.9 219.76v7M139.9 231.33v7M265.9 231.33v7M150.4 242.9v7M265.9 242.9v7" stroke="#3690f8" stroke-width="1.25" fill="none"/>
<rect x="129.5" y="9.02" width="9.6" height="11.97" fill="#f8696f"/>
<text x="134.3" y="18.5" class="m" fill="#5c0c10" stroke="#5c0c10" textLength="5.8" lengthAdjust="spacingAndGlyphs">c</text>
<rect x="213.5" y="9.02" width="9.6" height="11.97" fill="#f8696f"/>
<text x="218.3" y="18.5" class="m" fill="#5c0c10" stroke="#5c0c10" textLength="5.8" lengthAdjust="spacingAndGlyphs">c</text>
<rect x="455" y="9.02" width="9.6" height="11.97" fill="#f8696f"/>
<text x="459.8" y="18.5" class="m" fill="#5c0c10" stroke="#5c0c10" textLength="5.8" lengthAdjust="spacingAndGlyphs">c</text>
<rect x="129.5" y="20.59" width="9.6" height="11.97" fill="#f8696f"/>
<text x="134.3" y="30.07" class="m" fill="#5c0c10" stroke="#5c0c10" textLength="5.8" lengthAdjust="spacingAndGlyphs">c</text>
<rect x="455" y="20.59" width="9.6" height="11.97" fill="#f8696f"/>
<text x="459.8" y="30.07" class="m" fill="#5c0c10" stroke="#5c0c10" textLength="5.8" lengthAdjust="spacingAndGlyphs">c</text>
<rect x="129.5" y="32.16" width="9.6" height="11.97" fill="#f8696f"/>
<text x="134.3" y="41.64" class="m" fill="#5c0c10" stroke="#5c0c10" textLength="5.8" lengthAdjust="spacingAndGlyphs">c</text>
<rect x="455" y="32.16" width="9.6" height="11.97" fill="#f8696f"/>
<text x="459.8" y="41.64" class="m" fill="#5c0c10" stroke="#5c0c10" textLength="5.8" lengthAdjust="spacingAndGlyphs">c</text>
<rect x="539" y="32.16" width="9.6" height="11.97" fill="#fda80c"/>
<text x="543.8" y="41.64" class="m" fill="#4a3000" stroke="#4a3000" textLength="6.4" lengthAdjust="spacingAndGlyphs">d</text>
<rect x="129.5" y="43.72" width="9.6" height="11.97" fill="#f8696f"/>
<text x="134.3" y="53.21" class="m" fill="#5c0c10" stroke="#5c0c10" textLength="5.8" lengthAdjust="spacingAndGlyphs">c</text>
<rect x="213.5" y="43.72" width="9.6" height="11.97" fill="#f8696f"/>
<text x="218.3" y="53.21" class="m" fill="#5c0c10" stroke="#5c0c10" textLength="5.8" lengthAdjust="spacingAndGlyphs">c</text>
<rect x="455" y="43.72" width="9.6" height="11.97" fill="#f8696f"/>
<text x="459.8" y="53.21" class="m" fill="#5c0c10" stroke="#5c0c10" textLength="5.8" lengthAdjust="spacingAndGlyphs">c</text>
<rect x="675.5" y="43.72" width="9.6" height="11.97" fill="#f8696f"/>
<text x="680.3" y="53.21" class="m" fill="#5c0c10" stroke="#5c0c10" textLength="5.8" lengthAdjust="spacingAndGlyphs">c</text>
<rect x="129.5" y="55.3" width="9.6" height="11.97" fill="#f8696f"/>
<text x="134.3" y="64.78" class="m" fill="#5c0c10" stroke="#5c0c10" textLength="5.8" lengthAdjust="spacingAndGlyphs">c</text>
<rect x="213.5" y="55.3" width="9.6" height="11.97" fill="#f8696f"/>
<text x="218.3" y="64.78" class="m" fill="#5c0c10" stroke="#5c0c10" textLength="5.8" lengthAdjust="spacingAndGlyphs">c</text>
<rect x="455" y="55.3" width="9.6" height="11.97" fill="#f8696f"/>
<text x="459.8" y="64.78" class="m" fill="#5c0c10" stroke="#5c0c10" textLength="5.8" lengthAdjust="spacingAndGlyphs">c</text>
<rect x="129.5" y="66.86" width="9.6" height="11.97" fill="#f8696f"/>
<text x="134.3" y="76.35" class="m" fill="#5c0c10" stroke="#5c0c10" textLength="5.8" lengthAdjust="spacingAndGlyphs">c</text>
<rect x="213.5" y="66.86" width="9.6" height="11.97" fill="#f8696f"/>
<text x="218.3" y="76.35" class="m" fill="#5c0c10" stroke="#5c0c10" textLength="5.8" lengthAdjust="spacingAndGlyphs">c</text>
<rect x="455" y="66.86" width="9.6" height="11.97" fill="#f8696f"/>
<text x="459.8" y="76.35" class="m" fill="#5c0c10" stroke="#5c0c10" textLength="5.8" lengthAdjust="spacingAndGlyphs">c</text>
<rect x="129.5" y="78.44" width="9.6" height="11.97" fill="#f8696f"/>
<text x="134.3" y="87.92" class="m" fill="#5c0c10" stroke="#5c0c10" textLength="5.8" lengthAdjust="spacingAndGlyphs">c</text>
<rect x="140" y="78.44" width="9.6" height="11.97" fill="#fda80c"/>
<text x="144.8" y="87.92" class="m" fill="#4a3000" stroke="#4a3000" textLength="6.4" lengthAdjust="spacingAndGlyphs">d</text>
<rect x="213.5" y="78.44" width="9.6" height="11.97" fill="#f8696f"/>
<text x="218.3" y="87.92" class="m" fill="#5c0c10" stroke="#5c0c10" textLength="5.8" lengthAdjust="spacingAndGlyphs">c</text>
<rect x="455" y="78.44" width="9.6" height="11.97" fill="#f8696f"/>
<text x="459.8" y="87.92" class="m" fill="#5c0c10" stroke="#5c0c10" textLength="5.8" lengthAdjust="spacingAndGlyphs">c</text>
<rect x="539" y="78.44" width="9.6" height="11.97" fill="#fda80c"/>
<text x="543.8" y="87.92" class="m" fill="#4a3000" stroke="#4a3000" textLength="6.4" lengthAdjust="spacingAndGlyphs">d</text>
<rect x="675.5" y="78.44" width="9.6" height="11.97" fill="#f8696f"/>
<text x="680.3" y="87.92" class="m" fill="#5c0c10" stroke="#5c0c10" textLength="5.8" lengthAdjust="spacingAndGlyphs">c</text>
<rect x="129.5" y="90.01" width="9.6" height="11.97" fill="#f8696f"/>
<text x="134.3" y="99.49" class="m" fill="#5c0c10" stroke="#5c0c10" textLength="5.8" lengthAdjust="spacingAndGlyphs">c</text>
<rect x="213.5" y="90.01" width="9.6" height="11.97" fill="#f8696f"/>
<text x="218.3" y="99.49" class="m" fill="#5c0c10" stroke="#5c0c10" textLength="5.8" lengthAdjust="spacingAndGlyphs">c</text>
<rect x="455" y="90.01" width="9.6" height="11.97" fill="#f8696f"/>
<text x="459.8" y="99.49" class="m" fill="#5c0c10" stroke="#5c0c10" textLength="5.8" lengthAdjust="spacingAndGlyphs">c</text>
<rect x="570.5" y="90.01" width="9.6" height="11.97" fill="#fda80c"/>
<text x="575.3" y="99.49" class="m" fill="#4a3000" stroke="#4a3000" textLength="6.4" lengthAdjust="spacingAndGlyphs">d</text>
<rect x="129.5" y="101.58" width="9.6" height="11.97" fill="#f8696f"/>
<text x="134.3" y="111.06" class="m" fill="#5c0c10" stroke="#5c0c10" textLength="5.8" lengthAdjust="spacingAndGlyphs">c</text>
<rect x="213.5" y="101.58" width="9.6" height="11.97" fill="#f8696f"/>
<text x="218.3" y="111.06" class="m" fill="#5c0c10" stroke="#5c0c10" textLength="5.8" lengthAdjust="spacingAndGlyphs">c</text>
<rect x="455" y="101.58" width="9.6" height="11.97" fill="#f8696f"/>
<text x="459.8" y="111.06" class="m" fill="#5c0c10" stroke="#5c0c10" textLength="5.8" lengthAdjust="spacingAndGlyphs">c</text>
<rect x="539" y="101.58" width="9.6" height="11.97" fill="#fda80c"/>
<text x="543.8" y="111.06" class="m" fill="#4a3000" stroke="#4a3000" textLength="6.4" lengthAdjust="spacingAndGlyphs">d</text>
<rect x="129.5" y="113.14" width="9.6" height="11.97" fill="#f8696f"/>
<text x="134.3" y="122.63" class="m" fill="#5c0c10" stroke="#5c0c10" textLength="5.8" lengthAdjust="spacingAndGlyphs">c</text>
<rect x="213.5" y="113.14" width="9.6" height="11.97" fill="#f8696f"/>
<text x="218.3" y="122.63" class="m" fill="#5c0c10" stroke="#5c0c10" textLength="5.8" lengthAdjust="spacingAndGlyphs">c</text>
<rect x="455" y="113.14" width="9.6" height="11.97" fill="#f8696f"/>
<text x="459.8" y="122.63" class="m" fill="#5c0c10" stroke="#5c0c10" textLength="5.8" lengthAdjust="spacingAndGlyphs">c</text>
<rect x="129.5" y="124.71" width="9.6" height="11.97" fill="#f8696f"/>
<text x="134.3" y="134.2" class="m" fill="#5c0c10" stroke="#5c0c10" textLength="5.8" lengthAdjust="spacingAndGlyphs">c</text>
<rect x="213.5" y="124.71" width="9.6" height="11.97" fill="#f8696f"/>
<text x="218.3" y="134.2" class="m" fill="#5c0c10" stroke="#5c0c10" textLength="5.8" lengthAdjust="spacingAndGlyphs">c</text>
<rect x="455" y="124.71" width="9.6" height="11.97" fill="#f8696f"/>
<text x="459.8" y="134.2" class="m" fill="#5c0c10" stroke="#5c0c10" textLength="5.8" lengthAdjust="spacingAndGlyphs">c</text>
<rect x="129.5" y="136.29" width="9.6" height="11.97" fill="#f8696f"/>
<text x="134.3" y="145.77" class="m" fill="#5c0c10" stroke="#5c0c10" textLength="5.8" lengthAdjust="spacingAndGlyphs">c</text>
<rect x="213.5" y="136.29" width="9.6" height="11.97" fill="#f8696f"/>
<text x="218.3" y="145.77" class="m" fill="#5c0c10" stroke="#5c0c10" textLength="5.8" lengthAdjust="spacingAndGlyphs">c</text>
<rect x="129.5" y="147.86" width="9.6" height="11.97" fill="#f8696f"/>
<text x="134.3" y="157.34" class="m" fill="#5c0c10" stroke="#5c0c10" textLength="5.8" lengthAdjust="spacingAndGlyphs">c</text>
<rect x="213.5" y="147.86" width="9.6" height="11.97" fill="#f8696f"/>
<text x="218.3" y="157.34" class="m" fill="#5c0c10" stroke="#5c0c10" textLength="5.8" lengthAdjust="spacingAndGlyphs">c</text>
<rect x="129.5" y="159.43" width="9.6" height="11.97" fill="#f8696f"/>
<text x="134.3" y="168.91" class="m" fill="#5c0c10" stroke="#5c0c10" textLength="5.8" lengthAdjust="spacingAndGlyphs">c</text>
<rect x="213.5" y="159.43" width="9.6" height="11.97" fill="#f8696f"/>
<text x="218.3" y="168.91" class="m" fill="#5c0c10" stroke="#5c0c10" textLength="5.8" lengthAdjust="spacingAndGlyphs">c</text>
<rect x="570.5" y="159.43" width="9.6" height="11.97" fill="#fda80c"/>
<text x="575.3" y="168.91" class="m" fill="#4a3000" stroke="#4a3000" textLength="6.4" lengthAdjust="spacingAndGlyphs">d</text>
<rect x="129.5" y="171" width="9.6" height="11.97" fill="#f8696f"/>
<text x="134.3" y="180.48" class="m" fill="#5c0c10" stroke="#5c0c10" textLength="5.8" lengthAdjust="spacingAndGlyphs">c</text>
<rect x="213.5" y="171" width="9.6" height="11.97" fill="#f8696f"/>
<text x="218.3" y="180.48" class="m" fill="#5c0c10" stroke="#5c0c10" textLength="5.8" lengthAdjust="spacingAndGlyphs">c</text>
<rect x="129.5" y="182.57" width="9.6" height="11.97" fill="#f8696f"/>
<text x="134.3" y="192.05" class="m" fill="#5c0c10" stroke="#5c0c10" textLength="5.8" lengthAdjust="spacingAndGlyphs">c</text>
<rect x="140" y="182.57" width="9.6" height="11.97" fill="#fda80c"/>
<text x="144.8" y="192.05" class="m" fill="#4a3000" stroke="#4a3000" textLength="6.4" lengthAdjust="spacingAndGlyphs">d</text>
<rect x="213.5" y="182.57" width="9.6" height="11.97" fill="#f8696f"/>
<text x="218.3" y="192.05" class="m" fill="#5c0c10" stroke="#5c0c10" textLength="5.8" lengthAdjust="spacingAndGlyphs">c</text>
<rect x="129.5" y="194.14" width="9.6" height="11.97" fill="#f8696f"/>
<text x="134.3" y="203.62" class="m" fill="#5c0c10" stroke="#5c0c10" textLength="5.8" lengthAdjust="spacingAndGlyphs">c</text>
<rect x="140" y="194.14" width="9.6" height="11.97" fill="#fda80c"/>
<text x="144.8" y="203.62" class="m" fill="#4a3000" stroke="#4a3000" textLength="6.4" lengthAdjust="spacingAndGlyphs">d</text>
<rect x="213.5" y="194.14" width="9.6" height="11.97" fill="#f8696f"/>
<text x="218.3" y="203.62" class="m" fill="#5c0c10" stroke="#5c0c10" textLength="5.8" lengthAdjust="spacingAndGlyphs">c</text>
<rect x="129.5" y="205.71" width="9.6" height="11.97" fill="#f8696f"/>
<text x="134.3" y="215.19" class="m" fill="#5c0c10" stroke="#5c0c10" textLength="5.8" lengthAdjust="spacingAndGlyphs">c</text>
<rect x="213.5" y="205.71" width="9.6" height="11.97" fill="#f8696f"/>
<text x="218.3" y="215.19" class="m" fill="#5c0c10" stroke="#5c0c10" textLength="5.8" lengthAdjust="spacingAndGlyphs">c</text>
<rect x="129.5" y="217.28" width="9.6" height="11.97" fill="#f8696f"/>
<text x="134.3" y="226.76" class="m" fill="#5c0c10" stroke="#5c0c10" textLength="5.8" lengthAdjust="spacingAndGlyphs">c</text>
<rect x="213.5" y="217.28" width="9.6" height="11.97" fill="#f8696f"/>
<text x="218.3" y="226.76" class="m" fill="#5c0c10" stroke="#5c0c10" textLength="5.8" lengthAdjust="spacingAndGlyphs">c</text>
<rect x="213.5" y="228.85" width="9.6" height="11.97" fill="#f8696f"/>
<text x="218.3" y="238.33" class="m" fill="#5c0c10" stroke="#5c0c10" textLength="5.8" lengthAdjust="spacingAndGlyphs">c</text>
<rect x="213.5" y="240.42" width="9.6" height="11.97" fill="#f8696f"/>
<text x="218.3" y="249.9" class="m" fill="#5c0c10" stroke="#5c0c10" textLength="5.8" lengthAdjust="spacingAndGlyphs">c</text>
</g>
</svg></body></html>
